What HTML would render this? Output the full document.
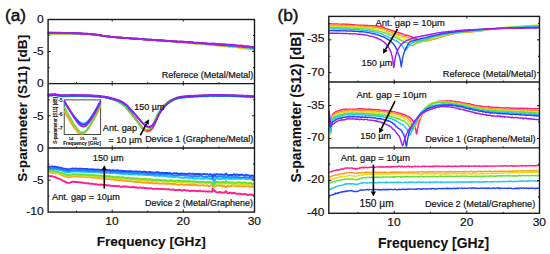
<!DOCTYPE html>
<html><head><meta charset="utf-8"><style>
html,body{margin:0;padding:0;background:#fff;width:550px;height:254px;overflow:hidden}
svg{display:block}
</style></head><body>
<svg width="550" height="254" viewBox="0 0 550 254">
<rect width="550" height="254" fill="#fff"/>
<defs><filter id="sb" x="-5%" y="-50%" width="110%" height="200%"><feGaussianBlur stdDeviation="0.35"/></filter><filter id="tb" x="-5%" y="-20%" width="110%" height="140%"><feGaussianBlur stdDeviation="0.2"/></filter></defs>
<path d="M48.6,34.0 L49.4,34.0 L50.1,34.0 L50.9,33.9 L51.6,33.9 L52.4,33.9 L53.1,33.9 L53.9,33.9 L54.6,33.9 L55.4,33.8 L56.1,33.9 L56.9,33.9 L57.6,33.9 L58.4,33.8 L59.1,33.8 L59.9,33.9 L60.6,33.8 L61.4,33.7 L62.1,33.7 L62.9,33.7 L63.6,33.7 L64.3,33.7 L65.1,33.7 L65.8,33.8 L66.6,33.8 L67.3,33.8 L68.1,33.7 L68.8,33.6 L69.6,33.8 L70.3,33.8 L71.1,33.7 L71.8,33.7 L72.6,33.7 L73.3,33.7 L74.1,33.8 L74.8,33.8 L75.6,33.8 L76.3,33.9 L77.1,33.9 L77.8,33.8 L78.6,33.9 L79.3,33.9 L80.1,33.9 L80.8,33.9 L81.6,34.0 L82.3,34.0 L83.1,34.0 L83.8,34.1 L84.6,34.0 L85.3,34.2 L86.1,34.3 L86.8,34.1 L87.6,34.1 L88.3,34.2 L89.1,34.2 L89.8,34.3 L90.6,34.3 L91.3,34.4 L92.1,34.5 L92.8,34.5 L93.6,34.5 L94.3,34.6 L95.1,34.7 L95.8,34.7 L96.6,34.7 L97.3,34.9 L98.1,35.1 L98.8,35.3 L99.6,35.2 L100.3,35.2 L101.1,35.5 L101.8,35.5 L102.6,35.6 L103.3,35.8 L104.1,36.0 L104.8,36.2 L105.6,36.2 L106.3,36.2 L107.1,36.3 L107.8,36.6 L108.6,36.6 L109.3,36.6 L110.1,36.7 L110.8,36.8 L111.6,36.8 L112.3,36.8 L113.1,36.9 L113.8,37.0 L114.6,37.2 L115.3,37.3 L116.1,37.3 L116.8,37.4 L117.6,37.4 L118.3,37.5 L119.1,37.6 L119.8,37.6 L120.6,37.5 L121.3,37.6 L122.1,37.6 L122.8,37.5 L123.6,37.6 L124.3,37.8 L125.1,37.9 L125.8,38.2 L126.6,38.2 L127.3,38.0 L128.1,38.1 L128.8,38.3 L129.6,38.3 L130.3,38.3 L131.1,38.4 L131.8,38.6 L132.6,38.4 L133.3,38.4 L134.1,38.6 L134.8,38.6 L135.6,38.6 L136.3,38.7 L137.1,38.8 L137.8,39.0 L138.6,39.0 L139.3,38.9 L140.1,39.0 L140.8,38.9 L141.6,38.8 L142.3,39.1 L143.1,39.1 L143.8,39.2 L144.6,39.3 L145.3,39.3 L146.1,39.5 L146.8,39.5 L147.6,39.7 L148.3,39.5 L149.1,39.7 L149.8,40.0 L150.6,40.0 L151.3,39.8 L152.1,39.9 L152.8,39.9 L153.6,40.1 L154.3,40.2 L155.1,40.1 L155.8,40.1 L156.6,40.1 L157.3,40.1 L158.1,40.4 L158.8,40.6 L159.6,40.6 L160.3,40.7 L161.1,40.6 L161.8,40.6 L162.6,40.7 L163.3,40.8 L164.1,40.8 L164.8,40.9 L165.6,40.8 L166.3,40.8 L167.1,41.2 L167.8,41.3 L168.6,41.0 L169.3,41.2 L170.1,41.6 L170.8,41.4 L171.6,41.3 L172.3,41.5 L173.1,41.3 L173.8,41.6 L174.6,41.8 L175.3,41.8 L176.1,41.8 L176.8,41.9 L177.6,42.0 L178.3,42.0 L179.1,42.0 L179.8,41.9 L180.6,42.3 L181.3,42.4 L182.1,42.4 L182.8,42.5 L183.6,42.5 L184.3,42.5 L185.1,42.7 L185.8,42.7 L186.6,42.7 L187.3,42.8 L188.1,43.1 L188.8,43.2 L189.6,43.2 L190.3,43.1 L191.1,42.9 L191.8,43.2 L192.6,43.6 L193.3,43.5 L194.1,43.5 L194.8,43.7 L195.6,43.8 L196.3,43.9 L197.1,43.8 L197.8,43.9 L198.6,43.9 L199.3,43.9 L200.1,44.2 L200.8,44.2 L201.6,44.5 L202.3,44.6 L203.1,44.3 L203.8,43.9 L204.6,44.3 L205.3,44.4 L206.1,44.4 L206.8,44.7 L207.6,44.6 L208.3,44.2 L209.1,44.6 L209.8,44.9 L210.6,44.9 L211.3,45.0 L212.1,45.0 L212.8,44.8 L213.6,45.0 L214.3,45.2 L215.1,45.0 L215.8,45.3 L216.6,45.6 L217.3,45.7 L218.1,45.6 L218.8,45.5 L219.6,45.6 L220.3,45.6 L221.1,45.9 L221.8,46.0 L222.6,46.1 L223.3,46.3 L224.1,46.7 L224.8,46.5 L225.6,46.4 L226.3,46.7 L227.1,46.6 L227.8,46.5 L228.6,46.5 L229.3,46.9 L230.1,47.0 L230.8,47.0 L231.6,47.0 L232.3,47.3 L233.1,47.4 L233.8,47.0 L234.6,46.9 L235.3,47.1 L236.1,46.7 L236.8,47.1 L237.6,47.9 L238.3,48.1 L239.1,47.7 L239.8,47.7 L240.6,48.1 L241.3,48.4 L242.1,48.3 L242.8,48.4 L243.6,48.5 L244.3,48.7 L245.1,48.9 L245.8,48.9 L246.6,48.7 L247.3,48.9 L248.1,49.0 L248.8,49.2 L249.6,49.2 L250.3,49.1 L251.1,49.4 L251.8,49.3 L252.6,49.7 L253.3,50.3 L254.1,50.0" fill="none" stroke="#e2e01a" stroke-width="1.7" stroke-linejoin="round" stroke-linecap="round" filter="url(#sb)"/>
<path d="M48.6,33.4 L49.4,33.4 L50.1,33.3 L50.9,33.3 L51.6,33.4 L52.4,33.4 L53.1,33.3 L53.9,33.3 L54.6,33.3 L55.4,33.4 L56.1,33.4 L56.9,33.4 L57.6,33.4 L58.4,33.4 L59.1,33.3 L59.9,33.3 L60.6,33.4 L61.4,33.5 L62.1,33.5 L62.9,33.5 L63.6,33.4 L64.3,33.4 L65.1,33.4 L65.8,33.4 L66.6,33.4 L67.3,33.5 L68.1,33.5 L68.8,33.5 L69.6,33.4 L70.3,33.4 L71.1,33.5 L71.8,33.6 L72.6,33.5 L73.3,33.5 L74.1,33.4 L74.8,33.5 L75.6,33.6 L76.3,33.6 L77.1,33.6 L77.8,33.6 L78.6,33.6 L79.3,33.6 L80.1,33.6 L80.8,33.7 L81.6,33.7 L82.3,33.8 L83.1,33.8 L83.8,34.0 L84.6,33.9 L85.3,33.8 L86.1,33.9 L86.8,34.0 L87.6,34.0 L88.3,34.0 L89.1,34.3 L89.8,34.3 L90.6,34.2 L91.3,34.2 L92.1,34.3 L92.8,34.3 L93.6,34.3 L94.3,34.6 L95.1,34.7 L95.8,34.7 L96.6,35.0 L97.3,35.1 L98.1,35.1 L98.8,35.3 L99.6,35.4 L100.3,35.3 L101.1,35.4 L101.8,35.5 L102.6,35.8 L103.3,36.0 L104.1,36.0 L104.8,35.9 L105.6,36.1 L106.3,36.3 L107.1,36.4 L107.8,36.5 L108.6,36.6 L109.3,36.6 L110.1,36.7 L110.8,36.8 L111.6,36.9 L112.3,37.0 L113.1,37.2 L113.8,37.3 L114.6,37.2 L115.3,37.1 L116.1,37.1 L116.8,37.2 L117.6,37.1 L118.3,37.4 L119.1,37.6 L119.8,37.6 L120.6,37.4 L121.3,37.5 L122.1,37.6 L122.8,37.8 L123.6,38.1 L124.3,38.1 L125.1,37.9 L125.8,37.8 L126.6,37.9 L127.3,38.1 L128.1,38.0 L128.8,38.1 L129.6,38.2 L130.3,38.3 L131.1,38.6 L131.8,38.6 L132.6,38.5 L133.3,38.6 L134.1,38.6 L134.8,38.6 L135.6,38.6 L136.3,38.6 L137.1,38.6 L137.8,38.8 L138.6,39.0 L139.3,39.0 L140.1,39.1 L140.8,39.0 L141.6,38.9 L142.3,39.1 L143.1,39.3 L143.8,39.3 L144.6,39.4 L145.3,39.5 L146.1,39.4 L146.8,39.3 L147.6,39.6 L148.3,39.8 L149.1,39.5 L149.8,39.7 L150.6,40.0 L151.3,40.1 L152.1,40.0 L152.8,39.9 L153.6,39.9 L154.3,40.2 L155.1,40.4 L155.8,40.3 L156.6,40.3 L157.3,40.2 L158.1,40.2 L158.8,40.2 L159.6,40.5 L160.3,40.5 L161.1,40.6 L161.8,40.8 L162.6,40.6 L163.3,40.6 L164.1,40.7 L164.8,40.8 L165.6,40.9 L166.3,40.8 L167.1,40.9 L167.8,40.9 L168.6,40.9 L169.3,41.0 L170.1,41.4 L170.8,41.2 L171.6,41.2 L172.3,41.4 L173.1,41.3 L173.8,41.5 L174.6,41.7 L175.3,41.8 L176.1,41.8 L176.8,41.7 L177.6,41.9 L178.3,41.8 L179.1,41.9 L179.8,42.1 L180.6,42.1 L181.3,42.2 L182.1,42.1 L182.8,42.1 L183.6,42.3 L184.3,42.5 L185.1,42.5 L185.8,42.4 L186.6,42.3 L187.3,42.5 L188.1,42.6 L188.8,42.4 L189.6,42.6 L190.3,43.0 L191.1,42.9 L191.8,42.7 L192.6,42.8 L193.3,42.9 L194.1,43.1 L194.8,43.2 L195.6,43.1 L196.3,43.3 L197.1,43.4 L197.8,43.4 L198.6,43.5 L199.3,43.3 L200.1,43.3 L200.8,43.7 L201.6,44.0 L202.3,43.9 L203.1,44.0 L203.8,44.0 L204.6,44.1 L205.3,44.4 L206.1,44.3 L206.8,43.9 L207.6,44.0 L208.3,44.1 L209.1,44.4 L209.8,44.7 L210.6,44.6 L211.3,44.3 L212.1,44.5 L212.8,44.9 L213.6,44.6 L214.3,44.6 L215.1,44.9 L215.8,45.0 L216.6,45.1 L217.3,45.0 L218.1,45.0 L218.8,45.0 L219.6,45.5 L220.3,45.8 L221.1,45.6 L221.8,45.4 L222.6,45.2 L223.3,45.4 L224.1,45.7 L224.8,45.9 L225.6,45.9 L226.3,45.8 L227.1,45.9 L227.8,46.1 L228.6,46.4 L229.3,46.8 L230.1,46.6 L230.8,46.3 L231.6,46.4 L232.3,46.5 L233.1,46.4 L233.8,46.6 L234.6,46.6 L235.3,46.8 L236.1,47.0 L236.8,47.1 L237.6,47.1 L238.3,47.1 L239.1,47.0 L239.8,47.2 L240.6,47.3 L241.3,47.5 L242.1,47.6 L242.8,47.5 L243.6,47.6 L244.3,47.7 L245.1,47.6 L245.8,47.9 L246.6,47.7 L247.3,47.9 L248.1,48.4 L248.8,48.4 L249.6,48.4 L250.3,48.5 L251.1,48.5 L251.8,48.6 L252.6,48.7 L253.3,48.9 L254.1,48.9" fill="none" stroke="#ff9a1a" stroke-width="1.7" stroke-linejoin="round" stroke-linecap="round" filter="url(#sb)"/>
<path d="M48.6,33.8 L49.4,33.8 L50.1,33.8 L50.9,33.7 L51.6,33.7 L52.4,33.7 L53.1,33.7 L53.9,33.7 L54.6,33.7 L55.4,33.7 L56.1,33.7 L56.9,33.6 L57.6,33.7 L58.4,33.7 L59.1,33.7 L59.9,33.6 L60.6,33.6 L61.4,33.7 L62.1,33.8 L62.9,33.7 L63.6,33.6 L64.3,33.6 L65.1,33.7 L65.8,33.5 L66.6,33.6 L67.3,33.6 L68.1,33.5 L68.8,33.6 L69.6,33.7 L70.3,33.7 L71.1,33.7 L71.8,33.8 L72.6,33.9 L73.3,33.8 L74.1,33.7 L74.8,33.7 L75.6,33.6 L76.3,33.7 L77.1,33.8 L77.8,33.8 L78.6,33.9 L79.3,33.8 L80.1,33.8 L80.8,33.9 L81.6,34.0 L82.3,34.0 L83.1,34.0 L83.8,34.0 L84.6,34.0 L85.3,34.0 L86.1,33.9 L86.8,34.0 L87.6,34.1 L88.3,34.2 L89.1,34.1 L89.8,34.1 L90.6,34.2 L91.3,34.2 L92.1,34.2 L92.8,34.3 L93.6,34.5 L94.3,34.7 L95.1,34.7 L95.8,34.7 L96.6,34.9 L97.3,34.8 L98.1,34.8 L98.8,35.2 L99.6,35.3 L100.3,35.5 L101.1,35.7 L101.8,35.7 L102.6,35.8 L103.3,35.9 L104.1,36.0 L104.8,36.0 L105.6,36.2 L106.3,36.5 L107.1,36.5 L107.8,36.5 L108.6,36.6 L109.3,36.8 L110.1,36.8 L110.8,36.9 L111.6,36.9 L112.3,36.8 L113.1,37.0 L113.8,37.1 L114.6,37.3 L115.3,37.1 L116.1,37.1 L116.8,37.3 L117.6,37.3 L118.3,37.2 L119.1,37.4 L119.8,37.7 L120.6,37.7 L121.3,37.7 L122.1,37.8 L122.8,37.8 L123.6,37.9 L124.3,37.9 L125.1,37.8 L125.8,37.9 L126.6,38.0 L127.3,38.1 L128.1,38.2 L128.8,38.2 L129.6,38.2 L130.3,38.3 L131.1,38.4 L131.8,38.5 L132.6,38.4 L133.3,38.6 L134.1,38.9 L134.8,39.1 L135.6,38.9 L136.3,38.8 L137.1,39.0 L137.8,39.0 L138.6,38.8 L139.3,38.9 L140.1,39.1 L140.8,39.0 L141.6,38.9 L142.3,38.9 L143.1,39.2 L143.8,39.3 L144.6,39.3 L145.3,39.4 L146.1,39.5 L146.8,39.5 L147.6,39.6 L148.3,39.6 L149.1,39.5 L149.8,39.6 L150.6,39.8 L151.3,40.0 L152.1,39.8 L152.8,39.8 L153.6,39.9 L154.3,40.1 L155.1,40.0 L155.8,39.9 L156.6,40.1 L157.3,40.5 L158.1,40.7 L158.8,40.5 L159.6,40.5 L160.3,40.8 L161.1,40.8 L161.8,40.5 L162.6,40.8 L163.3,40.9 L164.1,40.9 L164.8,40.8 L165.6,41.0 L166.3,41.4 L167.1,41.3 L167.8,41.2 L168.6,40.9 L169.3,41.0 L170.1,41.3 L170.8,41.3 L171.6,41.5 L172.3,41.4 L173.1,41.2 L173.8,41.3 L174.6,41.5 L175.3,41.5 L176.1,41.5 L176.8,41.6 L177.6,41.5 L178.3,41.7 L179.1,42.1 L179.8,42.1 L180.6,42.4 L181.3,42.3 L182.1,41.9 L182.8,41.8 L183.6,42.0 L184.3,42.1 L185.1,42.3 L185.8,42.2 L186.6,42.3 L187.3,42.4 L188.1,42.4 L188.8,42.7 L189.6,42.6 L190.3,42.7 L191.1,42.7 L191.8,42.7 L192.6,42.6 L193.3,42.8 L194.1,43.3 L194.8,43.6 L195.6,43.6 L196.3,43.5 L197.1,43.3 L197.8,43.5 L198.6,43.6 L199.3,43.5 L200.1,43.5 L200.8,43.6 L201.6,43.6 L202.3,43.6 L203.1,43.6 L203.8,43.6 L204.6,44.2 L205.3,44.3 L206.1,44.0 L206.8,44.1 L207.6,44.3 L208.3,44.1 L209.1,44.1 L209.8,44.4 L210.6,44.6 L211.3,44.5 L212.1,44.8 L212.8,44.7 L213.6,44.6 L214.3,44.7 L215.1,44.9 L215.8,44.8 L216.6,44.5 L217.3,44.8 L218.1,45.1 L218.8,45.3 L219.6,45.5 L220.3,45.2 L221.1,45.2 L221.8,45.4 L222.6,45.3 L223.3,45.5 L224.1,45.5 L224.8,45.2 L225.6,45.3 L226.3,45.5 L227.1,45.5 L227.8,45.8 L228.6,46.1 L229.3,46.3 L230.1,46.3 L230.8,45.9 L231.6,45.9 L232.3,46.0 L233.1,46.0 L233.8,46.3 L234.6,46.5 L235.3,46.2 L236.1,46.5 L236.8,46.8 L237.6,46.9 L238.3,47.0 L239.1,47.1 L239.8,47.1 L240.6,47.3 L241.3,47.5 L242.1,47.4 L242.8,47.5 L243.6,47.3 L244.3,47.3 L245.1,47.5 L245.8,47.7 L246.6,47.6 L247.3,47.9 L248.1,48.3 L248.8,47.9 L249.6,47.6 L250.3,47.9 L251.1,48.3 L251.8,48.3 L252.6,48.4 L253.3,48.5 L254.1,48.7" fill="none" stroke="#5fe03a" stroke-width="1.7" stroke-linejoin="round" stroke-linecap="round" filter="url(#sb)"/>
<path d="M48.6,33.1 L49.4,33.1 L50.1,33.1 L50.9,33.2 L51.6,33.1 L52.4,33.0 L53.1,33.0 L53.9,33.1 L54.6,33.1 L55.4,33.0 L56.1,33.1 L56.9,33.1 L57.6,33.0 L58.4,33.1 L59.1,33.0 L59.9,33.0 L60.6,33.1 L61.4,33.1 L62.1,33.2 L62.9,33.1 L63.6,33.1 L64.3,33.2 L65.1,33.3 L65.8,33.2 L66.6,33.2 L67.3,33.2 L68.1,33.3 L68.8,33.2 L69.6,33.2 L70.3,33.3 L71.1,33.4 L71.8,33.4 L72.6,33.4 L73.3,33.4 L74.1,33.4 L74.8,33.4 L75.6,33.5 L76.3,33.6 L77.1,33.5 L77.8,33.5 L78.6,33.5 L79.3,33.6 L80.1,33.6 L80.8,33.5 L81.6,33.5 L82.3,33.7 L83.1,33.7 L83.8,33.8 L84.6,33.9 L85.3,33.9 L86.1,33.8 L86.8,33.9 L87.6,34.1 L88.3,34.2 L89.1,34.1 L89.8,34.1 L90.6,34.3 L91.3,34.3 L92.1,34.2 L92.8,34.4 L93.6,34.5 L94.3,34.5 L95.1,34.6 L95.8,34.7 L96.6,34.8 L97.3,34.9 L98.1,34.9 L98.8,35.1 L99.6,35.3 L100.3,35.4 L101.1,35.4 L101.8,35.6 L102.6,35.7 L103.3,35.8 L104.1,35.9 L104.8,36.1 L105.6,36.4 L106.3,36.6 L107.1,36.5 L107.8,36.5 L108.6,36.6 L109.3,36.7 L110.1,36.8 L110.8,36.8 L111.6,36.8 L112.3,37.0 L113.1,37.1 L113.8,37.2 L114.6,37.1 L115.3,37.2 L116.1,37.3 L116.8,37.4 L117.6,37.4 L118.3,37.4 L119.1,37.3 L119.8,37.4 L120.6,37.7 L121.3,37.7 L122.1,37.7 L122.8,37.9 L123.6,37.9 L124.3,37.8 L125.1,37.9 L125.8,38.1 L126.6,38.0 L127.3,38.1 L128.1,38.2 L128.8,38.1 L129.6,38.3 L130.3,38.4 L131.1,38.3 L131.8,38.3 L132.6,38.5 L133.3,38.7 L134.1,38.7 L134.8,38.7 L135.6,38.8 L136.3,38.8 L137.1,38.8 L137.8,38.9 L138.6,38.9 L139.3,38.9 L140.1,39.0 L140.8,39.1 L141.6,39.1 L142.3,39.1 L143.1,39.3 L143.8,39.4 L144.6,39.5 L145.3,39.6 L146.1,39.6 L146.8,39.8 L147.6,39.7 L148.3,39.6 L149.1,39.7 L149.8,39.9 L150.6,40.1 L151.3,39.8 L152.1,39.6 L152.8,39.9 L153.6,40.1 L154.3,40.2 L155.1,40.2 L155.8,40.2 L156.6,40.3 L157.3,40.3 L158.1,40.4 L158.8,40.2 L159.6,40.2 L160.3,40.4 L161.1,40.5 L161.8,40.7 L162.6,40.5 L163.3,40.6 L164.1,40.7 L164.8,40.6 L165.6,40.6 L166.3,40.7 L167.1,41.0 L167.8,41.2 L168.6,41.2 L169.3,41.2 L170.1,41.3 L170.8,41.2 L171.6,41.3 L172.3,41.5 L173.1,41.5 L173.8,41.4 L174.6,41.4 L175.3,41.5 L176.1,41.5 L176.8,41.7 L177.6,41.8 L178.3,41.8 L179.1,41.8 L179.8,41.8 L180.6,42.0 L181.3,42.0 L182.1,42.2 L182.8,42.4 L183.6,42.4 L184.3,42.5 L185.1,42.3 L185.8,42.2 L186.6,42.4 L187.3,42.5 L188.1,42.5 L188.8,42.5 L189.6,42.3 L190.3,42.4 L191.1,42.4 L191.8,42.5 L192.6,42.8 L193.3,42.7 L194.1,42.8 L194.8,43.0 L195.6,42.9 L196.3,42.7 L197.1,42.8 L197.8,42.8 L198.6,42.9 L199.3,43.4 L200.1,43.5 L200.8,43.4 L201.6,43.4 L202.3,43.4 L203.1,43.6 L203.8,43.6 L204.6,43.8 L205.3,44.1 L206.1,44.1 L206.8,44.0 L207.6,43.8 L208.3,44.0 L209.1,44.1 L209.8,44.2 L210.6,44.3 L211.3,44.5 L212.1,44.3 L212.8,44.1 L213.6,44.5 L214.3,44.6 L215.1,44.4 L215.8,44.5 L216.6,44.4 L217.3,44.6 L218.1,45.2 L218.8,45.4 L219.6,44.9 L220.3,44.7 L221.1,44.9 L221.8,45.2 L222.6,45.2 L223.3,45.0 L224.1,45.3 L224.8,45.6 L225.6,45.5 L226.3,45.3 L227.1,45.1 L227.8,45.3 L228.6,45.2 L229.3,45.5 L230.1,45.8 L230.8,45.9 L231.6,46.3 L232.3,46.5 L233.1,46.1 L233.8,46.1 L234.6,46.5 L235.3,46.4 L236.1,46.1 L236.8,46.3 L237.6,46.2 L238.3,46.6 L239.1,46.5 L239.8,46.1 L240.6,46.6 L241.3,46.8 L242.1,46.9 L242.8,47.1 L243.6,47.1 L244.3,47.3 L245.1,47.1 L245.8,47.0 L246.6,47.3 L247.3,47.4 L248.1,47.7 L248.8,47.6 L249.6,47.5 L250.3,47.9 L251.1,48.1 L251.8,48.0 L252.6,48.3 L253.3,48.9 L254.1,48.4" fill="none" stroke="#22c4f4" stroke-width="1.7" stroke-linejoin="round" stroke-linecap="round" filter="url(#sb)"/>
<path d="M48.6,32.9 L49.4,33.0 L50.1,33.0 L50.9,32.9 L51.6,32.9 L52.4,32.9 L53.1,32.9 L53.9,32.9 L54.6,32.9 L55.4,32.9 L56.1,32.9 L56.9,32.9 L57.6,32.9 L58.4,32.9 L59.1,32.9 L59.9,33.0 L60.6,33.1 L61.4,33.0 L62.1,33.1 L62.9,33.0 L63.6,33.0 L64.3,33.0 L65.1,33.1 L65.8,33.1 L66.6,33.1 L67.3,33.2 L68.1,33.1 L68.8,33.1 L69.6,33.1 L70.3,33.2 L71.1,33.2 L71.8,33.2 L72.6,33.3 L73.3,33.1 L74.1,33.1 L74.8,33.2 L75.6,33.2 L76.3,33.4 L77.1,33.5 L77.8,33.4 L78.6,33.3 L79.3,33.5 L80.1,33.6 L80.8,33.6 L81.6,33.6 L82.3,33.8 L83.1,33.9 L83.8,33.8 L84.6,33.8 L85.3,33.8 L86.1,33.8 L86.8,33.7 L87.6,33.8 L88.3,33.9 L89.1,33.9 L89.8,34.0 L90.6,34.3 L91.3,34.3 L92.1,34.2 L92.8,34.3 L93.6,34.4 L94.3,34.6 L95.1,34.6 L95.8,34.6 L96.6,34.6 L97.3,34.7 L98.1,35.0 L98.8,35.2 L99.6,35.2 L100.3,35.3 L101.1,35.5 L101.8,35.7 L102.6,35.7 L103.3,35.8 L104.1,35.8 L104.8,35.9 L105.6,36.2 L106.3,36.2 L107.1,36.2 L107.8,36.5 L108.6,36.5 L109.3,36.5 L110.1,36.6 L110.8,36.8 L111.6,36.8 L112.3,36.8 L113.1,36.8 L113.8,37.0 L114.6,37.0 L115.3,37.2 L116.1,37.3 L116.8,37.4 L117.6,37.4 L118.3,37.5 L119.1,37.7 L119.8,37.7 L120.6,37.8 L121.3,37.8 L122.1,37.7 L122.8,37.8 L123.6,37.8 L124.3,37.8 L125.1,37.9 L125.8,37.9 L126.6,37.9 L127.3,37.9 L128.1,38.1 L128.8,38.3 L129.6,38.4 L130.3,38.4 L131.1,38.4 L131.8,38.3 L132.6,38.5 L133.3,38.6 L134.1,38.6 L134.8,38.9 L135.6,38.9 L136.3,38.6 L137.1,38.6 L137.8,38.6 L138.6,38.7 L139.3,39.0 L140.1,39.2 L140.8,39.0 L141.6,39.0 L142.3,39.4 L143.1,39.3 L143.8,39.2 L144.6,39.2 L145.3,39.4 L146.1,39.5 L146.8,39.7 L147.6,39.8 L148.3,39.9 L149.1,39.9 L149.8,39.9 L150.6,39.7 L151.3,39.6 L152.1,39.9 L152.8,39.9 L153.6,40.0 L154.3,40.1 L155.1,39.9 L155.8,40.2 L156.6,40.4 L157.3,40.3 L158.1,40.4 L158.8,40.5 L159.6,40.5 L160.3,40.2 L161.1,40.1 L161.8,40.4 L162.6,40.4 L163.3,40.5 L164.1,40.8 L164.8,40.8 L165.6,40.6 L166.3,40.9 L167.1,41.1 L167.8,40.7 L168.6,40.9 L169.3,41.1 L170.1,41.1 L170.8,41.2 L171.6,41.2 L172.3,41.1 L173.1,41.2 L173.8,41.5 L174.6,41.4 L175.3,41.4 L176.1,41.5 L176.8,41.9 L177.6,41.9 L178.3,41.7 L179.1,41.9 L179.8,41.7 L180.6,41.9 L181.3,42.1 L182.1,42.2 L182.8,42.2 L183.6,42.0 L184.3,41.9 L185.1,42.1 L185.8,42.3 L186.6,42.5 L187.3,42.5 L188.1,42.5 L188.8,42.7 L189.6,42.7 L190.3,42.3 L191.1,42.2 L191.8,42.3 L192.6,42.7 L193.3,42.8 L194.1,42.8 L194.8,43.1 L195.6,43.2 L196.3,43.3 L197.1,43.1 L197.8,43.0 L198.6,43.1 L199.3,43.2 L200.1,43.1 L200.8,43.2 L201.6,43.5 L202.3,43.3 L203.1,43.2 L203.8,43.4 L204.6,43.4 L205.3,43.7 L206.1,43.7 L206.8,43.8 L207.6,43.6 L208.3,43.7 L209.1,43.9 L209.8,43.9 L210.6,44.1 L211.3,43.7 L212.1,43.6 L212.8,44.1 L213.6,44.5 L214.3,44.5 L215.1,44.4 L215.8,44.2 L216.6,44.4 L217.3,45.0 L218.1,44.8 L218.8,44.6 L219.6,44.4 L220.3,44.6 L221.1,45.3 L221.8,45.3 L222.6,45.2 L223.3,45.2 L224.1,44.9 L224.8,45.1 L225.6,45.1 L226.3,44.9 L227.1,45.2 L227.8,45.5 L228.6,45.6 L229.3,45.5 L230.1,45.4 L230.8,45.2 L231.6,45.4 L232.3,45.6 L233.1,45.4 L233.8,45.4 L234.6,45.6 L235.3,45.5 L236.1,45.5 L236.8,45.6 L237.6,45.9 L238.3,46.3 L239.1,46.6 L239.8,46.4 L240.6,46.0 L241.3,46.5 L242.1,46.6 L242.8,46.5 L243.6,46.9 L244.3,47.0 L245.1,46.6 L245.8,46.5 L246.6,46.8 L247.3,47.2 L248.1,47.0 L248.8,46.8 L249.6,47.2 L250.3,47.6 L251.1,47.5 L251.8,47.5 L252.6,47.8 L253.3,47.5 L254.1,47.4" fill="none" stroke="#2444ff" stroke-width="1.7" stroke-linejoin="round" stroke-linecap="round" filter="url(#sb)"/>
<path d="M48.6,32.7 L49.4,32.7 L50.1,32.6 L50.9,32.6 L51.6,32.7 L52.4,32.8 L53.1,32.7 L53.9,32.8 L54.6,32.8 L55.4,32.7 L56.1,32.9 L56.9,32.9 L57.6,32.8 L58.4,32.8 L59.1,32.8 L59.9,32.8 L60.6,32.7 L61.4,32.9 L62.1,33.0 L62.9,33.0 L63.6,32.9 L64.3,32.9 L65.1,33.1 L65.8,33.1 L66.6,33.0 L67.3,32.9 L68.1,32.9 L68.8,32.9 L69.6,32.8 L70.3,33.0 L71.1,33.0 L71.8,33.0 L72.6,33.1 L73.3,33.3 L74.1,33.4 L74.8,33.3 L75.6,33.3 L76.3,33.3 L77.1,33.2 L77.8,33.4 L78.6,33.3 L79.3,33.3 L80.1,33.3 L80.8,33.4 L81.6,33.6 L82.3,33.6 L83.1,33.5 L83.8,33.6 L84.6,33.5 L85.3,33.6 L86.1,33.8 L86.8,34.0 L87.6,34.0 L88.3,33.9 L89.1,34.0 L89.8,34.0 L90.6,34.1 L91.3,34.2 L92.1,34.2 L92.8,34.3 L93.6,34.4 L94.3,34.4 L95.1,34.4 L95.8,34.5 L96.6,34.7 L97.3,34.8 L98.1,34.9 L98.8,35.1 L99.6,35.3 L100.3,35.3 L101.1,35.3 L101.8,35.5 L102.6,35.7 L103.3,36.0 L104.1,36.2 L104.8,36.1 L105.6,36.3 L106.3,36.3 L107.1,36.4 L107.8,36.5 L108.6,36.3 L109.3,36.6 L110.1,37.0 L110.8,36.8 L111.6,36.8 L112.3,36.9 L113.1,37.0 L113.8,36.9 L114.6,36.9 L115.3,37.2 L116.1,37.3 L116.8,37.4 L117.6,37.5 L118.3,37.6 L119.1,37.6 L119.8,37.5 L120.6,37.5 L121.3,37.4 L122.1,37.7 L122.8,37.8 L123.6,37.8 L124.3,37.9 L125.1,37.8 L125.8,37.9 L126.6,38.0 L127.3,38.0 L128.1,38.2 L128.8,38.3 L129.6,38.3 L130.3,38.2 L131.1,38.3 L131.8,38.5 L132.6,38.6 L133.3,38.9 L134.1,38.9 L134.8,38.7 L135.6,38.7 L136.3,38.7 L137.1,38.6 L137.8,38.7 L138.6,38.8 L139.3,38.9 L140.1,39.1 L140.8,39.1 L141.6,39.1 L142.3,39.0 L143.1,39.3 L143.8,39.5 L144.6,39.6 L145.3,39.7 L146.1,39.7 L146.8,39.6 L147.6,39.6 L148.3,39.9 L149.1,39.8 L149.8,39.7 L150.6,40.0 L151.3,40.0 L152.1,40.0 L152.8,40.1 L153.6,40.0 L154.3,40.0 L155.1,40.0 L155.8,39.9 L156.6,40.0 L157.3,40.1 L158.1,40.2 L158.8,40.4 L159.6,40.2 L160.3,40.5 L161.1,40.8 L161.8,40.7 L162.6,40.6 L163.3,40.5 L164.1,40.7 L164.8,40.8 L165.6,40.6 L166.3,40.7 L167.1,41.3 L167.8,41.0 L168.6,40.8 L169.3,41.1 L170.1,41.0 L170.8,41.2 L171.6,41.1 L172.3,41.0 L173.1,41.4 L173.8,41.4 L174.6,41.2 L175.3,41.3 L176.1,41.4 L176.8,41.6 L177.6,41.6 L178.3,41.5 L179.1,41.6 L179.8,41.6 L180.6,41.8 L181.3,41.4 L182.1,41.5 L182.8,41.7 L183.6,41.7 L184.3,42.1 L185.1,42.0 L185.8,41.8 L186.6,42.1 L187.3,42.3 L188.1,42.4 L188.8,42.5 L189.6,42.2 L190.3,42.2 L191.1,42.5 L191.8,42.7 L192.6,42.6 L193.3,42.5 L194.1,42.6 L194.8,42.5 L195.6,42.9 L196.3,43.0 L197.1,42.6 L197.8,42.6 L198.6,42.9 L199.3,43.1 L200.1,43.0 L200.8,42.9 L201.6,43.0 L202.3,42.9 L203.1,42.7 L203.8,43.1 L204.6,43.3 L205.3,43.3 L206.1,43.6 L206.8,43.7 L207.6,43.6 L208.3,43.8 L209.1,44.0 L209.8,43.7 L210.6,43.7 L211.3,43.9 L212.1,43.7 L212.8,43.7 L213.6,43.9 L214.3,43.6 L215.1,43.7 L215.8,44.0 L216.6,44.0 L217.3,43.8 L218.1,43.9 L218.8,44.2 L219.6,44.3 L220.3,44.2 L221.1,44.3 L221.8,44.4 L222.6,44.3 L223.3,44.7 L224.1,44.7 L224.8,44.5 L225.6,44.8 L226.3,44.9 L227.1,44.7 L227.8,44.9 L228.6,45.1 L229.3,44.8 L230.1,44.6 L230.8,44.8 L231.6,44.8 L232.3,44.9 L233.1,45.0 L233.8,45.3 L234.6,45.3 L235.3,45.3 L236.1,45.6 L236.8,45.5 L237.6,45.5 L238.3,46.0 L239.1,46.1 L239.8,45.8 L240.6,45.8 L241.3,45.8 L242.1,45.9 L242.8,46.3 L243.6,46.2 L244.3,46.1 L245.1,46.5 L245.8,46.5 L246.6,46.4 L247.3,46.4 L248.1,46.3 L248.8,46.4 L249.6,47.0 L250.3,47.1 L251.1,46.7 L251.8,46.8 L252.6,46.9 L253.3,47.2 L254.1,47.4" fill="none" stroke="#ff1a8c" stroke-width="1.7" stroke-linejoin="round" stroke-linecap="round" filter="url(#sb)"/>
<path d="M48.6,32.7 L49.4,32.7 L50.1,32.7 L50.9,32.7 L51.6,32.7 L52.4,32.6 L53.1,32.6 L53.9,32.6 L54.6,32.6 L55.4,32.6 L56.1,32.6 L56.9,32.7 L57.6,32.7 L58.4,32.7 L59.1,32.7 L59.9,32.8 L60.6,32.7 L61.4,32.7 L62.1,32.8 L62.9,32.8 L63.6,32.8 L64.3,32.8 L65.1,32.8 L65.8,32.8 L66.6,33.0 L67.3,32.9 L68.1,33.0 L68.8,33.1 L69.6,33.0 L70.3,33.0 L71.1,33.0 L71.8,32.9 L72.6,32.9 L73.3,33.0 L74.1,33.1 L74.8,33.1 L75.6,33.2 L76.3,33.1 L77.1,33.2 L77.8,33.2 L78.6,33.2 L79.3,33.3 L80.1,33.3 L80.8,33.3 L81.6,33.3 L82.3,33.4 L83.1,33.6 L83.8,33.7 L84.6,33.6 L85.3,33.6 L86.1,33.6 L86.8,33.8 L87.6,33.7 L88.3,33.8 L89.1,34.0 L89.8,33.9 L90.6,34.0 L91.3,34.2 L92.1,34.3 L92.8,34.4 L93.6,34.4 L94.3,34.6 L95.1,34.7 L95.8,34.7 L96.6,34.9 L97.3,35.0 L98.1,35.0 L98.8,35.1 L99.6,35.2 L100.3,35.4 L101.1,35.5 L101.8,35.6 L102.6,35.8 L103.3,35.9 L104.1,35.8 L104.8,35.9 L105.6,36.2 L106.3,36.3 L107.1,36.3 L107.8,36.3 L108.6,36.4 L109.3,36.6 L110.1,36.7 L110.8,36.7 L111.6,36.8 L112.3,37.0 L113.1,37.0 L113.8,37.0 L114.6,37.0 L115.3,37.3 L116.1,37.4 L116.8,37.2 L117.6,37.3 L118.3,37.3 L119.1,37.5 L119.8,37.8 L120.6,37.7 L121.3,37.5 L122.1,37.7 L122.8,38.0 L123.6,38.0 L124.3,38.1 L125.1,38.0 L125.8,37.9 L126.6,37.9 L127.3,37.9 L128.1,38.1 L128.8,38.2 L129.6,38.4 L130.3,38.5 L131.1,38.3 L131.8,38.5 L132.6,38.7 L133.3,38.8 L134.1,38.5 L134.8,38.6 L135.6,38.9 L136.3,38.8 L137.1,38.7 L137.8,38.9 L138.6,39.0 L139.3,38.9 L140.1,38.9 L140.8,39.0 L141.6,39.1 L142.3,39.2 L143.1,39.4 L143.8,39.5 L144.6,39.3 L145.3,39.3 L146.1,39.6 L146.8,39.6 L147.6,39.7 L148.3,39.6 L149.1,39.5 L149.8,39.7 L150.6,39.7 L151.3,39.5 L152.1,39.7 L152.8,39.9 L153.6,39.8 L154.3,39.8 L155.1,39.7 L155.8,39.8 L156.6,40.0 L157.3,40.2 L158.1,40.0 L158.8,40.1 L159.6,40.3 L160.3,40.1 L161.1,40.4 L161.8,40.5 L162.6,40.3 L163.3,40.6 L164.1,40.7 L164.8,40.6 L165.6,40.8 L166.3,40.9 L167.1,40.9 L167.8,40.9 L168.6,40.9 L169.3,41.0 L170.1,41.0 L170.8,40.9 L171.6,41.3 L172.3,41.4 L173.1,41.2 L173.8,41.5 L174.6,41.6 L175.3,41.3 L176.1,41.3 L176.8,41.3 L177.6,41.4 L178.3,41.8 L179.1,41.6 L179.8,41.4 L180.6,41.6 L181.3,41.7 L182.1,41.6 L182.8,41.7 L183.6,41.6 L184.3,41.6 L185.1,41.8 L185.8,41.9 L186.6,42.0 L187.3,41.9 L188.1,42.0 L188.8,42.2 L189.6,42.1 L190.3,42.0 L191.1,42.0 L191.8,42.2 L192.6,42.3 L193.3,42.3 L194.1,42.6 L194.8,42.8 L195.6,42.9 L196.3,42.8 L197.1,42.5 L197.8,42.7 L198.6,42.9 L199.3,43.0 L200.1,43.0 L200.8,43.1 L201.6,43.2 L202.3,43.2 L203.1,43.2 L203.8,43.2 L204.6,43.2 L205.3,43.3 L206.1,43.4 L206.8,43.4 L207.6,43.5 L208.3,43.6 L209.1,43.6 L209.8,43.6 L210.6,43.5 L211.3,43.8 L212.1,43.9 L212.8,43.5 L213.6,43.4 L214.3,43.6 L215.1,44.1 L215.8,44.2 L216.6,44.1 L217.3,44.0 L218.1,43.9 L218.8,44.2 L219.6,44.5 L220.3,44.3 L221.1,44.2 L221.8,44.4 L222.6,44.2 L223.3,44.2 L224.1,44.4 L224.8,44.1 L225.6,44.3 L226.3,44.8 L227.1,44.7 L227.8,44.4 L228.6,44.8 L229.3,45.1 L230.1,45.0 L230.8,45.3 L231.6,45.1 L232.3,45.1 L233.1,45.2 L233.8,45.1 L234.6,45.2 L235.3,45.2 L236.1,45.5 L236.8,45.5 L237.6,45.4 L238.3,45.4 L239.1,45.5 L239.8,45.5 L240.6,45.4 L241.3,45.6 L242.1,45.7 L242.8,45.7 L243.6,45.8 L244.3,46.2 L245.1,46.6 L245.8,46.4 L246.6,46.2 L247.3,46.6 L248.1,46.7 L248.8,46.4 L249.6,46.5 L250.3,46.6 L251.1,46.9 L251.8,46.9 L252.6,47.1 L253.3,47.0 L254.1,46.9" fill="none" stroke="#a21af0" stroke-width="1.7" stroke-linejoin="round" stroke-linecap="round" filter="url(#sb)"/>
<path d="M48.6,94.9 L49.4,94.9 L50.1,94.8 L50.9,94.7 L51.6,94.7 L52.4,94.8 L53.1,94.6 L53.9,94.5 L54.6,94.6 L55.4,94.7 L56.1,94.9 L56.9,95.1 L57.6,95.2 L58.4,95.4 L59.1,95.5 L59.9,95.6 L60.6,95.8 L61.4,95.6 L62.1,95.5 L62.9,95.6 L63.6,95.6 L64.3,95.6 L65.1,95.5 L65.8,95.5 L66.6,95.5 L67.3,95.6 L68.1,95.5 L68.8,95.5 L69.6,95.5 L70.3,95.4 L71.1,95.4 L71.8,95.5 L72.6,95.4 L73.3,95.5 L74.1,95.6 L74.8,95.4 L75.6,95.3 L76.3,95.5 L77.1,95.6 L77.8,95.5 L78.6,95.3 L79.3,95.4 L80.1,95.4 L80.8,95.4 L81.6,95.4 L82.3,95.5 L83.1,95.4 L83.8,95.6 L84.6,95.6 L85.3,95.6 L86.1,95.7 L86.8,95.8 L87.6,95.7 L88.3,95.7 L89.1,95.7 L89.8,95.8 L90.6,96.0 L91.3,95.8 L92.1,95.8 L92.8,96.0 L93.6,96.1 L94.3,96.2 L95.1,96.3 L95.8,96.2 L96.6,96.2 L97.3,96.2 L98.1,96.3 L98.8,96.4 L99.6,96.7 L100.3,96.8 L101.1,96.6 L101.8,96.7 L102.6,96.9 L103.3,97.0 L104.1,97.1 L104.8,97.3 L105.6,97.5 L106.3,97.7 L107.1,97.8 L107.8,98.1 L108.6,98.3 L109.3,98.4 L110.1,98.6 L110.8,98.8 L111.6,99.1 L112.3,99.3 L113.1,99.5 L113.8,99.9 L114.6,100.2 L115.3,100.4 L116.1,100.7 L116.8,101.0 L117.6,101.5 L118.3,101.8 L119.1,102.0 L119.8,102.3 L120.6,103.0 L121.3,103.6 L122.1,104.1 L122.8,104.7 L123.6,105.2 L124.3,105.8 L125.1,106.5 L125.8,107.3 L126.6,108.0 L127.3,108.9 L128.1,110.0 L128.8,110.8 L129.6,111.6 L130.3,112.6 L131.1,113.6 L131.8,114.4 L132.6,115.4 L133.3,116.6 L134.1,117.5 L134.8,118.6 L135.6,119.7 L136.3,120.5 L137.1,121.5 L137.8,122.5 L138.6,123.5 L139.3,124.6 L140.1,125.6 L140.8,126.5 L141.6,127.5 L142.3,128.4 L143.1,129.2 L143.8,129.8 L144.6,130.3 L145.3,130.9 L146.1,131.3 L146.8,131.6 L147.6,131.6 L148.3,131.4 L149.1,131.1 L149.8,130.8 L150.6,130.4 L151.3,129.8 L152.1,128.8 L152.8,127.6 L153.6,126.3 L154.3,124.8 L155.1,123.1 L155.8,121.3 L156.6,119.4 L157.3,117.7 L158.1,116.3 L158.8,114.8 L159.6,113.4 L160.3,112.1 L161.1,111.1 L161.8,110.0 L162.6,109.0 L163.3,108.1 L164.1,107.0 L164.8,106.0 L165.6,105.3 L166.3,104.7 L167.1,103.8 L167.8,103.1 L168.6,102.6 L169.3,102.1 L170.1,101.6 L170.8,101.0 L171.6,100.4 L172.3,100.0 L173.1,99.6 L173.8,99.3 L174.6,98.7 L175.3,98.5 L176.1,98.3 L176.8,98.2 L177.6,98.0 L178.3,97.7 L179.1,97.6 L179.8,97.6 L180.6,97.4 L181.3,97.2 L182.1,97.2 L182.8,97.0 L183.6,96.9 L184.3,96.8 L185.1,96.6 L185.8,96.6 L186.6,96.5 L187.3,96.5 L188.1,96.6 L188.8,96.4 L189.6,96.3 L190.3,96.2 L191.1,96.3 L191.8,96.3 L192.6,96.2 L193.3,96.2 L194.1,96.1 L194.8,96.0 L195.6,95.9 L196.3,95.9 L197.1,96.0 L197.8,95.9 L198.6,95.9 L199.3,96.0 L200.1,95.7 L200.8,95.6 L201.6,95.7 L202.3,95.7 L203.1,95.9 L203.8,95.8 L204.6,95.6 L205.3,95.6 L206.1,95.6 L206.8,95.6 L207.6,95.6 L208.3,95.5 L209.1,95.5 L209.8,95.4 L210.6,95.3 L211.3,95.4 L212.1,95.5 L212.8,95.3 L213.6,95.2 L214.3,95.2 L215.1,95.3 L215.8,95.4 L216.6,95.3 L217.3,95.3 L218.1,95.4 L218.8,95.4 L219.6,95.4 L220.3,95.5 L221.1,95.5 L221.8,95.5 L222.6,95.5 L223.3,95.6 L224.1,95.4 L224.8,95.4 L225.6,95.6 L226.3,95.5 L227.1,95.5 L227.8,95.4 L228.6,95.4 L229.3,95.5 L230.1,95.6 L230.8,95.6 L231.6,95.7 L232.3,95.8 L233.1,95.7 L233.8,95.7 L234.6,95.7 L235.3,95.7 L236.1,95.7 L236.8,95.8 L237.6,95.9 L238.3,95.8 L239.1,95.9 L239.8,95.9 L240.6,96.0 L241.3,96.2 L242.1,96.2 L242.8,96.1 L243.6,96.1 L244.3,96.0 L245.1,96.1 L245.8,96.2 L246.6,96.3 L247.3,96.3 L248.1,96.4 L248.8,96.4 L249.6,96.6 L250.3,96.6 L251.1,96.5 L251.8,96.6 L252.6,96.7 L253.3,96.7 L254.1,96.7" fill="none" stroke="#ff9a1a" stroke-width="1.7" stroke-linejoin="round" stroke-linecap="round" filter="url(#sb)"/>
<path d="M48.6,94.8 L49.4,94.6 L50.1,94.6 L50.9,94.8 L51.6,94.7 L52.4,94.6 L53.1,94.6 L53.9,94.5 L54.6,94.5 L55.4,94.6 L56.1,94.7 L56.9,95.0 L57.6,95.2 L58.4,95.2 L59.1,95.5 L59.9,95.5 L60.6,95.5 L61.4,95.6 L62.1,95.6 L62.9,95.6 L63.6,95.6 L64.3,95.4 L65.1,95.5 L65.8,95.7 L66.6,95.7 L67.3,95.6 L68.1,95.4 L68.8,95.3 L69.6,95.3 L70.3,95.3 L71.1,95.4 L71.8,95.4 L72.6,95.3 L73.3,95.2 L74.1,95.2 L74.8,95.3 L75.6,95.3 L76.3,95.3 L77.1,95.4 L77.8,95.4 L78.6,95.2 L79.3,95.3 L80.1,95.4 L80.8,95.6 L81.6,95.6 L82.3,95.4 L83.1,95.4 L83.8,95.5 L84.6,95.5 L85.3,95.6 L86.1,95.7 L86.8,95.7 L87.6,95.7 L88.3,95.7 L89.1,95.8 L89.8,95.7 L90.6,95.7 L91.3,95.8 L92.1,95.7 L92.8,95.8 L93.6,95.9 L94.3,95.9 L95.1,95.8 L95.8,95.9 L96.6,96.1 L97.3,96.4 L98.1,96.4 L98.8,96.4 L99.6,96.4 L100.3,96.4 L101.1,96.6 L101.8,96.6 L102.6,96.7 L103.3,96.9 L104.1,97.1 L104.8,97.1 L105.6,97.3 L106.3,97.5 L107.1,97.8 L107.8,97.9 L108.6,98.0 L109.3,98.2 L110.1,98.5 L110.8,98.6 L111.6,98.8 L112.3,99.2 L113.1,99.5 L113.8,99.8 L114.6,99.9 L115.3,100.1 L116.1,100.4 L116.8,100.7 L117.6,101.0 L118.3,101.3 L119.1,101.8 L119.8,102.2 L120.6,102.6 L121.3,103.1 L122.1,103.8 L122.8,104.2 L123.6,104.8 L124.3,105.4 L125.1,106.1 L125.8,106.8 L126.6,107.5 L127.3,108.3 L128.1,109.2 L128.8,110.1 L129.6,111.1 L130.3,112.0 L131.1,112.9 L131.8,113.6 L132.6,114.6 L133.3,115.7 L134.1,116.7 L134.8,117.9 L135.6,118.9 L136.3,119.8 L137.1,120.7 L137.8,121.7 L138.6,122.7 L139.3,123.7 L140.1,124.7 L140.8,125.7 L141.6,126.6 L142.3,127.4 L143.1,128.2 L143.8,128.9 L144.6,129.5 L145.3,129.9 L146.1,130.4 L146.8,130.8 L147.6,130.8 L148.3,130.7 L149.1,130.6 L149.8,130.3 L150.6,129.8 L151.3,129.3 L152.1,128.5 L152.8,127.4 L153.6,126.1 L154.3,124.8 L155.1,123.2 L155.8,121.4 L156.6,119.5 L157.3,117.7 L158.1,116.0 L158.8,114.7 L159.6,113.5 L160.3,112.2 L161.1,110.9 L161.8,109.8 L162.6,108.8 L163.3,107.8 L164.1,107.0 L164.8,106.2 L165.6,105.5 L166.3,104.7 L167.1,103.8 L167.8,103.0 L168.6,102.2 L169.3,101.7 L170.1,101.3 L170.8,100.9 L171.6,100.5 L172.3,100.0 L173.1,99.6 L173.8,99.2 L174.6,98.9 L175.3,98.6 L176.1,98.2 L176.8,97.9 L177.6,97.9 L178.3,97.8 L179.1,97.6 L179.8,97.3 L180.6,97.1 L181.3,97.1 L182.1,97.0 L182.8,96.9 L183.6,96.8 L184.3,96.7 L185.1,96.6 L185.8,96.6 L186.6,96.5 L187.3,96.4 L188.1,96.3 L188.8,96.3 L189.6,96.3 L190.3,96.2 L191.1,96.1 L191.8,96.0 L192.6,96.0 L193.3,96.0 L194.1,96.0 L194.8,96.0 L195.6,95.9 L196.3,95.7 L197.1,95.8 L197.8,95.8 L198.6,95.7 L199.3,95.7 L200.1,95.8 L200.8,95.7 L201.6,95.7 L202.3,95.6 L203.1,95.6 L203.8,95.5 L204.6,95.6 L205.3,95.5 L206.1,95.4 L206.8,95.3 L207.6,95.3 L208.3,95.4 L209.1,95.3 L209.8,95.3 L210.6,95.3 L211.3,95.5 L212.1,95.4 L212.8,95.2 L213.6,95.3 L214.3,95.1 L215.1,95.1 L215.8,95.2 L216.6,95.3 L217.3,95.3 L218.1,95.2 L218.8,95.2 L219.6,95.3 L220.3,95.2 L221.1,95.2 L221.8,95.2 L222.6,95.2 L223.3,95.4 L224.1,95.5 L224.8,95.5 L225.6,95.5 L226.3,95.5 L227.1,95.6 L227.8,95.6 L228.6,95.7 L229.3,95.6 L230.1,95.5 L230.8,95.6 L231.6,95.6 L232.3,95.6 L233.1,95.6 L233.8,95.5 L234.6,95.5 L235.3,95.5 L236.1,95.6 L236.8,95.8 L237.6,95.7 L238.3,95.8 L239.1,95.9 L239.8,95.9 L240.6,96.0 L241.3,96.2 L242.1,96.0 L242.8,96.0 L243.6,96.1 L244.3,96.1 L245.1,96.2 L245.8,96.2 L246.6,96.1 L247.3,96.2 L248.1,96.2 L248.8,96.3 L249.6,96.3 L250.3,96.3 L251.1,96.4 L251.8,96.5 L252.6,96.6 L253.3,96.5 L254.1,96.5" fill="none" stroke="#ff2050" stroke-width="1.7" stroke-linejoin="round" stroke-linecap="round" filter="url(#sb)"/>
<path d="M48.6,94.6 L49.4,94.6 L50.1,94.5 L50.9,94.5 L51.6,94.6 L52.4,94.5 L53.1,94.5 L53.9,94.6 L54.6,94.7 L55.4,94.9 L56.1,95.1 L56.9,95.2 L57.6,95.3 L58.4,95.5 L59.1,95.6 L59.9,95.6 L60.6,95.5 L61.4,95.5 L62.1,95.5 L62.9,95.5 L63.6,95.5 L64.3,95.3 L65.1,95.3 L65.8,95.5 L66.6,95.3 L67.3,95.2 L68.1,95.2 L68.8,95.4 L69.6,95.4 L70.3,95.2 L71.1,95.2 L71.8,95.3 L72.6,95.3 L73.3,95.3 L74.1,95.1 L74.8,95.1 L75.6,95.2 L76.3,95.2 L77.1,95.1 L77.8,95.2 L78.6,95.4 L79.3,95.3 L80.1,95.3 L80.8,95.4 L81.6,95.5 L82.3,95.6 L83.1,95.4 L83.8,95.5 L84.6,95.6 L85.3,95.5 L86.1,95.5 L86.8,95.5 L87.6,95.4 L88.3,95.6 L89.1,95.7 L89.8,95.6 L90.6,95.7 L91.3,95.7 L92.1,95.6 L92.8,95.7 L93.6,95.8 L94.3,95.9 L95.1,96.0 L95.8,96.1 L96.6,96.1 L97.3,96.2 L98.1,96.2 L98.8,96.3 L99.6,96.4 L100.3,96.5 L101.1,96.7 L101.8,96.8 L102.6,96.8 L103.3,97.0 L104.1,97.1 L104.8,97.3 L105.6,97.5 L106.3,97.6 L107.1,97.8 L107.8,98.1 L108.6,98.2 L109.3,98.5 L110.1,98.7 L110.8,98.8 L111.6,99.1 L112.3,99.3 L113.1,99.5 L113.8,99.8 L114.6,100.2 L115.3,100.6 L116.1,100.8 L116.8,101.1 L117.6,101.4 L118.3,101.8 L119.1,102.2 L119.8,102.7 L120.6,103.3 L121.3,103.8 L122.1,104.1 L122.8,104.8 L123.6,105.5 L124.3,106.0 L125.1,106.6 L125.8,107.5 L126.6,108.6 L127.3,109.4 L128.1,110.3 L128.8,111.3 L129.6,112.1 L130.3,113.0 L131.1,113.8 L131.8,114.7 L132.6,115.8 L133.3,116.8 L134.1,117.6 L134.8,118.6 L135.6,119.6 L136.3,120.5 L137.1,121.5 L137.8,122.5 L138.6,123.4 L139.3,124.3 L140.1,125.3 L140.8,126.1 L141.6,126.8 L142.3,127.7 L143.1,128.3 L143.8,128.7 L144.6,129.1 L145.3,129.5 L146.1,129.8 L146.8,129.8 L147.6,129.5 L148.3,129.3 L149.1,129.1 L149.8,128.6 L150.6,127.7 L151.3,126.8 L152.1,125.7 L152.8,124.4 L153.6,122.9 L154.3,121.2 L155.1,119.5 L155.8,117.7 L156.6,116.1 L157.3,114.7 L158.1,113.4 L158.8,112.1 L159.6,110.9 L160.3,109.8 L161.1,108.9 L161.8,107.9 L162.6,107.0 L163.3,106.1 L164.1,105.1 L164.8,104.4 L165.6,103.7 L166.3,103.2 L167.1,102.6 L167.8,101.9 L168.6,101.3 L169.3,100.8 L170.1,100.2 L170.8,100.0 L171.6,99.7 L172.3,99.2 L173.1,98.8 L173.8,98.6 L174.6,98.3 L175.3,98.1 L176.1,97.8 L176.8,97.4 L177.6,97.4 L178.3,97.4 L179.1,97.2 L179.8,97.0 L180.6,96.9 L181.3,96.8 L182.1,96.7 L182.8,96.7 L183.6,96.6 L184.3,96.5 L185.1,96.5 L185.8,96.4 L186.6,96.3 L187.3,96.2 L188.1,96.1 L188.8,96.3 L189.6,96.2 L190.3,96.0 L191.1,96.0 L191.8,96.1 L192.6,96.0 L193.3,95.8 L194.1,95.8 L194.8,95.8 L195.6,95.7 L196.3,95.7 L197.1,95.7 L197.8,95.7 L198.6,95.9 L199.3,95.9 L200.1,95.7 L200.8,95.6 L201.6,95.4 L202.3,95.4 L203.1,95.4 L203.8,95.3 L204.6,95.3 L205.3,95.3 L206.1,95.3 L206.8,95.2 L207.6,95.1 L208.3,95.2 L209.1,95.3 L209.8,95.3 L210.6,95.3 L211.3,95.2 L212.1,95.2 L212.8,95.1 L213.6,95.2 L214.3,95.4 L215.1,95.2 L215.8,95.1 L216.6,95.1 L217.3,95.1 L218.1,95.0 L218.8,95.2 L219.6,95.2 L220.3,95.2 L221.1,95.3 L221.8,95.2 L222.6,95.2 L223.3,95.3 L224.1,95.2 L224.8,95.3 L225.6,95.3 L226.3,95.4 L227.1,95.5 L227.8,95.5 L228.6,95.5 L229.3,95.4 L230.1,95.4 L230.8,95.4 L231.6,95.5 L232.3,95.6 L233.1,95.5 L233.8,95.6 L234.6,95.7 L235.3,95.6 L236.1,95.7 L236.8,95.8 L237.6,95.7 L238.3,95.8 L239.1,95.9 L239.8,95.8 L240.6,95.8 L241.3,95.7 L242.1,95.8 L242.8,95.9 L243.6,96.0 L244.3,96.0 L245.1,96.0 L245.8,96.2 L246.6,96.2 L247.3,96.2 L248.1,96.3 L248.8,96.4 L249.6,96.4 L250.3,96.4 L251.1,96.3 L251.8,96.3 L252.6,96.4 L253.3,96.5 L254.1,96.6" fill="none" stroke="#5fe03a" stroke-width="1.7" stroke-linejoin="round" stroke-linecap="round" filter="url(#sb)"/>
<path d="M48.6,95.9 L49.4,95.8 L50.1,95.7 L50.9,95.6 L51.6,95.4 L52.4,95.4 L53.1,95.4 L53.9,95.4 L54.6,95.4 L55.4,95.4 L56.1,95.4 L56.9,95.5 L57.6,95.7 L58.4,95.8 L59.1,96.0 L59.9,96.2 L60.6,96.2 L61.4,96.3 L62.1,96.4 L62.9,96.4 L63.6,96.3 L64.3,96.5 L65.1,96.5 L65.8,96.3 L66.6,96.3 L67.3,96.4 L68.1,96.2 L68.8,96.2 L69.6,96.2 L70.3,96.2 L71.1,96.2 L71.8,96.2 L72.6,96.2 L73.3,96.0 L74.1,96.1 L74.8,96.2 L75.6,96.2 L76.3,96.1 L77.1,96.1 L77.8,96.2 L78.6,96.3 L79.3,96.2 L80.1,96.1 L80.8,96.2 L81.6,96.1 L82.3,96.1 L83.1,96.2 L83.8,96.3 L84.6,96.2 L85.3,96.3 L86.1,96.4 L86.8,96.4 L87.6,96.3 L88.3,96.3 L89.1,96.4 L89.8,96.4 L90.6,96.3 L91.3,96.5 L92.1,96.6 L92.8,96.5 L93.6,96.3 L94.3,96.3 L95.1,96.5 L95.8,96.6 L96.6,96.7 L97.3,96.8 L98.1,96.8 L98.8,96.8 L99.6,96.9 L100.3,96.9 L101.1,97.0 L101.8,97.3 L102.6,97.4 L103.3,97.3 L104.1,97.3 L104.8,97.5 L105.6,97.6 L106.3,97.7 L107.1,97.8 L107.8,98.1 L108.6,98.2 L109.3,98.3 L110.1,98.4 L110.8,98.6 L111.6,98.8 L112.3,99.1 L113.1,99.3 L113.8,99.5 L114.6,99.7 L115.3,100.0 L116.1,100.2 L116.8,100.2 L117.6,100.4 L118.3,100.8 L119.1,101.3 L119.8,101.5 L120.6,101.8 L121.3,102.2 L122.1,102.5 L122.8,102.9 L123.6,103.4 L124.3,104.0 L125.1,104.4 L125.8,104.9 L126.6,105.5 L127.3,106.2 L128.1,106.8 L128.8,107.6 L129.6,108.5 L130.3,109.2 L131.1,110.0 L131.8,110.9 L132.6,111.6 L133.3,112.3 L134.1,113.1 L134.8,113.9 L135.6,114.7 L136.3,115.6 L137.1,116.5 L137.8,117.3 L138.6,118.2 L139.3,119.0 L140.1,119.9 L140.8,120.8 L141.6,121.7 L142.3,122.5 L143.1,123.2 L143.8,123.9 L144.6,124.5 L145.3,125.1 L146.1,125.5 L146.8,125.9 L147.6,126.2 L148.3,126.5 L149.1,126.5 L149.8,126.4 L150.6,126.2 L151.3,125.8 L152.1,125.5 L152.8,124.8 L153.6,123.9 L154.3,123.2 L155.1,121.9 L155.8,120.5 L156.6,119.3 L157.3,117.7 L158.1,116.3 L158.8,114.8 L159.6,113.4 L160.3,112.5 L161.1,111.3 L161.8,110.2 L162.6,109.2 L163.3,108.2 L164.1,107.4 L164.8,106.6 L165.6,105.7 L166.3,105.1 L167.1,104.3 L167.8,103.6 L168.6,103.1 L169.3,102.5 L170.1,102.1 L170.8,101.7 L171.6,101.1 L172.3,100.6 L173.1,100.3 L173.8,99.8 L174.6,99.6 L175.3,99.2 L176.1,99.0 L176.8,98.8 L177.6,98.6 L178.3,98.4 L179.1,98.3 L179.8,98.1 L180.6,97.9 L181.3,97.7 L182.1,97.7 L182.8,97.7 L183.6,97.7 L184.3,97.6 L185.1,97.4 L185.8,97.3 L186.6,97.2 L187.3,97.2 L188.1,97.2 L188.8,97.2 L189.6,97.0 L190.3,96.8 L191.1,96.9 L191.8,97.0 L192.6,96.8 L193.3,96.8 L194.1,96.8 L194.8,96.7 L195.6,96.6 L196.3,96.5 L197.1,96.6 L197.8,96.6 L198.6,96.5 L199.3,96.5 L200.1,96.5 L200.8,96.5 L201.6,96.5 L202.3,96.3 L203.1,96.3 L203.8,96.3 L204.6,96.3 L205.3,96.4 L206.1,96.3 L206.8,96.4 L207.6,96.4 L208.3,96.3 L209.1,96.2 L209.8,96.1 L210.6,96.2 L211.3,96.2 L212.1,96.1 L212.8,96.1 L213.6,96.2 L214.3,96.1 L215.1,96.1 L215.8,96.0 L216.6,95.9 L217.3,96.1 L218.1,96.2 L218.8,96.0 L219.6,96.0 L220.3,96.1 L221.1,95.9 L221.8,95.8 L222.6,95.9 L223.3,96.0 L224.1,96.1 L224.8,96.1 L225.6,96.2 L226.3,96.2 L227.1,96.1 L227.8,96.1 L228.6,96.2 L229.3,96.1 L230.1,96.2 L230.8,96.2 L231.6,96.3 L232.3,96.2 L233.1,96.2 L233.8,96.5 L234.6,96.5 L235.3,96.2 L236.1,96.3 L236.8,96.5 L237.6,96.5 L238.3,96.5 L239.1,96.5 L239.8,96.6 L240.6,96.5 L241.3,96.5 L242.1,96.6 L242.8,96.7 L243.6,96.8 L244.3,96.8 L245.1,96.8 L245.8,96.9 L246.6,96.9 L247.3,96.8 L248.1,96.7 L248.8,96.9 L249.6,96.9 L250.3,96.9 L251.1,97.0 L251.8,97.0 L252.6,97.1 L253.3,97.2 L254.1,97.1" fill="none" stroke="#22c4f4" stroke-width="1.7" stroke-linejoin="round" stroke-linecap="round" filter="url(#sb)"/>
<path d="M48.6,95.6 L49.4,95.6 L50.1,95.5 L50.9,95.3 L51.6,95.3 L52.4,95.3 L53.1,95.2 L53.9,95.1 L54.6,95.1 L55.4,95.2 L56.1,95.2 L56.9,95.3 L57.6,95.5 L58.4,95.6 L59.1,95.7 L59.9,95.8 L60.6,95.9 L61.4,96.0 L62.1,95.9 L62.9,96.0 L63.6,96.1 L64.3,95.9 L65.1,96.0 L65.8,96.0 L66.6,95.9 L67.3,96.0 L68.1,95.9 L68.8,95.9 L69.6,95.9 L70.3,95.8 L71.1,96.0 L71.8,95.8 L72.6,95.7 L73.3,95.9 L74.1,95.8 L74.8,95.7 L75.6,95.9 L76.3,95.9 L77.1,95.9 L77.8,96.0 L78.6,95.9 L79.3,95.9 L80.1,95.9 L80.8,96.0 L81.6,96.0 L82.3,95.9 L83.1,95.9 L83.8,96.0 L84.6,96.1 L85.3,96.0 L86.1,95.9 L86.8,96.0 L87.6,96.0 L88.3,96.0 L89.1,96.0 L89.8,96.0 L90.6,96.1 L91.3,96.2 L92.1,96.2 L92.8,96.3 L93.6,96.4 L94.3,96.5 L95.1,96.6 L95.8,96.5 L96.6,96.4 L97.3,96.3 L98.1,96.3 L98.8,96.6 L99.6,96.8 L100.3,96.7 L101.1,96.8 L101.8,97.0 L102.6,97.0 L103.3,97.0 L104.1,97.1 L104.8,97.3 L105.6,97.5 L106.3,97.6 L107.1,97.6 L107.8,97.8 L108.6,98.1 L109.3,98.2 L110.1,98.4 L110.8,98.6 L111.6,98.7 L112.3,98.8 L113.1,98.9 L113.8,99.3 L114.6,99.6 L115.3,99.8 L116.1,100.0 L116.8,100.2 L117.6,100.5 L118.3,100.7 L119.1,100.9 L119.8,101.4 L120.6,101.8 L121.3,102.0 L122.1,102.4 L122.8,102.8 L123.6,103.4 L124.3,104.0 L125.1,104.5 L125.8,105.0 L126.6,105.6 L127.3,106.2 L128.1,107.0 L128.8,107.8 L129.6,108.7 L130.3,109.4 L131.1,110.1 L131.8,111.0 L132.6,111.8 L133.3,112.5 L134.1,113.3 L134.8,114.2 L135.6,115.2 L136.3,116.0 L137.1,116.9 L137.8,117.9 L138.6,118.7 L139.3,119.5 L140.1,120.4 L140.8,121.3 L141.6,122.2 L142.3,122.9 L143.1,123.6 L143.8,124.3 L144.6,124.8 L145.3,125.3 L146.1,125.9 L146.8,126.4 L147.6,126.8 L148.3,126.9 L149.1,126.9 L149.8,126.8 L150.6,126.6 L151.3,126.1 L152.1,125.6 L152.8,124.9 L153.6,124.0 L154.3,123.0 L155.1,121.9 L155.8,120.6 L156.6,119.1 L157.3,117.6 L158.1,115.9 L158.8,114.4 L159.6,113.1 L160.3,112.0 L161.1,110.9 L161.8,109.9 L162.6,109.0 L163.3,108.0 L164.1,107.1 L164.8,106.2 L165.6,105.4 L166.3,104.7 L167.1,104.0 L167.8,103.4 L168.6,102.9 L169.3,102.4 L170.1,101.8 L170.8,101.3 L171.6,100.8 L172.3,100.4 L173.1,100.1 L173.8,99.6 L174.6,99.2 L175.3,99.1 L176.1,98.8 L176.8,98.4 L177.6,98.2 L178.3,97.9 L179.1,97.9 L179.8,97.8 L180.6,97.6 L181.3,97.6 L182.1,97.6 L182.8,97.4 L183.6,97.2 L184.3,97.2 L185.1,97.1 L185.8,97.0 L186.6,96.9 L187.3,96.9 L188.1,96.9 L188.8,96.8 L189.6,96.8 L190.3,96.8 L191.1,96.7 L191.8,96.6 L192.6,96.6 L193.3,96.6 L194.1,96.5 L194.8,96.4 L195.6,96.3 L196.3,96.3 L197.1,96.3 L197.8,96.3 L198.6,96.2 L199.3,96.1 L200.1,96.3 L200.8,96.2 L201.6,96.1 L202.3,96.1 L203.1,96.1 L203.8,95.9 L204.6,95.9 L205.3,95.9 L206.1,96.0 L206.8,96.1 L207.6,96.0 L208.3,95.8 L209.1,95.7 L209.8,95.7 L210.6,95.7 L211.3,95.7 L212.1,95.7 L212.8,95.8 L213.6,95.8 L214.3,95.8 L215.1,95.7 L215.8,95.6 L216.6,95.6 L217.3,95.8 L218.1,95.9 L218.8,95.8 L219.6,95.8 L220.3,95.8 L221.1,95.8 L221.8,95.9 L222.6,95.8 L223.3,95.8 L224.1,95.8 L224.8,95.7 L225.6,95.7 L226.3,95.8 L227.1,95.9 L227.8,95.9 L228.6,95.9 L229.3,96.0 L230.1,96.0 L230.8,95.9 L231.6,96.0 L232.3,96.2 L233.1,96.2 L233.8,96.0 L234.6,96.0 L235.3,96.1 L236.1,96.2 L236.8,96.3 L237.6,96.2 L238.3,96.2 L239.1,96.2 L239.8,96.3 L240.6,96.4 L241.3,96.4 L242.1,96.4 L242.8,96.3 L243.6,96.3 L244.3,96.3 L245.1,96.4 L245.8,96.5 L246.6,96.7 L247.3,96.7 L248.1,96.6 L248.8,96.6 L249.6,96.6 L250.3,96.8 L251.1,96.9 L251.8,96.8 L252.6,96.8 L253.3,96.7 L254.1,96.8" fill="none" stroke="#2444ff" stroke-width="1.7" stroke-linejoin="round" stroke-linecap="round" filter="url(#sb)"/>
<path d="M48.6,94.7 L49.4,94.6 L50.1,94.6 L50.9,94.4 L51.6,94.3 L52.4,94.4 L53.1,94.4 L53.9,94.2 L54.6,94.2 L55.4,94.2 L56.1,94.3 L56.9,94.5 L57.6,94.7 L58.4,94.8 L59.1,94.8 L59.9,95.1 L60.6,95.2 L61.4,95.2 L62.1,95.2 L62.9,95.2 L63.6,95.2 L64.3,95.1 L65.1,95.2 L65.8,95.2 L66.6,95.1 L67.3,95.2 L68.1,95.2 L68.8,95.1 L69.6,95.1 L70.3,95.0 L71.1,94.9 L71.8,94.9 L72.6,95.0 L73.3,95.0 L74.1,94.9 L74.8,95.0 L75.6,95.0 L76.3,94.9 L77.1,95.0 L77.8,95.1 L78.6,95.0 L79.3,95.1 L80.1,95.1 L80.8,95.0 L81.6,95.2 L82.3,95.1 L83.1,95.0 L83.8,95.2 L84.6,95.1 L85.3,95.1 L86.1,95.2 L86.8,95.4 L87.6,95.3 L88.3,95.2 L89.1,95.3 L89.8,95.3 L90.6,95.2 L91.3,95.3 L92.1,95.4 L92.8,95.4 L93.6,95.5 L94.3,95.6 L95.1,95.6 L95.8,95.6 L96.6,95.6 L97.3,95.6 L98.1,95.7 L98.8,95.8 L99.6,95.8 L100.3,95.9 L101.1,96.0 L101.8,96.3 L102.6,96.3 L103.3,96.3 L104.1,96.4 L104.8,96.6 L105.6,96.8 L106.3,96.8 L107.1,96.9 L107.8,97.1 L108.6,97.2 L109.3,97.4 L110.1,97.6 L110.8,97.7 L111.6,98.0 L112.3,98.2 L113.1,98.4 L113.8,98.6 L114.6,98.8 L115.3,99.0 L116.1,99.3 L116.8,99.5 L117.6,99.8 L118.3,100.1 L119.1,100.2 L119.8,100.5 L120.6,100.9 L121.3,101.4 L122.1,101.7 L122.8,102.1 L123.6,102.6 L124.3,103.3 L125.1,103.8 L125.8,104.3 L126.6,104.9 L127.3,105.5 L128.1,106.3 L128.8,107.2 L129.6,108.0 L130.3,108.8 L131.1,109.7 L131.8,110.4 L132.6,111.3 L133.3,112.1 L134.1,113.2 L134.8,114.0 L135.6,114.8 L136.3,115.7 L137.1,116.5 L137.8,117.5 L138.6,118.4 L139.3,119.2 L140.1,120.1 L140.8,121.1 L141.6,122.0 L142.3,122.7 L143.1,123.4 L143.8,124.3 L144.6,124.9 L145.3,125.4 L146.1,126.0 L146.8,126.5 L147.6,126.8 L148.3,126.8 L149.1,126.9 L149.8,127.0 L150.6,126.7 L151.3,126.1 L152.1,125.8 L152.8,125.2 L153.6,124.3 L154.3,123.3 L155.1,122.0 L155.8,120.6 L156.6,119.2 L157.3,117.7 L158.1,115.9 L158.8,114.2 L159.6,113.1 L160.3,111.9 L161.1,110.6 L161.8,109.5 L162.6,108.6 L163.3,107.6 L164.1,106.7 L164.8,105.8 L165.6,105.0 L166.3,104.3 L167.1,103.5 L167.8,102.8 L168.6,102.2 L169.3,101.8 L170.1,101.3 L170.8,100.7 L171.6,100.2 L172.3,99.8 L173.1,99.4 L173.8,99.0 L174.6,98.7 L175.3,98.5 L176.1,98.1 L176.8,97.7 L177.6,97.6 L178.3,97.4 L179.1,97.2 L179.8,96.9 L180.6,96.7 L181.3,96.7 L182.1,96.7 L182.8,96.6 L183.6,96.4 L184.3,96.3 L185.1,96.3 L185.8,96.2 L186.6,96.2 L187.3,96.0 L188.1,95.9 L188.8,95.8 L189.6,95.7 L190.3,95.7 L191.1,95.7 L191.8,95.8 L192.6,95.8 L193.3,95.8 L194.1,95.6 L194.8,95.6 L195.6,95.6 L196.3,95.6 L197.1,95.6 L197.8,95.5 L198.6,95.4 L199.3,95.4 L200.1,95.4 L200.8,95.4 L201.6,95.5 L202.3,95.4 L203.1,95.2 L203.8,95.1 L204.6,95.1 L205.3,95.2 L206.1,95.0 L206.8,95.0 L207.6,95.2 L208.3,95.1 L209.1,95.0 L209.8,94.9 L210.6,95.0 L211.3,94.9 L212.1,94.8 L212.8,95.0 L213.6,95.0 L214.3,94.9 L215.1,94.9 L215.8,94.8 L216.6,94.8 L217.3,94.9 L218.1,94.9 L218.8,94.9 L219.6,95.0 L220.3,95.1 L221.1,94.9 L221.8,94.8 L222.6,94.8 L223.3,94.9 L224.1,95.1 L224.8,95.1 L225.6,95.0 L226.3,94.9 L227.1,95.0 L227.8,95.1 L228.6,95.1 L229.3,95.1 L230.1,95.2 L230.8,95.2 L231.6,95.1 L232.3,95.0 L233.1,95.1 L233.8,95.3 L234.6,95.3 L235.3,95.3 L236.1,95.3 L236.8,95.3 L237.6,95.4 L238.3,95.4 L239.1,95.4 L239.8,95.4 L240.6,95.5 L241.3,95.5 L242.1,95.4 L242.8,95.5 L243.6,95.7 L244.3,95.7 L245.1,95.8 L245.8,95.8 L246.6,95.7 L247.3,95.7 L248.1,95.7 L248.8,95.9 L249.6,96.0 L250.3,96.0 L251.1,96.1 L251.8,96.0 L252.6,96.0 L253.3,96.1 L254.1,96.2" fill="none" stroke="#a21af0" stroke-width="1.7" stroke-linejoin="round" stroke-linecap="round" filter="url(#sb)"/>
<path d="M48.6,176.0 L49.4,176.1 L50.1,176.1 L50.9,176.1 L51.6,176.2 L52.4,176.3 L53.1,176.5 L53.9,176.6 L54.6,176.8 L55.4,177.4 L56.1,177.7 L56.9,177.8 L57.6,178.1 L58.4,178.5 L59.1,178.8 L59.9,179.1 L60.6,179.4 L61.4,179.7 L62.1,180.3 L62.9,180.6 L63.6,180.8 L64.3,181.2 L65.1,181.7 L65.8,182.2 L66.6,182.6 L67.3,182.9 L68.1,182.9 L68.8,182.9 L69.6,182.8 L70.3,182.6 L71.1,182.2 L71.8,181.9 L72.6,181.8 L73.3,181.8 L74.1,181.8 L74.8,181.9 L75.6,182.0 L76.3,182.0 L77.1,182.1 L77.8,182.2 L78.6,182.4 L79.3,182.3 L80.1,182.3 L80.8,182.4 L81.6,182.5 L82.3,182.8 L83.1,182.8 L83.8,182.9 L84.6,182.9 L85.3,183.2 L86.1,183.4 L86.8,183.4 L87.6,183.3 L88.3,183.2 L89.1,183.5 L89.8,183.7 L90.6,183.6 L91.3,183.8 L92.1,183.8 L92.8,183.9 L93.6,184.1 L94.3,184.1 L95.1,184.1 L95.8,184.2 L96.6,184.3 L97.3,184.4 L98.1,184.6 L98.8,184.7 L99.6,184.7 L100.3,184.8 L101.1,184.5 L101.8,184.6 L102.6,184.9 L103.3,184.9 L104.1,185.0 L104.8,184.9 L105.6,184.9 L106.3,185.2 L107.1,185.5 L107.8,185.4 L108.6,185.2 L109.3,185.5 L110.1,185.6 L110.8,185.7 L111.6,185.8 L112.3,185.6 L113.1,185.8 L113.8,186.1 L114.6,185.9 L115.3,186.0 L116.1,186.1 L116.8,186.2 L117.6,186.2 L118.3,186.0 L119.1,186.1 L119.8,186.4 L120.6,186.7 L121.3,186.8 L122.1,186.7 L122.8,186.6 L123.6,186.5 L124.3,186.5 L125.1,186.5 L125.8,186.6 L126.6,186.5 L127.3,186.6 L128.1,186.9 L128.8,187.2 L129.6,187.4 L130.3,187.1 L131.1,187.1 L131.8,187.1 L132.6,187.0 L133.3,186.9 L134.1,187.2 L134.8,187.6 L135.6,187.3 L136.3,187.3 L137.1,187.6 L137.8,187.7 L138.6,187.7 L139.3,187.6 L140.1,187.5 L140.8,187.6 L141.6,187.9 L142.3,187.8 L143.1,187.6 L143.8,187.9 L144.6,188.0 L145.3,188.0 L146.1,188.2 L146.8,188.2 L147.6,188.5 L148.3,188.5 L149.1,188.4 L149.8,188.3 L150.6,188.1 L151.3,188.4 L152.1,188.7 L152.8,188.9 L153.6,189.0 L154.3,188.9 L155.1,188.7 L155.8,188.8 L156.6,188.9 L157.3,188.8 L158.1,188.7 L158.8,188.9 L159.6,188.9 L160.3,188.9 L161.1,188.9 L161.8,189.0 L162.6,189.1 L163.3,189.1 L164.1,189.1 L164.8,189.0 L165.6,189.4 L166.3,189.4 L167.1,189.3 L167.8,189.4 L168.6,189.1 L169.3,189.3 L170.1,189.7 L170.8,189.6 L171.6,189.6 L172.3,189.7 L173.1,189.5 L173.8,189.7 L174.6,189.8 L175.3,190.2 L176.1,190.1 L176.8,189.9 L177.6,190.3 L178.3,190.0 L179.1,189.6 L179.8,190.0 L180.6,190.2 L181.3,190.3 L182.1,190.6 L182.8,190.5 L183.6,190.2 L184.3,189.8 L185.1,190.1 L185.8,190.4 L186.6,190.5 L187.3,190.7 L188.1,190.4 L188.8,190.7 L189.6,191.2 L190.3,191.0 L191.1,190.7 L191.8,190.6 L192.6,190.7 L193.3,190.7 L194.1,190.7 L194.8,190.8 L195.6,191.1 L196.3,191.1 L197.1,191.0 L197.8,191.2 L198.6,191.4 L199.3,190.7 L200.1,190.6 L200.8,191.1 L201.6,191.4 L202.3,191.4 L203.1,191.3 L203.8,191.2 L204.6,191.4 L205.3,191.5 L206.1,191.3 L206.8,191.3 L207.6,191.6 L208.3,191.6 L209.1,191.3 L209.8,191.5 L210.6,191.7 L211.3,191.7 L212.1,191.5 L212.8,188.5 L213.6,190.7 L214.3,190.3 L215.1,191.2 L215.8,191.8 L216.6,192.2 L217.3,192.5 L218.1,192.5 L218.8,192.4 L219.6,191.9 L220.3,192.2 L221.1,192.7 L221.8,192.5 L222.6,192.5 L223.3,192.7 L224.1,192.8 L224.8,192.4 L225.6,191.3 L226.3,191.4 L227.1,192.6 L227.8,193.1 L228.6,193.4 L229.3,193.1 L230.1,192.6 L230.8,192.8 L231.6,193.3 L232.3,193.3 L233.1,193.0 L233.8,192.9 L234.6,193.0 L235.3,193.2 L236.1,193.7 L236.8,193.9 L237.6,193.7 L238.3,193.6 L239.1,193.9 L239.8,193.8 L240.6,193.7 L241.3,194.3 L242.1,194.4 L242.8,194.2 L243.6,194.2 L244.3,194.1 L245.1,193.9 L245.8,193.9 L246.6,194.6 L247.3,195.0 L248.1,195.1 L248.8,194.9 L249.6,194.7 L250.3,194.5 L251.1,194.5 L251.8,194.8 L252.6,194.8 L253.3,194.9 L254.1,194.9" fill="none" stroke="#ff1a8c" stroke-width="1.9" stroke-linejoin="round" stroke-linecap="round" filter="url(#sb)"/>
<path d="M48.6,172.3 L49.4,172.4 L50.1,172.5 L50.9,172.6 L51.6,172.7 L52.4,172.8 L53.1,172.9 L53.9,173.0 L54.6,173.1 L55.4,173.2 L56.1,173.3 L56.9,173.3 L57.6,173.4 L58.4,173.6 L59.1,173.9 L59.9,174.1 L60.6,174.4 L61.4,174.8 L62.1,175.2 L62.9,175.5 L63.6,175.9 L64.3,176.1 L65.1,176.3 L65.8,176.6 L66.6,176.8 L67.3,177.0 L68.1,177.2 L68.8,177.2 L69.6,176.9 L70.3,176.8 L71.1,176.8 L71.8,176.6 L72.6,176.4 L73.3,176.4 L74.1,176.2 L74.8,176.2 L75.6,176.3 L76.3,176.5 L77.1,176.4 L77.8,176.4 L78.6,176.5 L79.3,176.4 L80.1,176.6 L80.8,176.7 L81.6,176.7 L82.3,176.5 L83.1,176.6 L83.8,176.7 L84.6,176.9 L85.3,177.0 L86.1,176.9 L86.8,176.9 L87.6,176.9 L88.3,177.0 L89.1,177.1 L89.8,177.3 L90.6,177.3 L91.3,177.3 L92.1,177.3 L92.8,177.5 L93.6,177.6 L94.3,177.4 L95.1,177.5 L95.8,177.7 L96.6,177.6 L97.3,177.9 L98.1,177.9 L98.8,178.0 L99.6,178.1 L100.3,178.2 L101.1,178.4 L101.8,178.3 L102.6,178.3 L103.3,178.3 L104.1,178.4 L104.8,178.7 L105.6,178.6 L106.3,178.7 L107.1,178.8 L107.8,178.7 L108.6,178.7 L109.3,179.1 L110.1,179.4 L110.8,179.3 L111.6,179.3 L112.3,179.4 L113.1,179.4 L113.8,179.4 L114.6,179.9 L115.3,179.9 L116.1,179.8 L116.8,180.0 L117.6,179.9 L118.3,180.0 L119.1,180.2 L119.8,180.3 L120.6,180.3 L121.3,180.3 L122.1,180.4 L122.8,180.5 L123.6,180.7 L124.3,180.9 L125.1,180.8 L125.8,180.5 L126.6,180.7 L127.3,181.1 L128.1,181.0 L128.8,180.8 L129.6,180.8 L130.3,181.2 L131.1,181.3 L131.8,181.2 L132.6,181.4 L133.3,181.7 L134.1,181.7 L134.8,181.7 L135.6,181.7 L136.3,181.9 L137.1,182.2 L137.8,182.1 L138.6,181.8 L139.3,181.8 L140.1,182.1 L140.8,182.2 L141.6,182.3 L142.3,182.5 L143.1,182.5 L143.8,182.6 L144.6,182.7 L145.3,182.5 L146.1,182.5 L146.8,182.9 L147.6,182.9 L148.3,182.6 L149.1,182.9 L149.8,183.0 L150.6,182.8 L151.3,182.7 L152.1,182.9 L152.8,183.3 L153.6,183.4 L154.3,183.3 L155.1,183.3 L155.8,183.2 L156.6,183.2 L157.3,183.3 L158.1,183.3 L158.8,183.5 L159.6,183.7 L160.3,183.5 L161.1,183.6 L161.8,183.7 L162.6,183.4 L163.3,183.5 L164.1,183.5 L164.8,183.5 L165.6,183.8 L166.3,183.8 L167.1,183.9 L167.8,183.9 L168.6,183.9 L169.3,183.8 L170.1,183.8 L170.8,183.9 L171.6,183.9 L172.3,184.0 L173.1,184.2 L173.8,184.0 L174.6,183.8 L175.3,184.0 L176.1,184.3 L176.8,184.5 L177.6,184.6 L178.3,184.7 L179.1,184.7 L179.8,184.5 L180.6,184.4 L181.3,184.2 L182.1,184.4 L182.8,184.6 L183.6,184.7 L184.3,184.7 L185.1,184.7 L185.8,184.8 L186.6,184.9 L187.3,184.9 L188.1,184.9 L188.8,184.8 L189.6,184.6 L190.3,184.8 L191.1,185.1 L191.8,185.0 L192.6,184.9 L193.3,185.3 L194.1,185.3 L194.8,184.9 L195.6,185.1 L196.3,185.0 L197.1,185.0 L197.8,185.5 L198.6,185.7 L199.3,185.5 L200.1,185.4 L200.8,185.4 L201.6,185.5 L202.3,185.4 L203.1,185.2 L203.8,185.3 L204.6,185.5 L205.3,185.6 L206.1,185.6 L206.8,185.2 L207.6,185.3 L208.3,186.1 L209.1,186.1 L209.8,185.7 L210.6,185.3 L211.3,185.4 L212.1,185.5 L212.8,186.4 L213.6,186.1 L214.3,186.8 L215.1,186.5 L215.8,185.5 L216.6,185.3 L217.3,185.6 L218.1,185.3 L218.8,185.3 L219.6,185.5 L220.3,185.8 L221.1,185.6 L221.8,185.6 L222.6,186.3 L223.3,186.2 L224.1,185.9 L224.8,185.9 L225.6,186.9 L226.3,187.2 L227.1,186.0 L227.8,186.0 L228.6,186.4 L229.3,186.4 L230.1,186.0 L230.8,186.1 L231.6,185.8 L232.3,185.3 L233.1,185.5 L233.8,185.6 L234.6,185.8 L235.3,185.9 L236.1,186.1 L236.8,186.5 L237.6,186.3 L238.3,185.9 L239.1,185.9 L239.8,186.2 L240.6,185.9 L241.3,185.8 L242.1,186.2 L242.8,186.2 L243.6,186.4 L244.3,186.6 L245.1,186.2 L245.8,186.0 L246.6,186.0 L247.3,186.2 L248.1,186.2 L248.8,186.3 L249.6,186.7 L250.3,186.7 L251.1,186.7 L251.8,186.2 L252.6,186.7 L253.3,187.0 L254.1,187.0" fill="none" stroke="#ff9a1a" stroke-width="1.9" stroke-linejoin="round" stroke-linecap="round" filter="url(#sb)"/>
<path d="M48.6,171.5 L49.4,171.6 L50.1,171.6 L50.9,171.6 L51.6,171.8 L52.4,171.8 L53.1,171.9 L53.9,172.1 L54.6,172.3 L55.4,172.2 L56.1,172.3 L56.9,172.5 L57.6,172.7 L58.4,172.8 L59.1,173.0 L59.9,173.2 L60.6,173.5 L61.4,173.9 L62.1,174.1 L62.9,174.4 L63.6,174.6 L64.3,175.0 L65.1,175.4 L65.8,175.6 L66.6,175.8 L67.3,175.8 L68.1,175.7 L68.8,175.8 L69.6,175.8 L70.3,175.7 L71.1,175.6 L71.8,175.4 L72.6,175.4 L73.3,175.3 L74.1,175.2 L74.8,175.1 L75.6,175.4 L76.3,175.3 L77.1,175.2 L77.8,175.5 L78.6,175.6 L79.3,175.4 L80.1,175.4 L80.8,175.6 L81.6,175.7 L82.3,175.6 L83.1,175.6 L83.8,175.8 L84.6,175.8 L85.3,176.0 L86.1,175.9 L86.8,175.7 L87.6,175.9 L88.3,176.2 L89.1,176.3 L89.8,176.2 L90.6,176.4 L91.3,176.3 L92.1,176.3 L92.8,176.3 L93.6,176.3 L94.3,176.4 L95.1,176.6 L95.8,176.6 L96.6,176.4 L97.3,176.4 L98.1,176.6 L98.8,176.7 L99.6,176.8 L100.3,176.8 L101.1,176.8 L101.8,177.0 L102.6,177.1 L103.3,177.1 L104.1,177.2 L104.8,177.2 L105.6,177.1 L106.3,177.2 L107.1,177.5 L107.8,177.5 L108.6,177.4 L109.3,177.2 L110.1,177.3 L110.8,177.4 L111.6,177.8 L112.3,178.0 L113.1,177.9 L113.8,178.0 L114.6,178.1 L115.3,178.1 L116.1,178.2 L116.8,178.3 L117.6,178.1 L118.3,178.1 L119.1,178.6 L119.8,178.6 L120.6,178.5 L121.3,178.6 L122.1,178.6 L122.8,178.9 L123.6,179.0 L124.3,178.8 L125.1,178.6 L125.8,178.7 L126.6,178.9 L127.3,178.8 L128.1,179.2 L128.8,179.5 L129.6,179.3 L130.3,179.4 L131.1,179.7 L131.8,179.6 L132.6,179.7 L133.3,179.7 L134.1,179.5 L134.8,179.6 L135.6,179.7 L136.3,180.0 L137.1,180.0 L137.8,179.9 L138.6,180.0 L139.3,180.2 L140.1,180.3 L140.8,180.5 L141.6,180.5 L142.3,180.3 L143.1,180.3 L143.8,180.6 L144.6,180.6 L145.3,180.6 L146.1,181.0 L146.8,181.0 L147.6,180.8 L148.3,181.1 L149.1,181.0 L149.8,180.8 L150.6,180.8 L151.3,181.0 L152.1,181.2 L152.8,181.2 L153.6,181.2 L154.3,181.4 L155.1,181.5 L155.8,181.2 L156.6,181.2 L157.3,181.4 L158.1,181.5 L158.8,181.5 L159.6,181.4 L160.3,181.4 L161.1,181.3 L161.8,181.3 L162.6,181.5 L163.3,181.6 L164.1,181.6 L164.8,181.5 L165.6,181.6 L166.3,181.5 L167.1,181.8 L167.8,181.9 L168.6,181.9 L169.3,181.8 L170.1,181.8 L170.8,181.8 L171.6,181.7 L172.3,181.9 L173.1,182.1 L173.8,182.2 L174.6,182.2 L175.3,182.3 L176.1,182.4 L176.8,182.4 L177.6,182.5 L178.3,182.4 L179.1,182.3 L179.8,182.4 L180.6,182.4 L181.3,182.4 L182.1,182.7 L182.8,182.8 L183.6,182.6 L184.3,182.3 L185.1,182.4 L185.8,182.6 L186.6,182.8 L187.3,182.8 L188.1,182.6 L188.8,182.8 L189.6,182.8 L190.3,182.7 L191.1,183.0 L191.8,183.3 L192.6,183.2 L193.3,183.0 L194.1,182.8 L194.8,182.8 L195.6,183.0 L196.3,183.0 L197.1,182.9 L197.8,182.9 L198.6,183.0 L199.3,183.1 L200.1,183.4 L200.8,183.4 L201.6,182.9 L202.3,182.7 L203.1,182.8 L203.8,182.8 L204.6,183.2 L205.3,183.4 L206.1,183.3 L206.8,183.3 L207.6,183.3 L208.3,183.0 L209.1,182.9 L209.8,183.0 L210.6,183.5 L211.3,183.5 L212.1,183.5 L212.8,184.5 L213.6,184.2 L214.3,185.4 L215.1,184.2 L215.8,183.5 L216.6,183.7 L217.3,183.8 L218.1,183.9 L218.8,184.1 L219.6,184.0 L220.3,183.9 L221.1,183.8 L221.8,183.8 L222.6,183.6 L223.3,183.7 L224.1,183.9 L224.8,183.7 L225.6,183.1 L226.3,183.0 L227.1,183.5 L227.8,183.8 L228.6,183.6 L229.3,183.4 L230.1,183.5 L230.8,183.5 L231.6,183.8 L232.3,184.1 L233.1,184.3 L233.8,184.4 L234.6,184.5 L235.3,184.5 L236.1,184.2 L236.8,184.3 L237.6,184.3 L238.3,184.0 L239.1,184.4 L239.8,184.7 L240.6,184.5 L241.3,184.5 L242.1,184.7 L242.8,184.3 L243.6,184.2 L244.3,184.2 L245.1,184.3 L245.8,184.5 L246.6,184.8 L247.3,185.1 L248.1,184.7 L248.8,184.6 L249.6,184.6 L250.3,184.7 L251.1,185.1 L251.8,185.2 L252.6,184.7 L253.3,184.7 L254.1,185.2" fill="none" stroke="#e2e01a" stroke-width="1.9" stroke-linejoin="round" stroke-linecap="round" filter="url(#sb)"/>
<path d="M48.6,170.7 L49.4,170.7 L50.1,170.7 L50.9,170.8 L51.6,170.9 L52.4,171.0 L53.1,171.0 L53.9,171.1 L54.6,171.1 L55.4,171.3 L56.1,171.5 L56.9,171.5 L57.6,171.6 L58.4,171.8 L59.1,172.1 L59.9,172.4 L60.6,172.6 L61.4,172.7 L62.1,172.9 L62.9,173.4 L63.6,173.7 L64.3,174.0 L65.1,174.2 L65.8,174.5 L66.6,174.8 L67.3,174.8 L68.1,174.7 L68.8,174.9 L69.6,174.8 L70.3,174.6 L71.1,174.6 L71.8,174.4 L72.6,174.2 L73.3,174.2 L74.1,174.2 L74.8,174.3 L75.6,174.4 L76.3,174.4 L77.1,174.3 L77.8,174.4 L78.6,174.4 L79.3,174.3 L80.1,174.5 L80.8,174.5 L81.6,174.4 L82.3,174.5 L83.1,174.5 L83.8,174.3 L84.6,174.5 L85.3,174.7 L86.1,174.6 L86.8,174.7 L87.6,174.7 L88.3,174.7 L89.1,174.9 L89.8,175.2 L90.6,175.3 L91.3,175.2 L92.1,175.1 L92.8,175.1 L93.6,175.2 L94.3,175.3 L95.1,175.4 L95.8,175.4 L96.6,175.4 L97.3,175.4 L98.1,175.4 L98.8,175.5 L99.6,175.6 L100.3,175.5 L101.1,175.6 L101.8,175.7 L102.6,175.8 L103.3,176.1 L104.1,176.1 L104.8,176.1 L105.6,176.1 L106.3,176.3 L107.1,176.1 L107.8,176.2 L108.6,176.3 L109.3,176.2 L110.1,176.4 L110.8,176.5 L111.6,176.6 L112.3,176.8 L113.1,176.6 L113.8,176.6 L114.6,177.1 L115.3,177.2 L116.1,177.2 L116.8,177.2 L117.6,177.0 L118.3,176.9 L119.1,177.2 L119.8,177.5 L120.6,177.4 L121.3,177.3 L122.1,177.4 L122.8,177.3 L123.6,177.3 L124.3,177.8 L125.1,178.1 L125.8,178.0 L126.6,178.0 L127.3,178.0 L128.1,177.8 L128.8,177.6 L129.6,177.9 L130.3,178.2 L131.1,178.4 L131.8,178.5 L132.6,178.3 L133.3,178.1 L134.1,178.4 L134.8,178.6 L135.6,178.4 L136.3,178.3 L137.1,178.5 L137.8,178.9 L138.6,178.8 L139.3,178.7 L140.1,178.9 L140.8,179.1 L141.6,179.1 L142.3,179.2 L143.1,179.2 L143.8,179.0 L144.6,179.0 L145.3,178.8 L146.1,178.8 L146.8,179.3 L147.6,179.5 L148.3,179.3 L149.1,179.4 L149.8,179.3 L150.6,179.2 L151.3,179.6 L152.1,179.8 L152.8,179.6 L153.6,179.7 L154.3,180.1 L155.1,180.0 L155.8,179.8 L156.6,179.7 L157.3,179.4 L158.1,179.7 L158.8,180.1 L159.6,180.0 L160.3,180.0 L161.1,180.0 L161.8,180.2 L162.6,180.5 L163.3,180.4 L164.1,180.0 L164.8,180.2 L165.6,180.6 L166.3,180.5 L167.1,180.5 L167.8,180.8 L168.6,180.8 L169.3,180.6 L170.1,180.3 L170.8,180.2 L171.6,180.4 L172.3,180.5 L173.1,180.7 L173.8,180.7 L174.6,180.9 L175.3,180.9 L176.1,180.6 L176.8,180.8 L177.6,180.7 L178.3,180.8 L179.1,181.1 L179.8,181.0 L180.6,181.3 L181.3,181.4 L182.1,181.1 L182.8,181.0 L183.6,180.7 L184.3,180.8 L185.1,181.1 L185.8,181.1 L186.6,181.3 L187.3,181.1 L188.1,180.8 L188.8,180.9 L189.6,181.3 L190.3,181.6 L191.1,181.3 L191.8,181.2 L192.6,181.5 L193.3,181.6 L194.1,181.5 L194.8,181.3 L195.6,181.5 L196.3,181.9 L197.1,181.8 L197.8,182.0 L198.6,181.9 L199.3,181.7 L200.1,181.9 L200.8,182.0 L201.6,181.9 L202.3,181.8 L203.1,181.8 L203.8,181.9 L204.6,182.2 L205.3,182.1 L206.1,182.3 L206.8,182.0 L207.6,181.7 L208.3,182.3 L209.1,182.3 L209.8,181.7 L210.6,182.0 L211.3,182.4 L212.1,182.3 L212.8,184.8 L213.6,183.5 L214.3,184.7 L215.1,183.1 L215.8,182.1 L216.6,181.9 L217.3,182.0 L218.1,182.0 L218.8,182.1 L219.6,182.3 L220.3,182.4 L221.1,182.3 L221.8,182.0 L222.6,181.8 L223.3,182.0 L224.1,182.6 L224.8,182.7 L225.6,181.2 L226.3,181.1 L227.1,182.3 L227.8,182.3 L228.6,182.5 L229.3,182.5 L230.1,182.7 L230.8,182.5 L231.6,182.4 L232.3,182.3 L233.1,182.2 L233.8,182.6 L234.6,183.5 L235.3,183.4 L236.1,182.6 L236.8,182.3 L237.6,182.5 L238.3,182.4 L239.1,182.1 L239.8,182.5 L240.6,182.4 L241.3,182.7 L242.1,183.2 L242.8,182.8 L243.6,182.5 L244.3,182.4 L245.1,182.3 L245.8,182.7 L246.6,183.1 L247.3,183.2 L248.1,183.1 L248.8,183.0 L249.6,183.1 L250.3,183.0 L251.1,182.9 L251.8,183.6 L252.6,184.0 L253.3,183.6 L254.1,183.3" fill="none" stroke="#5fe03a" stroke-width="1.9" stroke-linejoin="round" stroke-linecap="round" filter="url(#sb)"/>
<path d="M48.6,169.0 L49.4,169.0 L50.1,169.1 L50.9,169.1 L51.6,169.1 L52.4,169.2 L53.1,169.4 L53.9,169.5 L54.6,169.4 L55.4,169.5 L56.1,169.6 L56.9,169.8 L57.6,169.7 L58.4,169.8 L59.1,169.9 L59.9,170.0 L60.6,170.2 L61.4,170.4 L62.1,170.7 L62.9,170.9 L63.6,171.2 L64.3,171.6 L65.1,171.7 L65.8,171.8 L66.6,172.0 L67.3,172.0 L68.1,171.9 L68.8,172.1 L69.6,172.2 L70.3,172.1 L71.1,171.9 L71.8,171.6 L72.6,171.5 L73.3,171.6 L74.1,171.6 L74.8,171.5 L75.6,171.5 L76.3,171.4 L77.1,171.6 L77.8,171.7 L78.6,171.6 L79.3,171.5 L80.1,171.6 L80.8,171.7 L81.6,171.7 L82.3,171.7 L83.1,171.6 L83.8,171.6 L84.6,171.8 L85.3,172.0 L86.1,171.9 L86.8,171.8 L87.6,172.0 L88.3,172.0 L89.1,172.0 L89.8,172.1 L90.6,172.1 L91.3,172.2 L92.1,172.3 L92.8,172.2 L93.6,172.2 L94.3,172.2 L95.1,172.2 L95.8,172.1 L96.6,172.3 L97.3,172.3 L98.1,172.3 L98.8,172.5 L99.6,172.5 L100.3,172.5 L101.1,172.6 L101.8,172.7 L102.6,172.7 L103.3,172.6 L104.1,172.6 L104.8,172.8 L105.6,173.0 L106.3,172.8 L107.1,172.7 L107.8,172.7 L108.6,172.8 L109.3,172.9 L110.1,173.2 L110.8,173.0 L111.6,172.9 L112.3,173.2 L113.1,173.1 L113.8,173.0 L114.6,173.1 L115.3,173.2 L116.1,173.4 L116.8,173.2 L117.6,173.3 L118.3,173.5 L119.1,173.5 L119.8,173.7 L120.6,173.7 L121.3,173.7 L122.1,173.8 L122.8,173.8 L123.6,173.6 L124.3,173.7 L125.1,173.9 L125.8,174.1 L126.6,173.9 L127.3,173.6 L128.1,174.0 L128.8,174.0 L129.6,173.9 L130.3,174.3 L131.1,174.5 L131.8,174.2 L132.6,174.3 L133.3,174.5 L134.1,174.5 L134.8,174.5 L135.6,174.4 L136.3,174.3 L137.1,174.3 L137.8,174.5 L138.6,174.7 L139.3,174.8 L140.1,174.8 L140.8,174.3 L141.6,174.4 L142.3,174.8 L143.1,174.9 L143.8,174.9 L144.6,174.8 L145.3,175.0 L146.1,175.1 L146.8,175.0 L147.6,175.1 L148.3,174.9 L149.1,175.2 L149.8,175.0 L150.6,174.8 L151.3,175.2 L152.1,175.3 L152.8,175.4 L153.6,175.5 L154.3,175.4 L155.1,175.7 L155.8,175.8 L156.6,175.5 L157.3,175.5 L158.1,175.4 L158.8,175.7 L159.6,176.0 L160.3,175.9 L161.1,175.8 L161.8,175.9 L162.6,175.9 L163.3,175.8 L164.1,176.0 L164.8,176.0 L165.6,176.1 L166.3,176.2 L167.1,176.1 L167.8,176.5 L168.6,176.8 L169.3,176.8 L170.1,176.7 L170.8,176.7 L171.6,176.9 L172.3,177.0 L173.1,177.3 L173.8,177.1 L174.6,176.9 L175.3,177.0 L176.1,176.4 L176.8,176.3 L177.6,176.9 L178.3,177.2 L179.1,177.2 L179.8,177.3 L180.6,177.7 L181.3,177.5 L182.1,177.6 L182.8,178.0 L183.6,177.9 L184.3,177.5 L185.1,177.7 L185.8,177.9 L186.6,177.6 L187.3,177.7 L188.1,177.7 L188.8,177.9 L189.6,178.2 L190.3,178.3 L191.1,178.3 L191.8,178.0 L192.6,177.9 L193.3,178.2 L194.1,178.2 L194.8,178.6 L195.6,178.7 L196.3,178.2 L197.1,178.4 L197.8,178.7 L198.6,178.5 L199.3,178.4 L200.1,178.5 L200.8,178.7 L201.6,178.8 L202.3,178.6 L203.1,178.6 L203.8,178.8 L204.6,178.9 L205.3,178.3 L206.1,178.0 L206.8,178.4 L207.6,178.5 L208.3,178.7 L209.1,178.9 L209.8,179.0 L210.6,178.9 L211.3,178.8 L212.1,179.1 L212.8,178.8 L213.6,179.0 L214.3,182.2 L215.1,180.3 L215.8,178.5 L216.6,178.5 L217.3,178.8 L218.1,178.7 L218.8,179.0 L219.6,179.1 L220.3,178.8 L221.1,178.9 L221.8,179.0 L222.6,178.9 L223.3,178.9 L224.1,178.9 L224.8,178.8 L225.6,178.5 L226.3,178.5 L227.1,178.6 L227.8,178.4 L228.6,178.8 L229.3,179.0 L230.1,178.7 L230.8,178.8 L231.6,178.8 L232.3,178.8 L233.1,178.8 L233.8,178.7 L234.6,178.8 L235.3,178.8 L236.1,178.9 L236.8,178.6 L237.6,178.2 L238.3,178.8 L239.1,179.0 L239.8,178.6 L240.6,178.7 L241.3,178.7 L242.1,178.6 L242.8,178.4 L243.6,178.3 L244.3,178.7 L245.1,178.9 L245.8,179.2 L246.6,179.0 L247.3,179.2 L248.1,179.3 L248.8,178.6 L249.6,178.2 L250.3,179.0 L251.1,179.5 L251.8,179.1 L252.6,179.1 L253.3,179.0 L254.1,179.5" fill="none" stroke="#22c4f4" stroke-width="1.9" stroke-linejoin="round" stroke-linecap="round" filter="url(#sb)"/>
<path d="M48.6,168.1 L49.4,168.1 L50.1,168.3 L50.9,168.2 L51.6,168.4 L52.4,168.4 L53.1,168.4 L53.9,168.5 L54.6,168.5 L55.4,168.5 L56.1,168.6 L56.9,168.7 L57.6,168.9 L58.4,168.9 L59.1,169.0 L59.9,169.2 L60.6,169.3 L61.4,169.5 L62.1,169.7 L62.9,169.9 L63.6,170.1 L64.3,170.3 L65.1,170.6 L65.8,170.7 L66.6,170.8 L67.3,170.9 L68.1,171.0 L68.8,171.0 L69.6,170.9 L70.3,170.9 L71.1,170.8 L71.8,170.4 L72.6,170.3 L73.3,170.5 L74.1,170.5 L74.8,170.5 L75.6,170.5 L76.3,170.5 L77.1,170.4 L77.8,170.4 L78.6,170.4 L79.3,170.5 L80.1,170.5 L80.8,170.6 L81.6,170.5 L82.3,170.5 L83.1,170.6 L83.8,170.5 L84.6,170.4 L85.3,170.5 L86.1,170.6 L86.8,170.7 L87.6,170.7 L88.3,170.7 L89.1,170.8 L89.8,170.9 L90.6,170.7 L91.3,170.7 L92.1,170.8 L92.8,171.0 L93.6,171.0 L94.3,170.9 L95.1,171.0 L95.8,171.0 L96.6,171.0 L97.3,171.2 L98.1,171.2 L98.8,171.2 L99.6,171.3 L100.3,171.2 L101.1,171.3 L101.8,171.5 L102.6,171.4 L103.3,171.3 L104.1,171.3 L104.8,171.5 L105.6,171.4 L106.3,171.6 L107.1,171.7 L107.8,171.5 L108.6,171.5 L109.3,171.7 L110.1,171.8 L110.8,171.8 L111.6,171.9 L112.3,172.0 L113.1,171.8 L113.8,171.6 L114.6,171.7 L115.3,171.8 L116.1,172.1 L116.8,172.2 L117.6,172.0 L118.3,171.9 L119.1,172.2 L119.8,172.2 L120.6,172.1 L121.3,172.2 L122.1,172.1 L122.8,172.2 L123.6,172.5 L124.3,172.5 L125.1,172.4 L125.8,172.3 L126.6,172.4 L127.3,172.5 L128.1,172.6 L128.8,172.7 L129.6,172.9 L130.3,173.1 L131.1,172.9 L131.8,172.7 L132.6,173.0 L133.3,173.1 L134.1,173.1 L134.8,173.3 L135.6,173.2 L136.3,173.0 L137.1,173.1 L137.8,173.1 L138.6,173.0 L139.3,173.1 L140.1,173.3 L140.8,173.4 L141.6,173.3 L142.3,173.3 L143.1,173.2 L143.8,173.5 L144.6,173.4 L145.3,173.2 L146.1,173.6 L146.8,173.5 L147.6,173.6 L148.3,174.0 L149.1,173.8 L149.8,173.7 L150.6,173.7 L151.3,173.8 L152.1,174.0 L152.8,174.0 L153.6,174.2 L154.3,174.3 L155.1,174.3 L155.8,174.4 L156.6,174.1 L157.3,174.0 L158.1,174.3 L158.8,174.1 L159.6,174.3 L160.3,174.5 L161.1,174.4 L161.8,174.3 L162.6,174.3 L163.3,174.5 L164.1,174.5 L164.8,174.5 L165.6,174.3 L166.3,174.5 L167.1,174.7 L167.8,174.2 L168.6,174.3 L169.3,174.5 L170.1,174.8 L170.8,174.8 L171.6,174.8 L172.3,174.8 L173.1,175.2 L173.8,175.4 L174.6,175.4 L175.3,175.2 L176.1,175.1 L176.8,175.1 L177.6,175.2 L178.3,175.4 L179.1,175.2 L179.8,174.9 L180.6,175.0 L181.3,175.0 L182.1,175.1 L182.8,175.2 L183.6,175.1 L184.3,175.3 L185.1,175.7 L185.8,175.5 L186.6,175.4 L187.3,175.6 L188.1,175.7 L188.8,175.6 L189.6,175.8 L190.3,176.1 L191.1,176.1 L191.8,176.0 L192.6,176.2 L193.3,176.6 L194.1,176.2 L194.8,176.0 L195.6,176.2 L196.3,176.2 L197.1,176.1 L197.8,176.2 L198.6,176.1 L199.3,176.1 L200.1,175.9 L200.8,175.9 L201.6,175.9 L202.3,176.4 L203.1,177.0 L203.8,176.9 L204.6,176.7 L205.3,176.7 L206.1,176.9 L206.8,176.9 L207.6,176.8 L208.3,176.5 L209.1,176.5 L209.8,176.6 L210.6,176.3 L211.3,176.2 L212.1,176.8 L212.8,179.7 L213.6,177.4 L214.3,173.9 L215.1,176.1 L215.8,176.9 L216.6,176.6 L217.3,176.7 L218.1,176.9 L218.8,176.9 L219.6,176.5 L220.3,176.7 L221.1,176.5 L221.8,176.5 L222.6,177.1 L223.3,177.1 L224.1,177.0 L224.8,177.1 L225.6,177.2 L226.3,177.2 L227.1,176.8 L227.8,176.7 L228.6,176.8 L229.3,177.1 L230.1,177.5 L230.8,177.3 L231.6,176.9 L232.3,176.7 L233.1,176.8 L233.8,177.2 L234.6,177.3 L235.3,177.0 L236.1,176.8 L236.8,177.0 L237.6,177.3 L238.3,177.1 L239.1,177.1 L239.8,177.5 L240.6,177.4 L241.3,177.5 L242.1,177.8 L242.8,177.5 L243.6,177.5 L244.3,177.5 L245.1,177.2 L245.8,177.2 L246.6,177.2 L247.3,177.5 L248.1,177.7 L248.8,177.8 L249.6,178.0 L250.3,177.3 L251.1,177.3 L251.8,177.7 L252.6,177.7 L253.3,178.0 L254.1,178.0" fill="none" stroke="#1e8cff" stroke-width="1.9" stroke-linejoin="round" stroke-linecap="round" filter="url(#sb)"/>
<path d="M48.6,166.9 L49.4,166.6 L50.1,166.6 L50.9,166.6 L51.6,166.5 L52.4,166.4 L53.1,166.7 L53.9,166.8 L54.6,166.6 L55.4,166.7 L56.1,166.9 L56.9,167.1 L57.6,167.2 L58.4,167.3 L59.1,167.5 L59.9,167.7 L60.6,167.7 L61.4,167.8 L62.1,168.1 L62.9,168.3 L63.6,168.5 L64.3,168.6 L65.1,168.7 L65.8,168.9 L66.6,169.2 L67.3,169.2 L68.1,169.2 L68.8,169.3 L69.6,169.1 L70.3,168.9 L71.1,168.8 L71.8,168.6 L72.6,168.5 L73.3,168.6 L74.1,168.7 L74.8,168.6 L75.6,168.5 L76.3,168.7 L77.1,168.7 L77.8,168.6 L78.6,168.7 L79.3,168.8 L80.1,168.8 L80.8,168.8 L81.6,168.8 L82.3,168.9 L83.1,168.9 L83.8,168.9 L84.6,168.9 L85.3,168.9 L86.1,168.9 L86.8,168.9 L87.6,169.0 L88.3,169.3 L89.1,169.4 L89.8,169.4 L90.6,169.3 L91.3,169.3 L92.1,169.4 L92.8,169.3 L93.6,169.5 L94.3,169.5 L95.1,169.5 L95.8,169.6 L96.6,169.6 L97.3,169.5 L98.1,169.6 L98.8,169.7 L99.6,169.8 L100.3,170.0 L101.1,169.8 L101.8,169.7 L102.6,169.8 L103.3,169.8 L104.1,169.7 L104.8,169.9 L105.6,170.0 L106.3,169.9 L107.1,169.9 L107.8,170.2 L108.6,170.1 L109.3,170.0 L110.1,170.3 L110.8,170.6 L111.6,170.3 L112.3,170.1 L113.1,170.3 L113.8,170.4 L114.6,170.4 L115.3,170.5 L116.1,170.6 L116.8,170.4 L117.6,170.2 L118.3,170.4 L119.1,170.7 L119.8,170.9 L120.6,170.6 L121.3,170.7 L122.1,171.0 L122.8,171.0 L123.6,170.9 L124.3,171.0 L125.1,171.2 L125.8,171.2 L126.6,171.2 L127.3,171.2 L128.1,171.1 L128.8,171.1 L129.6,171.2 L130.3,171.3 L131.1,171.3 L131.8,171.4 L132.6,171.6 L133.3,171.6 L134.1,171.4 L134.8,171.4 L135.6,171.5 L136.3,171.4 L137.1,171.4 L137.8,171.7 L138.6,171.9 L139.3,171.7 L140.1,171.5 L140.8,171.6 L141.6,171.8 L142.3,172.0 L143.1,171.9 L143.8,171.5 L144.6,171.7 L145.3,172.0 L146.1,172.0 L146.8,172.2 L147.6,172.4 L148.3,172.3 L149.1,172.0 L149.8,171.9 L150.6,172.0 L151.3,172.4 L152.1,172.4 L152.8,172.5 L153.6,172.5 L154.3,172.6 L155.1,172.7 L155.8,172.4 L156.6,172.3 L157.3,172.3 L158.1,172.2 L158.8,172.4 L159.6,172.8 L160.3,173.1 L161.1,173.0 L161.8,172.7 L162.6,172.6 L163.3,172.8 L164.1,173.1 L164.8,172.9 L165.6,173.0 L166.3,173.2 L167.1,172.9 L167.8,172.9 L168.6,173.2 L169.3,173.1 L170.1,173.1 L170.8,173.4 L171.6,173.7 L172.3,173.8 L173.1,173.4 L173.8,173.1 L174.6,173.4 L175.3,173.4 L176.1,173.2 L176.8,173.1 L177.6,173.5 L178.3,174.0 L179.1,173.8 L179.8,173.7 L180.6,173.6 L181.3,173.5 L182.1,173.7 L182.8,173.7 L183.6,173.8 L184.3,173.9 L185.1,173.6 L185.8,173.9 L186.6,174.0 L187.3,173.9 L188.1,173.9 L188.8,173.5 L189.6,173.7 L190.3,173.8 L191.1,173.9 L191.8,173.9 L192.6,173.5 L193.3,173.8 L194.1,174.2 L194.8,174.2 L195.6,173.9 L196.3,174.1 L197.1,174.1 L197.8,173.9 L198.6,174.0 L199.3,174.0 L200.1,174.3 L200.8,174.3 L201.6,174.3 L202.3,174.5 L203.1,174.2 L203.8,173.9 L204.6,174.1 L205.3,174.2 L206.1,174.4 L206.8,174.2 L207.6,174.2 L208.3,174.7 L209.1,174.6 L209.8,174.2 L210.6,174.3 L211.3,174.4 L212.1,174.7 L212.8,176.2 L213.6,175.4 L214.3,175.1 L215.1,174.9 L215.8,174.5 L216.6,174.0 L217.3,174.5 L218.1,174.5 L218.8,174.5 L219.6,174.6 L220.3,174.5 L221.1,174.5 L221.8,174.4 L222.6,174.6 L223.3,174.7 L224.1,174.6 L224.8,175.0 L225.6,174.2 L226.3,173.5 L227.1,174.7 L227.8,175.1 L228.6,175.1 L229.3,175.3 L230.1,174.9 L230.8,174.8 L231.6,175.2 L232.3,175.0 L233.1,174.8 L233.8,174.3 L234.6,174.1 L235.3,175.1 L236.1,174.8 L236.8,174.4 L237.6,174.8 L238.3,175.0 L239.1,175.3 L239.8,174.9 L240.6,174.6 L241.3,175.1 L242.1,174.9 L242.8,174.7 L243.6,175.4 L244.3,175.7 L245.1,175.5 L245.8,174.8 L246.6,174.7 L247.3,175.4 L248.1,175.4 L248.8,175.3 L249.6,176.1 L250.3,176.1 L251.1,175.4 L251.8,175.5 L252.6,175.8 L253.3,175.7 L254.1,175.8" fill="none" stroke="#2444ff" stroke-width="1.9" stroke-linejoin="round" stroke-linecap="round" filter="url(#sb)"/>
<rect x="48.1" y="19.5" width="206.4" height="192.6" fill="none" stroke="#1a1a1a" stroke-width="1.4"/>
<line x1="48.1" y1="83.6" x2="254.5" y2="83.6" stroke="#1a1a1a" stroke-width="1.4"/>
<line x1="48.1" y1="148.0" x2="254.5" y2="148.0" stroke="#1a1a1a" stroke-width="1.4"/>
<line x1="76.6" y1="83.6" x2="76.6" y2="82.1" stroke="#1a1a1a" stroke-width="1"/>
<line x1="112.2" y1="83.6" x2="112.2" y2="81.1" stroke="#1a1a1a" stroke-width="1"/>
<line x1="112.2" y1="19.5" x2="112.2" y2="21.5" stroke="#1a1a1a" stroke-width="1"/>
<line x1="147.7" y1="83.6" x2="147.7" y2="82.1" stroke="#1a1a1a" stroke-width="1"/>
<line x1="183.3" y1="83.6" x2="183.3" y2="81.1" stroke="#1a1a1a" stroke-width="1"/>
<line x1="183.3" y1="19.5" x2="183.3" y2="21.5" stroke="#1a1a1a" stroke-width="1"/>
<line x1="218.9" y1="83.6" x2="218.9" y2="82.1" stroke="#1a1a1a" stroke-width="1"/>
<line x1="76.6" y1="148.0" x2="76.6" y2="146.5" stroke="#1a1a1a" stroke-width="1"/>
<line x1="112.2" y1="148.0" x2="112.2" y2="145.5" stroke="#1a1a1a" stroke-width="1"/>
<line x1="112.2" y1="83.6" x2="112.2" y2="85.6" stroke="#1a1a1a" stroke-width="1"/>
<line x1="147.7" y1="148.0" x2="147.7" y2="146.5" stroke="#1a1a1a" stroke-width="1"/>
<line x1="183.3" y1="148.0" x2="183.3" y2="145.5" stroke="#1a1a1a" stroke-width="1"/>
<line x1="183.3" y1="83.6" x2="183.3" y2="85.6" stroke="#1a1a1a" stroke-width="1"/>
<line x1="218.9" y1="148.0" x2="218.9" y2="146.5" stroke="#1a1a1a" stroke-width="1"/>
<line x1="76.6" y1="212.1" x2="76.6" y2="210.6" stroke="#1a1a1a" stroke-width="1"/>
<line x1="112.2" y1="212.1" x2="112.2" y2="209.6" stroke="#1a1a1a" stroke-width="1"/>
<line x1="112.2" y1="148.0" x2="112.2" y2="150.0" stroke="#1a1a1a" stroke-width="1"/>
<line x1="147.7" y1="212.1" x2="147.7" y2="210.6" stroke="#1a1a1a" stroke-width="1"/>
<line x1="183.3" y1="212.1" x2="183.3" y2="209.6" stroke="#1a1a1a" stroke-width="1"/>
<line x1="183.3" y1="148.0" x2="183.3" y2="150.0" stroke="#1a1a1a" stroke-width="1"/>
<line x1="218.9" y1="212.1" x2="218.9" y2="210.6" stroke="#1a1a1a" stroke-width="1"/>
<line x1="48.1" y1="51.5" x2="50.6" y2="51.5" stroke="#1a1a1a" stroke-width="1"/>
<line x1="254.5" y1="51.5" x2="252.0" y2="51.5" stroke="#1a1a1a" stroke-width="1"/>
<line x1="48.1" y1="35.5" x2="49.6" y2="35.5" stroke="#1a1a1a" stroke-width="1"/>
<line x1="254.5" y1="35.5" x2="253.0" y2="35.5" stroke="#1a1a1a" stroke-width="1"/>
<line x1="48.1" y1="67.6" x2="49.6" y2="67.6" stroke="#1a1a1a" stroke-width="1"/>
<line x1="254.5" y1="67.6" x2="253.0" y2="67.6" stroke="#1a1a1a" stroke-width="1"/>
<line x1="48.1" y1="115.8" x2="50.6" y2="115.8" stroke="#1a1a1a" stroke-width="1"/>
<line x1="254.5" y1="115.8" x2="252.0" y2="115.8" stroke="#1a1a1a" stroke-width="1"/>
<line x1="48.1" y1="99.7" x2="49.6" y2="99.7" stroke="#1a1a1a" stroke-width="1"/>
<line x1="254.5" y1="99.7" x2="253.0" y2="99.7" stroke="#1a1a1a" stroke-width="1"/>
<line x1="48.1" y1="131.9" x2="49.6" y2="131.9" stroke="#1a1a1a" stroke-width="1"/>
<line x1="254.5" y1="131.9" x2="253.0" y2="131.9" stroke="#1a1a1a" stroke-width="1"/>
<line x1="48.1" y1="180.1" x2="50.6" y2="180.1" stroke="#1a1a1a" stroke-width="1"/>
<line x1="254.5" y1="180.1" x2="252.0" y2="180.1" stroke="#1a1a1a" stroke-width="1"/>
<line x1="48.1" y1="164.0" x2="49.6" y2="164.0" stroke="#1a1a1a" stroke-width="1"/>
<line x1="254.5" y1="164.0" x2="253.0" y2="164.0" stroke="#1a1a1a" stroke-width="1"/>
<line x1="48.1" y1="196.1" x2="49.6" y2="196.1" stroke="#1a1a1a" stroke-width="1"/>
<line x1="254.5" y1="196.1" x2="253.0" y2="196.1" stroke="#1a1a1a" stroke-width="1"/>
<path d="M329.3,23.9 L329.9,23.9 L330.5,23.9 L331.1,23.9 L331.7,24.0 L332.3,23.9 L332.9,23.9 L333.5,24.1 L334.1,24.2 L334.7,24.0 L335.3,24.0 L335.9,24.0 L336.5,23.9 L337.1,23.9 L337.7,24.1 L338.3,24.1 L338.9,24.1 L339.5,24.1 L340.1,24.1 L340.7,24.1 L341.3,24.2 L341.9,24.2 L342.5,24.2 L343.1,24.1 L343.7,24.0 L344.3,24.2 L344.9,24.4 L345.5,24.3 L346.1,24.2 L346.7,24.2 L347.3,24.2 L347.9,24.4 L348.5,24.3 L349.1,24.4 L349.7,24.5 L350.3,24.5 L350.9,24.5 L351.5,24.5 L352.1,24.6 L352.7,24.7 L353.3,24.8 L353.9,24.7 L354.5,24.8 L355.1,25.0 L355.7,25.0 L356.3,25.1 L356.9,25.1 L357.5,25.0 L358.1,25.2 L358.7,25.1 L359.3,25.1 L359.9,25.3 L360.5,25.2 L361.1,25.2 L361.7,25.2 L362.3,25.3 L362.9,25.2 L363.5,25.3 L364.1,25.3 L364.7,25.4 L365.3,25.4 L365.9,25.3 L366.5,25.4 L367.1,25.4 L367.7,25.5 L368.3,25.6 L368.9,25.6 L369.5,25.5 L370.1,25.6 L370.7,25.7 L371.3,25.8 L371.9,25.7 L372.5,25.6 L373.1,25.8 L373.7,26.0 L374.3,26.0 L374.9,26.0 L375.5,26.0 L376.1,25.9 L376.7,26.0 L377.3,26.1 L377.9,26.2 L378.5,26.2 L379.1,26.3 L379.7,26.5 L380.3,26.6 L380.9,26.6 L381.5,26.7 L382.1,26.9 L382.7,27.2 L383.3,27.3 L383.9,27.5 L384.5,27.8 L385.1,28.1 L385.7,28.3 L386.3,28.6 L386.9,28.8 L387.5,29.0 L388.1,29.1 L388.7,29.3 L389.3,29.6 L389.9,29.8 L390.5,30.0 L391.1,30.2 L391.7,30.4 L392.3,30.7 L392.9,30.9 L393.5,31.1 L394.1,31.3 L394.7,31.4 L395.3,31.6 L395.9,31.8 L396.5,32.0 L397.1,32.1 L397.7,32.5 L398.3,32.7 L398.9,32.7 L399.5,32.9 L400.1,33.1 L400.7,33.4 L401.3,33.5 L401.9,33.6 L402.5,33.9 L403.1,34.1 L403.7,34.3 L404.3,34.6 L404.9,34.8 L405.5,35.1 L406.1,35.2 L406.7,35.3 L407.3,35.4 L407.9,35.5 L408.5,35.8 L409.1,35.9 L409.7,36.1 L410.3,36.4 L410.9,36.6 L411.5,36.8 L412.1,36.9 L412.7,37.1 L413.3,37.3 L413.9,37.5 L414.5,37.7 L415.1,38.2 L415.7,38.5 L416.3,38.7 L416.9,38.9 L417.5,39.3 L418.1,39.6 L418.7,39.9 L419.3,40.2 L419.9,40.3 L420.5,40.6 L421.1,40.9 L421.7,41.0 L422.3,41.2 L422.9,41.2 L423.0,41.2 L423.5,41.2 L424.1,41.2 L424.7,41.2 L425.3,41.1 L425.9,40.9 L426.5,40.8 L427.1,40.7 L427.7,40.6 L428.3,40.6 L428.9,40.3 L429.5,40.1 L430.1,39.9 L430.7,39.7 L431.3,39.6 L431.9,39.4 L432.5,39.1 L433.1,39.1 L433.7,39.1 L434.3,38.9 L434.9,38.7 L435.5,38.7 L436.1,38.6 L436.7,38.2 L437.3,38.1 L437.9,38.0 L438.5,37.7 L439.1,37.6 L439.7,37.4 L440.3,37.2 L440.9,37.0 L441.5,36.7 L442.1,36.5 L442.7,36.4 L443.3,36.1 L443.9,35.8 L444.5,35.8 L445.1,35.6 L445.7,35.4 L446.3,35.3 L446.9,35.1 L447.5,34.8 L448.1,34.7 L448.7,34.7 L449.3,34.6 L449.9,34.5 L450.5,34.3 L451.1,34.2 L451.7,34.1 L452.3,33.9 L452.9,33.8 L453.5,33.8 L454.1,33.6 L454.7,33.5 L455.3,33.3 L455.9,33.1 L456.5,33.0 L457.1,33.0 L457.7,32.8 L458.3,32.7 L458.9,32.7 L459.5,32.7 L460.1,32.5 L460.7,32.4 L461.3,32.4 L461.9,32.3 L462.5,32.2 L463.1,32.1 L463.7,32.1 L464.3,32.1 L464.9,32.1 L465.5,32.2 L466.1,32.2 L466.7,32.1 L467.3,32.0 L467.9,32.0 L468.5,31.9 L469.1,31.8 L469.7,31.8 L470.3,31.7 L470.9,31.6 L471.5,31.5 L472.1,31.5 L472.7,31.4 L473.3,31.4 L473.9,31.4 L474.5,31.4 L475.1,31.3 L475.7,31.3 L476.3,31.2 L476.9,31.1 L477.5,30.9 L478.1,30.7 L478.7,30.6 L479.3,30.8 L479.9,30.7 L480.5,30.5 L481.1,30.7 L481.7,30.5 L482.3,30.4 L482.9,30.5 L483.5,30.4 L484.1,30.3 L484.7,30.2 L485.3,29.9 L485.9,29.8 L486.5,29.7 L487.1,29.5 L487.7,29.4 L488.3,29.5 L488.9,29.5 L489.5,29.3 L490.1,29.2 L490.7,29.1 L491.3,29.1 L491.9,29.0 L492.5,28.9 L493.1,28.7 L493.7,28.7 L494.3,28.7 L494.9,28.9 L495.5,28.9 L496.1,28.8 L496.7,28.7 L497.3,28.5 L497.9,28.4 L498.5,28.3 L499.1,28.2 L499.7,28.2 L500.3,28.3 L500.9,28.3 L501.5,28.3 L502.1,28.2 L502.7,28.0 L503.3,27.9 L503.9,27.9 L504.5,28.0 L505.1,28.1 L505.7,27.9 L506.3,27.8 L506.9,27.7 L507.5,27.7 L508.1,27.6 L508.7,27.6 L509.3,27.6 L509.9,27.6 L510.5,27.5 L511.1,27.4 L511.7,27.4 L512.3,27.4 L512.9,27.4 L513.5,27.3 L514.1,27.3 L514.7,27.2 L515.3,27.2 L515.9,27.1 L516.5,27.2 L517.1,27.3 L517.7,27.2 L518.3,27.2 L518.9,27.2 L519.5,27.1 L520.1,27.0 L520.7,27.0 L521.3,27.0 L521.9,27.0 L522.5,26.9 L523.1,26.8 L523.7,26.9 L524.3,26.7 L524.9,26.6 L525.5,26.7 L526.1,26.7 L526.7,26.5 L527.3,26.6 L527.9,26.6 L528.5,26.5 L529.1,26.5 L529.7,26.4 L530.3,26.4 L530.9,26.4 L531.5,26.3 L532.1,26.4 L532.7,26.4 L533.3,26.4 L533.9,26.4 L534.5,26.5 L535.1,26.5 L535.7,26.3 L536.3,26.2 L536.9,26.2 L537.5,26.2 L538.1,26.2 L538.7,26.1" fill="none" stroke="#ff2050" stroke-width="1.4" stroke-linejoin="round" stroke-linecap="round" filter="url(#sb)"/>
<path d="M329.3,25.2 L329.9,25.2 L330.5,25.1 L331.1,25.1 L331.7,25.1 L332.3,25.2 L332.9,25.3 L333.5,25.2 L334.1,25.0 L334.7,25.0 L335.3,25.3 L335.9,25.4 L336.5,25.3 L337.1,25.1 L337.7,25.2 L338.3,25.2 L338.9,25.1 L339.5,25.1 L340.1,25.3 L340.7,25.4 L341.3,25.4 L341.9,25.3 L342.5,25.4 L343.1,25.4 L343.7,25.3 L344.3,25.3 L344.9,25.4 L345.5,25.5 L346.1,25.5 L346.7,25.5 L347.3,25.5 L347.9,25.5 L348.5,25.4 L349.1,25.5 L349.7,25.7 L350.3,25.6 L350.9,25.6 L351.5,25.7 L352.1,25.8 L352.7,25.8 L353.3,25.8 L353.9,25.7 L354.5,25.7 L355.1,25.7 L355.7,25.8 L356.3,25.9 L356.9,25.9 L357.5,26.0 L358.1,26.1 L358.7,26.1 L359.3,26.1 L359.9,26.2 L360.5,26.1 L361.1,26.2 L361.7,26.1 L362.3,26.2 L362.9,26.3 L363.5,26.3 L364.1,26.4 L364.7,26.5 L365.3,26.5 L365.9,26.4 L366.5,26.5 L367.1,26.6 L367.7,26.6 L368.3,26.7 L368.9,26.8 L369.5,26.9 L370.1,26.9 L370.7,26.8 L371.3,26.8 L371.9,27.0 L372.5,27.1 L373.1,27.2 L373.7,27.2 L374.3,27.3 L374.9,27.3 L375.5,27.3 L376.1,27.4 L376.7,27.4 L377.3,27.5 L377.9,27.7 L378.5,27.8 L379.1,27.8 L379.7,27.9 L380.3,28.2 L380.9,28.2 L381.5,28.3 L382.1,28.5 L382.7,28.7 L383.3,28.7 L383.9,29.0 L384.5,29.3 L385.1,29.6 L385.7,29.8 L386.3,30.1 L386.9,30.4 L387.5,30.6 L388.1,30.8 L388.7,31.1 L389.3,31.4 L389.9,31.7 L390.5,31.9 L391.1,32.0 L391.7,32.1 L392.3,32.6 L392.9,32.9 L393.5,33.1 L394.1,33.4 L394.7,33.7 L395.3,33.8 L395.9,34.0 L396.5,34.2 L397.1,34.3 L397.7,34.6 L398.3,34.8 L398.9,34.8 L399.5,35.0 L400.1,35.3 L400.7,35.4 L401.3,35.7 L401.9,35.8 L402.5,36.0 L403.1,36.3 L403.7,36.3 L404.3,36.4 L404.9,36.7 L405.5,36.9 L406.1,36.9 L406.7,37.1 L407.3,37.4 L407.9,37.5 L408.5,37.6 L409.1,37.9 L409.7,38.0 L410.3,38.2 L410.9,38.4 L411.5,38.7 L412.1,38.9 L412.7,39.0 L413.3,39.3 L413.9,39.5 L414.5,39.7 L415.1,40.1 L415.7,40.3 L416.3,40.6 L416.9,40.8 L417.5,41.0 L418.1,41.2 L418.7,41.4 L419.3,41.6 L419.9,41.7 L420.5,41.6 L420.5,41.7 L421.1,41.6 L421.7,41.6 L422.3,41.5 L422.9,41.4 L423.5,41.2 L424.1,41.2 L424.7,41.1 L425.3,41.0 L425.9,40.9 L426.5,40.7 L427.1,40.6 L427.7,40.4 L428.3,40.2 L428.9,40.0 L429.5,39.9 L430.1,39.8 L430.7,39.7 L431.3,39.6 L431.9,39.4 L432.5,39.2 L433.1,38.9 L433.7,38.8 L434.3,38.8 L434.9,38.6 L435.5,38.5 L436.1,38.4 L436.7,38.2 L437.3,38.1 L437.9,37.9 L438.5,37.6 L439.1,37.3 L439.7,37.2 L440.3,37.1 L440.9,36.9 L441.5,36.7 L442.1,36.5 L442.7,36.3 L443.3,36.2 L443.9,36.1 L444.5,35.9 L445.1,35.7 L445.7,35.5 L446.3,35.3 L446.9,35.2 L447.5,35.1 L448.1,34.8 L448.7,34.6 L449.3,34.6 L449.9,34.6 L450.5,34.3 L451.1,34.1 L451.7,34.1 L452.3,33.9 L452.9,33.6 L453.5,33.5 L454.1,33.4 L454.7,33.4 L455.3,33.3 L455.9,33.2 L456.5,33.2 L457.1,32.9 L457.7,32.8 L458.3,32.7 L458.9,32.7 L459.5,32.8 L460.1,32.7 L460.7,32.6 L461.3,32.5 L461.9,32.4 L462.5,32.6 L463.1,32.4 L463.7,32.3 L464.3,32.4 L464.9,32.2 L465.5,32.0 L466.1,32.0 L466.7,32.1 L467.3,32.1 L467.9,32.0 L468.5,32.1 L469.1,32.1 L469.7,32.0 L470.3,31.9 L470.9,32.0 L471.5,31.9 L472.1,31.9 L472.7,31.9 L473.3,31.7 L473.9,31.7 L474.5,31.7 L475.1,31.5 L475.7,31.4 L476.3,31.4 L476.9,31.3 L477.5,31.3 L478.1,31.3 L478.7,31.1 L479.3,31.1 L479.9,31.1 L480.5,31.0 L481.1,30.7 L481.7,30.6 L482.3,30.5 L482.9,30.5 L483.5,30.4 L484.1,30.4 L484.7,30.3 L485.3,30.1 L485.9,30.0 L486.5,29.9 L487.1,29.8 L487.7,29.8 L488.3,29.7 L488.9,29.5 L489.5,29.3 L490.1,29.2 L490.7,29.2 L491.3,29.0 L491.9,28.9 L492.5,29.0 L493.1,28.9 L493.7,28.7 L494.3,28.8 L494.9,28.9 L495.5,28.7 L496.1,28.7 L496.7,28.7 L497.3,28.5 L497.9,28.5 L498.5,28.5 L499.1,28.2 L499.7,28.2 L500.3,28.1 L500.9,28.1 L501.5,28.0 L502.1,28.1 L502.7,28.1 L503.3,27.9 L503.9,28.0 L504.5,27.9 L505.1,27.8 L505.7,27.8 L506.3,27.7 L506.9,27.7 L507.5,27.6 L508.1,27.5 L508.7,27.4 L509.3,27.4 L509.9,27.4 L510.5,27.4 L511.1,27.2 L511.7,27.2 L512.3,27.2 L512.9,27.1 L513.5,27.2 L514.1,27.1 L514.7,27.0 L515.3,27.0 L515.9,26.9 L516.5,26.7 L517.1,26.7 L517.7,26.8 L518.3,26.7 L518.9,26.6 L519.5,26.7 L520.1,26.7 L520.7,26.6 L521.3,26.6 L521.9,26.5 L522.5,26.4 L523.1,26.4 L523.7,26.5 L524.3,26.5 L524.9,26.5 L525.5,26.5 L526.1,26.3 L526.7,26.3 L527.3,26.2 L527.9,26.2 L528.5,26.1 L529.1,26.2 L529.7,26.1 L530.3,26.0 L530.9,26.1 L531.5,26.0 L532.1,25.9 L532.7,25.9 L533.3,25.9 L533.9,25.8 L534.5,25.8 L535.1,25.8 L535.7,25.7 L536.3,25.7 L536.9,25.7 L537.5,25.6 L538.1,25.6 L538.7,25.6" fill="none" stroke="#ff9a1a" stroke-width="1.4" stroke-linejoin="round" stroke-linecap="round" filter="url(#sb)"/>
<path d="M329.3,26.2 L329.9,26.2 L330.5,26.2 L331.1,26.1 L331.7,26.1 L332.3,26.2 L332.9,26.3 L333.5,26.3 L334.1,26.3 L334.7,26.2 L335.3,26.2 L335.9,26.0 L336.5,26.1 L337.1,26.2 L337.7,26.2 L338.3,26.1 L338.9,26.3 L339.5,26.3 L340.1,26.2 L340.7,26.4 L341.3,26.5 L341.9,26.4 L342.5,26.5 L343.1,26.4 L343.7,26.5 L344.3,26.5 L344.9,26.3 L345.5,26.4 L346.1,26.5 L346.7,26.6 L347.3,26.6 L347.9,26.5 L348.5,26.6 L349.1,26.7 L349.7,26.8 L350.3,26.8 L350.9,26.9 L351.5,26.9 L352.1,26.8 L352.7,26.9 L353.3,26.9 L353.9,26.9 L354.5,26.9 L355.1,26.9 L355.7,26.9 L356.3,27.0 L356.9,27.0 L357.5,27.1 L358.1,27.1 L358.7,27.2 L359.3,27.5 L359.9,27.5 L360.5,27.4 L361.1,27.3 L361.7,27.4 L362.3,27.5 L362.9,27.5 L363.5,27.5 L364.1,27.6 L364.7,27.6 L365.3,27.6 L365.9,27.6 L366.5,27.6 L367.1,27.8 L367.7,27.9 L368.3,27.9 L368.9,28.0 L369.5,28.1 L370.1,28.2 L370.7,28.1 L371.3,28.1 L371.9,28.4 L372.5,28.3 L373.1,28.3 L373.7,28.5 L374.3,28.6 L374.9,28.5 L375.5,28.7 L376.1,28.8 L376.7,28.9 L377.3,29.0 L377.9,29.1 L378.5,29.3 L379.1,29.4 L379.7,29.3 L380.3,29.5 L380.9,29.8 L381.5,29.8 L382.1,30.1 L382.7,30.3 L383.3,30.5 L383.9,30.8 L384.5,31.1 L385.1,31.4 L385.7,31.4 L386.3,31.7 L386.9,32.1 L387.5,32.3 L388.1,32.6 L388.7,32.8 L389.3,33.0 L389.9,33.4 L390.5,33.6 L391.1,33.8 L391.7,34.0 L392.3,34.4 L392.9,34.7 L393.5,34.9 L394.1,35.0 L394.7,35.4 L395.3,35.6 L395.9,35.7 L396.5,36.0 L397.1,36.1 L397.7,36.4 L398.3,36.6 L398.9,36.9 L399.5,37.3 L400.1,37.4 L400.7,37.5 L401.3,37.8 L401.9,37.9 L402.5,37.9 L403.1,38.3 L403.7,38.5 L404.3,38.6 L404.9,38.8 L405.5,39.0 L406.1,39.1 L406.7,39.4 L407.3,39.7 L407.9,39.9 L408.5,40.0 L409.1,40.2 L409.7,40.4 L410.3,40.6 L410.9,41.1 L411.5,41.5 L412.1,41.7 L412.7,41.8 L413.3,42.1 L413.9,42.3 L414.5,42.4 L415.1,42.9 L415.7,43.2 L416.3,43.2 L416.9,43.2 L417.5,43.3 L417.5,43.4 L418.1,43.3 L418.7,43.2 L419.3,43.1 L419.9,42.8 L420.5,42.6 L421.1,42.4 L421.7,42.1 L422.3,41.8 L422.9,41.6 L423.5,41.4 L424.1,41.2 L424.7,41.0 L425.3,40.9 L425.9,40.7 L426.5,40.4 L427.1,40.1 L427.7,39.9 L428.3,39.9 L428.9,39.9 L429.5,39.6 L430.1,39.2 L430.7,39.1 L431.3,39.0 L431.9,38.8 L432.5,38.6 L433.1,38.3 L433.7,38.2 L434.3,38.2 L434.9,38.1 L435.5,37.9 L436.1,37.6 L436.7,37.5 L437.3,37.4 L437.9,37.3 L438.5,37.0 L439.1,36.8 L439.7,36.7 L440.3,36.5 L440.9,36.2 L441.5,36.1 L442.1,36.1 L442.7,35.9 L443.3,35.8 L443.9,35.5 L444.5,35.3 L445.1,35.2 L445.7,35.0 L446.3,34.9 L446.9,34.8 L447.5,34.7 L448.1,34.6 L448.7,34.4 L449.3,34.3 L449.9,34.3 L450.5,34.2 L451.1,33.9 L451.7,33.9 L452.3,33.8 L452.9,33.6 L453.5,33.5 L454.1,33.5 L454.7,33.4 L455.3,33.3 L455.9,33.2 L456.5,33.0 L457.1,32.8 L457.7,32.7 L458.3,32.7 L458.9,32.7 L459.5,32.6 L460.1,32.4 L460.7,32.3 L461.3,32.3 L461.9,32.4 L462.5,32.3 L463.1,32.2 L463.7,32.2 L464.3,32.1 L464.9,32.0 L465.5,31.9 L466.1,31.9 L466.7,32.0 L467.3,31.8 L467.9,31.7 L468.5,31.6 L469.1,31.8 L469.7,31.7 L470.3,31.6 L470.9,31.6 L471.5,31.5 L472.1,31.4 L472.7,31.5 L473.3,31.4 L473.9,31.2 L474.5,31.2 L475.1,31.2 L475.7,31.1 L476.3,31.0 L476.9,31.0 L477.5,30.9 L478.1,30.7 L478.7,30.7 L479.3,30.8 L479.9,30.7 L480.5,30.5 L481.1,30.4 L481.7,30.4 L482.3,30.3 L482.9,30.2 L483.5,30.1 L484.1,30.1 L484.7,29.9 L485.3,29.8 L485.9,29.7 L486.5,29.6 L487.1,29.6 L487.7,29.5 L488.3,29.3 L488.9,29.2 L489.5,29.2 L490.1,29.0 L490.7,29.0 L491.3,29.0 L491.9,28.9 L492.5,28.8 L493.1,28.8 L493.7,28.7 L494.3,28.5 L494.9,28.6 L495.5,28.5 L496.1,28.3 L496.7,28.2 L497.3,28.2 L497.9,28.3 L498.5,28.2 L499.1,28.1 L499.7,28.0 L500.3,27.9 L500.9,27.8 L501.5,27.8 L502.1,27.8 L502.7,27.8 L503.3,27.7 L503.9,27.5 L504.5,27.4 L505.1,27.5 L505.7,27.4 L506.3,27.3 L506.9,27.4 L507.5,27.3 L508.1,27.2 L508.7,27.0 L509.3,26.9 L509.9,26.9 L510.5,26.9 L511.1,26.9 L511.7,26.8 L512.3,26.8 L512.9,26.8 L513.5,26.7 L514.1,26.6 L514.7,26.5 L515.3,26.5 L515.9,26.6 L516.5,26.5 L517.1,26.4 L517.7,26.4 L518.3,26.3 L518.9,26.4 L519.5,26.2 L520.1,26.1 L520.7,26.0 L521.3,26.1 L521.9,26.1 L522.5,26.0 L523.1,26.0 L523.7,25.8 L524.3,25.8 L524.9,25.9 L525.5,25.8 L526.1,25.7 L526.7,25.7 L527.3,25.7 L527.9,25.6 L528.5,25.6 L529.1,25.4 L529.7,25.4 L530.3,25.4 L530.9,25.4 L531.5,25.4 L532.1,25.4 L532.7,25.3 L533.3,25.4 L533.9,25.3 L534.5,25.2 L535.1,25.1 L535.7,25.2 L536.3,25.2 L536.9,25.0 L537.5,25.0 L538.1,25.1 L538.7,25.1" fill="none" stroke="#e2e01a" stroke-width="1.4" stroke-linejoin="round" stroke-linecap="round" filter="url(#sb)"/>
<path d="M329.3,27.5 L329.9,27.5 L330.5,27.4 L331.1,27.5 L331.7,27.5 L332.3,27.4 L332.9,27.4 L333.5,27.4 L334.1,27.5 L334.7,27.7 L335.3,27.8 L335.9,27.7 L336.5,27.6 L337.1,27.6 L337.7,27.7 L338.3,27.6 L338.9,27.6 L339.5,27.6 L340.1,27.7 L340.7,27.8 L341.3,27.8 L341.9,27.8 L342.5,28.0 L343.1,27.8 L343.7,27.7 L344.3,27.7 L344.9,27.7 L345.5,27.8 L346.1,27.8 L346.7,27.9 L347.3,28.0 L347.9,28.0 L348.5,27.9 L349.1,28.0 L349.7,28.0 L350.3,28.0 L350.9,28.1 L351.5,28.1 L352.1,28.0 L352.7,28.1 L353.3,28.3 L353.9,28.3 L354.5,28.2 L355.1,28.3 L355.7,28.4 L356.3,28.1 L356.9,28.2 L357.5,28.4 L358.1,28.5 L358.7,28.6 L359.3,28.7 L359.9,28.6 L360.5,28.5 L361.1,28.5 L361.7,28.7 L362.3,28.8 L362.9,28.8 L363.5,28.8 L364.1,28.9 L364.7,28.9 L365.3,28.8 L365.9,29.0 L366.5,29.2 L367.1,29.2 L367.7,29.1 L368.3,29.3 L368.9,29.4 L369.5,29.5 L370.1,29.6 L370.7,29.7 L371.3,29.8 L371.9,29.9 L372.5,30.0 L373.1,30.2 L373.7,30.3 L374.3,30.4 L374.9,30.4 L375.5,30.5 L376.1,30.7 L376.7,30.7 L377.3,30.8 L377.9,31.0 L378.5,31.1 L379.1,31.3 L379.7,31.5 L380.3,31.6 L380.9,31.7 L381.5,31.8 L382.1,32.0 L382.7,32.4 L383.3,32.6 L383.9,32.8 L384.5,32.9 L385.1,33.0 L385.7,33.3 L386.3,33.5 L386.9,33.6 L387.5,34.0 L388.1,34.2 L388.7,34.5 L389.3,34.7 L389.9,34.9 L390.5,35.2 L391.1,35.4 L391.7,35.7 L392.3,35.9 L392.9,36.3 L393.5,36.5 L394.1,36.8 L394.7,37.2 L395.3,37.4 L395.9,37.6 L396.5,38.0 L397.1,38.2 L397.7,38.7 L398.3,38.9 L398.9,39.0 L399.5,39.3 L400.1,39.7 L400.7,40.0 L401.3,40.5 L401.9,40.8 L402.5,40.9 L403.1,41.2 L403.7,41.3 L404.3,41.5 L404.9,41.9 L405.5,42.2 L406.1,42.4 L406.7,42.7 L407.3,43.0 L407.9,43.3 L408.5,43.8 L409.1,44.3 L409.7,44.6 L410.3,45.0 L410.9,45.3 L411.5,45.5 L412.0,45.6 L412.1,45.6 L412.7,45.5 L413.3,45.2 L413.9,44.8 L414.5,44.5 L415.1,44.1 L415.7,43.6 L416.3,43.3 L416.9,42.8 L417.5,42.6 L418.1,42.2 L418.7,41.9 L419.3,41.6 L419.9,41.4 L420.5,41.4 L421.1,41.1 L421.7,40.8 L422.3,40.8 L422.9,40.7 L423.5,40.5 L424.1,40.2 L424.7,40.2 L425.3,40.2 L425.9,39.9 L426.5,39.8 L427.1,39.6 L427.7,39.4 L428.3,39.3 L428.9,39.1 L429.5,38.8 L430.1,38.5 L430.7,38.2 L431.3,37.9 L431.9,37.7 L432.5,37.5 L433.1,37.2 L433.7,36.9 L434.3,36.8 L434.9,36.7 L435.5,36.5 L436.1,36.4 L436.7,36.3 L437.3,36.1 L437.9,36.0 L438.5,35.9 L439.1,35.6 L439.7,35.5 L440.3,35.5 L440.9,35.2 L441.5,35.1 L442.1,35.2 L442.7,35.1 L443.3,34.8 L443.9,34.6 L444.5,34.7 L445.1,34.5 L445.7,34.3 L446.3,34.3 L446.9,34.3 L447.5,34.2 L448.1,34.0 L448.7,33.9 L449.3,33.7 L449.9,33.7 L450.5,33.7 L451.1,33.4 L451.7,33.3 L452.3,33.4 L452.9,33.2 L453.5,33.1 L454.1,33.1 L454.7,32.9 L455.3,32.8 L455.9,32.7 L456.5,32.7 L457.1,32.5 L457.7,32.5 L458.3,32.4 L458.9,32.3 L459.5,32.3 L460.1,32.2 L460.7,32.2 L461.3,32.3 L461.9,32.3 L462.5,32.0 L463.1,31.9 L463.7,32.0 L464.3,31.8 L464.9,31.7 L465.5,31.7 L466.1,31.7 L466.7,31.7 L467.3,31.5 L467.9,31.4 L468.5,31.4 L469.1,31.4 L469.7,31.5 L470.3,31.3 L470.9,31.1 L471.5,31.1 L472.1,31.0 L472.7,31.0 L473.3,31.0 L473.9,30.9 L474.5,30.7 L475.1,30.8 L475.7,30.8 L476.3,30.7 L476.9,30.6 L477.5,30.5 L478.1,30.5 L478.7,30.4 L479.3,30.2 L479.9,30.2 L480.5,30.2 L481.1,30.1 L481.7,30.0 L482.3,30.1 L482.9,29.9 L483.5,29.8 L484.1,29.8 L484.7,29.7 L485.3,29.7 L485.9,29.5 L486.5,29.3 L487.1,29.4 L487.7,29.4 L488.3,29.3 L488.9,29.3 L489.5,29.3 L490.1,29.1 L490.7,29.0 L491.3,29.0 L491.9,28.9 L492.5,29.0 L493.1,28.8 L493.7,28.7 L494.3,28.7 L494.9,28.6 L495.5,28.5 L496.1,28.4 L496.7,28.3 L497.3,28.4 L497.9,28.4 L498.5,28.3 L499.1,28.1 L499.7,28.2 L500.3,28.3 L500.9,28.2 L501.5,28.0 L502.1,27.9 L502.7,27.9 L503.3,27.8 L503.9,27.9 L504.5,27.9 L505.1,27.8 L505.7,27.7 L506.3,27.5 L506.9,27.5 L507.5,27.5 L508.1,27.5 L508.7,27.4 L509.3,27.4 L509.9,27.4 L510.5,27.4 L511.1,27.4 L511.7,27.2 L512.3,27.1 L512.9,27.2 L513.5,27.2 L514.1,27.0 L514.7,27.0 L515.3,27.0 L515.9,27.0 L516.5,26.9 L517.1,26.8 L517.7,26.9 L518.3,26.9 L518.9,26.9 L519.5,26.8 L520.1,26.7 L520.7,26.6 L521.3,26.7 L521.9,26.6 L522.5,26.5 L523.1,26.4 L523.7,26.4 L524.3,26.4 L524.9,26.3 L525.5,26.4 L526.1,26.4 L526.7,26.3 L527.3,26.3 L527.9,26.2 L528.5,26.3 L529.1,26.3 L529.7,26.2 L530.3,26.1 L530.9,26.0 L531.5,26.1 L532.1,26.0 L532.7,26.0 L533.3,26.0 L533.9,26.1 L534.5,26.1 L535.1,25.9 L535.7,25.9 L536.3,26.0 L536.9,26.1 L537.5,26.0 L538.1,25.9 L538.7,25.8" fill="none" stroke="#5fe03a" stroke-width="1.4" stroke-linejoin="round" stroke-linecap="round" filter="url(#sb)"/>
<path d="M329.3,28.9 L329.9,28.9 L330.5,28.9 L331.1,28.9 L331.7,28.8 L332.3,28.9 L332.9,29.0 L333.5,28.8 L334.1,28.8 L334.7,29.0 L335.3,29.0 L335.9,28.9 L336.5,28.9 L337.1,29.0 L337.7,29.0 L338.3,28.9 L338.9,28.9 L339.5,29.2 L340.1,29.2 L340.7,29.0 L341.3,29.0 L341.9,29.2 L342.5,29.2 L343.1,29.2 L343.7,29.0 L344.3,29.1 L344.9,29.2 L345.5,29.3 L346.1,29.3 L346.7,29.2 L347.3,29.1 L347.9,29.2 L348.5,29.4 L349.1,29.4 L349.7,29.4 L350.3,29.3 L350.9,29.4 L351.5,29.6 L352.1,29.7 L352.7,29.7 L353.3,29.6 L353.9,29.6 L354.5,29.5 L355.1,29.6 L355.7,29.6 L356.3,29.7 L356.9,29.7 L357.5,29.8 L358.1,29.8 L358.7,29.9 L359.3,30.0 L359.9,30.0 L360.5,30.1 L361.1,30.2 L361.7,30.2 L362.3,30.2 L362.9,30.3 L363.5,30.4 L364.1,30.4 L364.7,30.5 L365.3,30.7 L365.9,30.8 L366.5,30.7 L367.1,30.6 L367.7,30.7 L368.3,30.9 L368.9,31.1 L369.5,31.2 L370.1,31.2 L370.7,31.4 L371.3,31.5 L371.9,31.5 L372.5,31.8 L373.1,31.7 L373.7,31.8 L374.3,32.0 L374.9,32.1 L375.5,32.1 L376.1,32.2 L376.7,32.5 L377.3,32.7 L377.9,32.9 L378.5,33.0 L379.1,33.2 L379.7,33.4 L380.3,33.5 L380.9,33.6 L381.5,33.9 L382.1,34.3 L382.7,34.4 L383.3,34.6 L383.9,35.0 L384.5,35.4 L385.1,35.6 L385.7,35.8 L386.3,36.2 L386.9,36.4 L387.5,36.7 L388.1,36.8 L388.7,37.0 L389.3,37.5 L389.9,37.6 L390.5,37.9 L391.1,38.4 L391.7,38.8 L392.3,39.1 L392.9,39.3 L393.5,39.5 L394.1,39.8 L394.7,40.1 L395.3,40.5 L395.9,40.7 L396.5,41.0 L397.1,41.5 L397.7,41.8 L398.3,42.3 L398.9,42.9 L399.5,43.1 L400.1,43.5 L400.7,44.1 L401.3,44.7 L401.9,45.5 L402.5,46.4 L403.1,47.2 L403.7,48.1 L404.3,49.1 L404.9,49.8 L405.5,50.0 L405.5,50.0 L406.1,49.8 L406.7,49.1 L407.3,48.3 L407.9,47.2 L408.5,46.3 L409.1,45.5 L409.7,44.8 L410.3,44.3 L410.9,43.7 L411.5,43.3 L412.1,42.9 L412.7,42.5 L413.3,42.3 L413.9,42.0 L414.5,41.7 L415.1,41.5 L415.7,41.4 L416.3,41.3 L416.9,41.2 L417.5,41.0 L418.1,40.9 L418.7,40.9 L419.3,40.6 L419.9,40.5 L420.5,40.4 L421.1,40.0 L421.7,39.9 L422.3,39.9 L422.9,39.8 L423.5,39.6 L424.1,39.4 L424.7,39.3 L425.3,39.1 L425.9,39.0 L426.5,38.8 L427.1,38.5 L427.7,38.3 L428.3,38.2 L428.9,38.0 L429.5,37.7 L430.1,37.4 L430.7,37.2 L431.3,37.2 L431.9,36.8 L432.5,36.6 L433.1,36.6 L433.7,36.4 L434.3,36.3 L434.9,36.2 L435.5,35.9 L436.1,35.7 L436.7,35.7 L437.3,35.6 L437.9,35.5 L438.5,35.2 L439.1,35.0 L439.7,35.0 L440.3,35.0 L440.9,34.9 L441.5,34.7 L442.1,34.5 L442.7,34.3 L443.3,34.3 L443.9,34.2 L444.5,34.1 L445.1,34.1 L445.7,34.0 L446.3,33.7 L446.9,33.5 L447.5,33.6 L448.1,33.4 L448.7,33.3 L449.3,33.3 L449.9,33.2 L450.5,33.2 L451.1,33.1 L451.7,32.9 L452.3,32.8 L452.9,32.8 L453.5,32.7 L454.1,32.6 L454.7,32.6 L455.3,32.4 L455.9,32.3 L456.5,32.4 L457.1,32.3 L457.7,32.2 L458.3,32.1 L458.9,32.1 L459.5,32.0 L460.1,31.8 L460.7,31.8 L461.3,31.7 L461.9,31.6 L462.5,31.5 L463.1,31.5 L463.7,31.4 L464.3,31.4 L464.9,31.3 L465.5,31.3 L466.1,31.4 L466.7,31.3 L467.3,31.2 L467.9,31.0 L468.5,31.0 L469.1,30.9 L469.7,30.8 L470.3,30.8 L470.9,30.7 L471.5,30.7 L472.1,30.7 L472.7,30.7 L473.3,30.7 L473.9,30.5 L474.5,30.4 L475.1,30.4 L475.7,30.3 L476.3,30.2 L476.9,30.1 L477.5,30.2 L478.1,30.1 L478.7,30.0 L479.3,29.9 L479.9,29.8 L480.5,29.9 L481.1,29.8 L481.7,29.6 L482.3,29.6 L482.9,29.5 L483.5,29.4 L484.1,29.5 L484.7,29.5 L485.3,29.3 L485.9,29.2 L486.5,29.1 L487.1,29.1 L487.7,29.1 L488.3,29.1 L488.9,29.1 L489.5,29.0 L490.1,28.8 L490.7,28.8 L491.3,28.7 L491.9,28.6 L492.5,28.7 L493.1,28.6 L493.7,28.5 L494.3,28.5 L494.9,28.5 L495.5,28.3 L496.1,28.4 L496.7,28.4 L497.3,28.3 L497.9,28.3 L498.5,28.4 L499.1,28.2 L499.7,28.2 L500.3,28.1 L500.9,28.1 L501.5,28.1 L502.1,28.2 L502.7,28.1 L503.3,28.1 L503.9,28.0 L504.5,28.0 L505.1,28.0 L505.7,27.9 L506.3,27.9 L506.9,27.8 L507.5,27.8 L508.1,27.8 L508.7,27.7 L509.3,27.8 L509.9,27.8 L510.5,27.7 L511.1,27.6 L511.7,27.6 L512.3,27.5 L512.9,27.4 L513.5,27.5 L514.1,27.6 L514.7,27.4 L515.3,27.4 L515.9,27.5 L516.5,27.5 L517.1,27.4 L517.7,27.4 L518.3,27.3 L518.9,27.3 L519.5,27.4 L520.1,27.3 L520.7,27.2 L521.3,27.3 L521.9,27.3 L522.5,27.2 L523.1,27.1 L523.7,27.1 L524.3,27.1 L524.9,27.1 L525.5,27.1 L526.1,27.0 L526.7,27.0 L527.3,27.0 L527.9,27.0 L528.5,27.0 L529.1,27.0 L529.7,26.9 L530.3,26.7 L530.9,26.8 L531.5,27.0 L532.1,26.9 L532.7,26.7 L533.3,26.8 L533.9,26.9 L534.5,26.9 L535.1,26.9 L535.7,26.8 L536.3,26.8 L536.9,26.8 L537.5,26.7 L538.1,26.8 L538.7,26.8" fill="none" stroke="#22c4f4" stroke-width="1.4" stroke-linejoin="round" stroke-linecap="round" filter="url(#sb)"/>
<path d="M329.3,30.7 L329.9,30.6 L330.5,30.6 L331.1,30.6 L331.7,30.6 L332.3,30.5 L332.9,30.4 L333.5,30.6 L334.1,30.7 L334.7,30.6 L335.3,30.6 L335.9,30.7 L336.5,30.8 L337.1,30.7 L337.7,30.7 L338.3,30.8 L338.9,30.8 L339.5,30.8 L340.1,30.7 L340.7,30.7 L341.3,30.9 L341.9,30.9 L342.5,30.8 L343.1,30.8 L343.7,30.9 L344.3,30.9 L344.9,30.8 L345.5,30.8 L346.1,30.9 L346.7,31.0 L347.3,31.0 L347.9,31.1 L348.5,31.1 L349.1,31.0 L349.7,31.0 L350.3,31.0 L350.9,31.0 L351.5,31.0 L352.1,30.9 L352.7,31.1 L353.3,31.3 L353.9,31.3 L354.5,31.3 L355.1,31.3 L355.7,31.4 L356.3,31.4 L356.9,31.4 L357.5,31.4 L358.1,31.5 L358.7,31.5 L359.3,31.7 L359.9,31.7 L360.5,31.7 L361.1,31.8 L361.7,31.8 L362.3,31.8 L362.9,31.9 L363.5,31.9 L364.1,31.9 L364.7,32.1 L365.3,32.1 L365.9,32.1 L366.5,32.4 L367.1,32.5 L367.7,32.5 L368.3,32.6 L368.9,32.7 L369.5,32.9 L370.1,33.0 L370.7,33.1 L371.3,33.3 L371.9,33.5 L372.5,33.4 L373.1,33.5 L373.7,33.8 L374.3,34.0 L374.9,34.0 L375.5,34.2 L376.1,34.5 L376.7,34.6 L377.3,34.7 L377.9,34.9 L378.5,35.2 L379.1,35.5 L379.7,35.6 L380.3,35.7 L380.9,36.0 L381.5,36.2 L382.1,36.5 L382.7,36.7 L383.3,36.9 L383.9,37.2 L384.5,37.5 L385.1,37.8 L385.7,38.1 L386.3,38.4 L386.9,38.8 L387.5,39.2 L388.1,39.5 L388.7,39.8 L389.3,40.2 L389.9,40.8 L390.5,41.3 L391.1,41.7 L391.7,42.3 L392.3,42.8 L392.9,43.3 L393.5,44.0 L394.1,44.9 L394.7,45.6 L395.3,46.5 L395.9,47.6 L396.5,48.9 L397.1,50.3 L397.7,51.8 L398.3,53.5 L398.9,55.0 L399.5,56.7 L400.1,59.1 L400.7,63.0 L401.3,66.8 L401.3,66.9 L401.9,62.7 L402.5,58.6 L403.1,56.1 L403.7,54.0 L404.3,52.1 L404.9,50.5 L405.5,49.1 L406.1,47.8 L406.7,46.6 L407.3,45.5 L407.9,44.5 L408.5,43.7 L409.1,42.9 L409.7,42.1 L410.3,41.7 L410.9,41.4 L411.5,41.2 L412.1,41.0 L412.7,40.9 L413.3,40.6 L413.9,40.4 L414.5,40.4 L415.1,40.2 L415.7,40.0 L416.3,39.9 L416.9,39.7 L417.5,39.5 L418.1,39.3 L418.7,39.1 L419.3,39.0 L419.9,38.9 L420.5,38.7 L421.1,38.6 L421.7,38.5 L422.3,38.2 L422.9,38.1 L423.5,38.0 L424.1,37.9 L424.7,37.8 L425.3,37.6 L425.9,37.5 L426.5,37.4 L427.1,37.2 L427.7,37.2 L428.3,37.0 L428.9,36.8 L429.5,36.6 L430.1,36.4 L430.7,36.2 L431.3,36.1 L431.9,36.0 L432.5,35.8 L433.1,35.6 L433.7,35.6 L434.3,35.5 L434.9,35.2 L435.5,35.0 L436.1,35.0 L436.7,34.9 L437.3,34.7 L437.9,34.6 L438.5,34.4 L439.1,34.3 L439.7,34.2 L440.3,34.1 L440.9,33.9 L441.5,33.9 L442.1,33.7 L442.7,33.5 L443.3,33.6 L443.9,33.4 L444.5,33.3 L445.1,33.3 L445.7,33.1 L446.3,33.0 L446.9,33.0 L447.5,32.9 L448.1,32.7 L448.7,32.7 L449.3,32.7 L449.9,32.5 L450.5,32.4 L451.1,32.2 L451.7,32.1 L452.3,32.2 L452.9,32.1 L453.5,32.0 L454.1,32.0 L454.7,31.9 L455.3,31.7 L455.9,31.6 L456.5,31.7 L457.1,31.5 L457.7,31.3 L458.3,31.4 L458.9,31.3 L459.5,31.4 L460.1,31.4 L460.7,31.2 L461.3,31.1 L461.9,31.0 L462.5,31.0 L463.1,30.9 L463.7,30.9 L464.3,30.8 L464.9,30.8 L465.5,30.8 L466.1,30.8 L466.7,30.7 L467.3,30.5 L467.9,30.5 L468.5,30.6 L469.1,30.5 L469.7,30.4 L470.3,30.4 L470.9,30.3 L471.5,30.3 L472.1,30.2 L472.7,30.1 L473.3,30.1 L473.9,30.0 L474.5,30.0 L475.1,30.0 L475.7,29.9 L476.3,29.9 L476.9,29.9 L477.5,29.8 L478.1,29.8 L478.7,29.7 L479.3,29.6 L479.9,29.5 L480.5,29.4 L481.1,29.4 L481.7,29.5 L482.3,29.6 L482.9,29.3 L483.5,29.3 L484.1,29.3 L484.7,29.2 L485.3,29.2 L485.9,29.2 L486.5,29.1 L487.1,29.0 L487.7,29.0 L488.3,28.9 L488.9,28.8 L489.5,28.9 L490.1,28.8 L490.7,28.7 L491.3,28.7 L491.9,28.8 L492.5,28.7 L493.1,28.6 L493.7,28.6 L494.3,28.6 L494.9,28.6 L495.5,28.6 L496.1,28.5 L496.7,28.4 L497.3,28.4 L497.9,28.4 L498.5,28.5 L499.1,28.6 L499.7,28.3 L500.3,28.3 L500.9,28.3 L501.5,28.3 L502.1,28.4 L502.7,28.3 L503.3,28.2 L503.9,28.3 L504.5,28.2 L505.1,28.2 L505.7,28.2 L506.3,28.2 L506.9,28.1 L507.5,28.1 L508.1,28.1 L508.7,28.1 L509.3,28.1 L509.9,28.0 L510.5,27.9 L511.1,28.0 L511.7,28.0 L512.3,28.0 L512.9,28.0 L513.5,28.0 L514.1,27.9 L514.7,27.9 L515.3,27.9 L515.9,27.8 L516.5,27.9 L517.1,27.9 L517.7,27.9 L518.3,28.0 L518.9,27.9 L519.5,27.8 L520.1,27.7 L520.7,27.8 L521.3,27.9 L521.9,27.9 L522.5,27.7 L523.1,27.7 L523.7,27.7 L524.3,27.7 L524.9,27.6 L525.5,27.5 L526.1,27.5 L526.7,27.7 L527.3,27.7 L527.9,27.5 L528.5,27.5 L529.1,27.5 L529.7,27.6 L530.3,27.7 L530.9,27.5 L531.5,27.5 L532.1,27.5 L532.7,27.5 L533.3,27.5 L533.9,27.4 L534.5,27.5 L535.1,27.4 L535.7,27.5 L536.3,27.5 L536.9,27.4 L537.5,27.3 L538.1,27.4 L538.7,27.6" fill="none" stroke="#2444ff" stroke-width="1.4" stroke-linejoin="round" stroke-linecap="round" filter="url(#sb)"/>
<path d="M329.3,33.1 L329.9,33.2 L330.5,33.3 L331.1,33.2 L331.7,33.2 L332.3,33.2 L332.9,33.3 L333.5,33.3 L334.1,33.2 L334.7,33.3 L335.3,33.4 L335.9,33.3 L336.5,33.2 L337.1,33.2 L337.7,33.3 L338.3,33.4 L338.9,33.4 L339.5,33.3 L340.1,33.3 L340.7,33.4 L341.3,33.4 L341.9,33.5 L342.5,33.5 L343.1,33.4 L343.7,33.5 L344.3,33.4 L344.9,33.5 L345.5,33.6 L346.1,33.5 L346.7,33.5 L347.3,33.6 L347.9,33.6 L348.5,33.6 L349.1,33.8 L349.7,33.7 L350.3,33.8 L350.9,33.9 L351.5,33.9 L352.1,33.8 L352.7,33.9 L353.3,34.0 L353.9,33.9 L354.5,33.8 L355.1,33.9 L355.7,33.9 L356.3,33.9 L356.9,34.0 L357.5,34.2 L358.1,34.2 L358.7,34.3 L359.3,34.3 L359.9,34.3 L360.5,34.4 L361.1,34.4 L361.7,34.4 L362.3,34.6 L362.9,34.7 L363.5,34.8 L364.1,34.9 L364.7,34.9 L365.3,35.0 L365.9,35.0 L366.5,35.2 L367.1,35.4 L367.7,35.6 L368.3,35.7 L368.9,35.9 L369.5,36.1 L370.1,36.1 L370.7,36.2 L371.3,36.2 L371.9,36.4 L372.5,36.6 L373.1,36.7 L373.7,36.9 L374.3,37.1 L374.9,37.3 L375.5,37.6 L376.1,37.7 L376.7,38.0 L377.3,38.2 L377.9,38.5 L378.5,38.9 L379.1,39.1 L379.7,39.3 L380.3,39.6 L380.9,39.9 L381.5,40.3 L382.1,40.8 L382.7,41.1 L383.3,41.5 L383.9,42.0 L384.5,42.7 L385.1,43.1 L385.7,43.6 L386.3,44.2 L386.9,45.0 L387.5,45.9 L388.1,46.8 L388.7,47.7 L389.3,48.6 L389.9,49.7 L390.5,51.1 L391.1,52.6 L391.7,54.6 L392.3,57.3 L392.9,60.8 L393.5,65.9 L393.8,67.5 L394.1,66.1 L394.7,61.0 L395.3,57.3 L395.9,54.9 L396.5,52.9 L397.1,51.3 L397.7,49.9 L398.3,48.8 L398.9,47.8 L399.5,46.9 L400.1,46.0 L400.7,45.2 L401.3,44.5 L401.9,43.9 L402.5,43.4 L403.1,42.9 L403.7,42.3 L404.3,42.0 L404.9,41.7 L405.5,41.3 L406.1,40.8 L406.7,40.6 L407.3,40.4 L407.9,40.0 L408.5,39.8 L409.1,39.6 L409.7,39.4 L410.3,39.1 L410.9,38.9 L411.5,38.7 L412.1,38.4 L412.7,38.2 L413.3,38.1 L413.9,37.8 L414.5,37.7 L415.1,37.5 L415.7,37.2 L416.3,37.0 L416.9,37.0 L417.5,36.9 L418.1,36.7 L418.7,36.6 L419.3,36.5 L419.9,36.4 L420.5,36.5 L421.1,36.3 L421.7,35.9 L422.3,35.8 L422.9,35.8 L423.5,35.7 L424.1,35.7 L424.7,35.5 L425.3,35.4 L425.9,35.3 L426.5,35.3 L427.1,35.0 L427.7,35.0 L428.3,35.0 L428.9,34.8 L429.5,34.7 L430.1,34.5 L430.7,34.3 L431.3,34.3 L431.9,34.2 L432.5,34.0 L433.1,33.8 L433.7,33.6 L434.3,33.6 L434.9,33.5 L435.5,33.3 L436.1,33.1 L436.7,33.0 L437.3,32.9 L437.9,32.9 L438.5,32.9 L439.1,32.7 L439.7,32.6 L440.3,32.7 L440.9,32.7 L441.5,32.4 L442.1,32.2 L442.7,32.2 L443.3,32.0 L443.9,32.0 L444.5,32.2 L445.1,32.2 L445.7,32.0 L446.3,31.8 L446.9,31.7 L447.5,31.7 L448.1,31.6 L448.7,31.3 L449.3,31.5 L449.9,31.5 L450.5,31.4 L451.1,31.4 L451.7,31.3 L452.3,31.2 L452.9,31.1 L453.5,31.1 L454.1,31.1 L454.7,30.9 L455.3,30.8 L455.9,30.8 L456.5,30.6 L457.1,30.6 L457.7,30.7 L458.3,30.7 L458.9,30.5 L459.5,30.4 L460.1,30.5 L460.7,30.4 L461.3,30.2 L461.9,30.2 L462.5,30.4 L463.1,30.3 L463.7,30.1 L464.3,29.9 L464.9,30.0 L465.5,30.1 L466.1,30.1 L466.7,30.0 L467.3,29.9 L467.9,29.9 L468.5,29.8 L469.1,29.7 L469.7,29.7 L470.3,29.7 L470.9,29.7 L471.5,29.8 L472.1,29.6 L472.7,29.7 L473.3,29.6 L473.9,29.5 L474.5,29.6 L475.1,29.6 L475.7,29.4 L476.3,29.4 L476.9,29.5 L477.5,29.5 L478.1,29.3 L478.7,29.1 L479.3,29.2 L479.9,29.2 L480.5,29.3 L481.1,29.2 L481.7,29.2 L482.3,29.3 L482.9,29.1 L483.5,28.9 L484.1,29.0 L484.7,29.0 L485.3,29.1 L485.9,29.0 L486.5,29.0 L487.1,28.9 L487.7,28.6 L488.3,28.7 L488.9,28.9 L489.5,28.8 L490.1,28.7 L490.7,28.8 L491.3,28.9 L491.9,28.9 L492.5,28.7 L493.1,28.6 L493.7,28.8 L494.3,28.8 L494.9,28.7 L495.5,28.8 L496.1,28.8 L496.7,28.6 L497.3,28.6 L497.9,28.7 L498.5,28.7 L499.1,28.7 L499.7,28.6 L500.3,28.5 L500.9,28.5 L501.5,28.5 L502.1,28.5 L502.7,28.5 L503.3,28.5 L503.9,28.4 L504.5,28.4 L505.1,28.4 L505.7,28.5 L506.3,28.4 L506.9,28.4 L507.5,28.3 L508.1,28.3 L508.7,28.4 L509.3,28.3 L509.9,28.3 L510.5,28.4 L511.1,28.4 L511.7,28.3 L512.3,28.4 L512.9,28.5 L513.5,28.5 L514.1,28.4 L514.7,28.3 L515.3,28.3 L515.9,28.4 L516.5,28.4 L517.1,28.4 L517.7,28.3 L518.3,28.2 L518.9,28.3 L519.5,28.4 L520.1,28.2 L520.7,28.2 L521.3,28.2 L521.9,28.2 L522.5,28.2 L523.1,28.2 L523.7,28.3 L524.3,28.2 L524.9,28.1 L525.5,28.1 L526.1,28.1 L526.7,28.0 L527.3,28.0 L527.9,28.0 L528.5,28.0 L529.1,28.2 L529.7,28.1 L530.3,28.0 L530.9,28.1 L531.5,28.0 L532.1,27.9 L532.7,27.9 L533.3,28.0 L533.9,28.0 L534.5,27.9 L535.1,28.0 L535.7,28.0 L536.3,27.9 L536.9,28.0 L537.5,27.9 L538.1,27.9 L538.7,27.9" fill="none" stroke="#a21af0" stroke-width="1.4" stroke-linejoin="round" stroke-linecap="round" filter="url(#sb)"/>
<path d="M329.3,115.7 L329.9,121.7 L330.5,124.9 L331.1,124.0 L331.7,119.2 L332.3,115.2 L332.9,114.0 L333.5,113.1 L334.1,113.0 L334.7,112.8 L335.3,112.1 L335.9,111.5 L336.5,111.6 L337.1,111.1 L337.7,111.4 L338.3,110.8 L338.9,110.6 L339.5,110.3 L340.1,110.3 L340.7,110.0 L341.3,109.8 L341.9,109.8 L342.5,109.5 L343.1,109.8 L343.7,109.3 L344.3,109.4 L344.9,109.3 L345.5,109.1 L346.1,109.7 L346.7,109.0 L347.3,109.7 L347.9,109.1 L348.5,109.4 L349.1,109.9 L349.7,109.0 L350.3,109.1 L350.9,109.6 L351.5,109.4 L352.1,109.2 L352.7,109.3 L353.3,109.1 L353.9,109.2 L354.5,109.5 L355.1,109.0 L355.7,109.1 L356.3,109.3 L356.9,109.4 L357.5,108.8 L358.1,109.0 L358.7,108.8 L359.3,108.8 L359.9,108.8 L360.5,108.8 L361.1,108.6 L361.7,108.6 L362.3,108.8 L362.9,109.0 L363.5,109.3 L364.1,108.9 L364.7,109.0 L365.3,109.2 L365.9,109.3 L366.5,109.1 L367.1,109.2 L367.7,109.6 L368.3,109.2 L368.9,109.2 L369.5,109.0 L370.1,109.4 L370.7,109.3 L371.3,109.8 L371.9,109.4 L372.5,109.6 L373.1,109.7 L373.7,109.9 L374.3,109.3 L374.9,109.9 L375.5,109.7 L376.1,109.7 L376.7,109.7 L377.3,109.8 L377.9,109.8 L378.5,109.5 L379.1,110.1 L379.7,110.1 L380.3,109.9 L380.9,110.2 L381.5,110.7 L382.1,110.4 L382.7,110.3 L383.3,110.7 L383.9,110.3 L384.5,110.5 L385.1,110.5 L385.7,110.6 L386.3,110.9 L386.9,110.9 L387.5,110.8 L388.1,111.0 L388.7,111.1 L389.3,111.1 L389.9,111.2 L390.5,111.2 L391.1,111.3 L391.7,111.5 L392.3,111.4 L392.9,111.8 L393.5,111.8 L394.1,111.7 L394.7,111.9 L395.3,112.0 L395.9,112.2 L396.5,112.4 L397.1,112.4 L397.7,112.4 L398.3,113.0 L398.9,113.1 L399.5,113.1 L400.1,113.4 L400.7,113.5 L401.3,113.5 L401.9,113.8 L402.5,114.5 L403.1,114.3 L403.7,114.5 L404.3,114.5 L404.9,114.9 L405.5,115.5 L406.1,115.4 L406.7,115.8 L407.3,116.1 L407.9,116.4 L408.5,116.9 L409.1,117.0 L409.7,117.5 L410.3,117.7 L410.9,118.8 L411.5,119.0 L412.1,119.6 L412.7,120.8 L413.3,121.5 L413.9,122.9 L414.5,124.4 L415.1,126.8 L415.7,129.7 L416.3,133.4 L416.6,134.0 L416.9,133.0 L417.5,129.4 L418.1,126.2 L418.7,123.6 L419.3,121.7 L419.9,119.6 L420.5,117.7 L421.1,115.9 L421.7,114.9 L422.3,113.4 L422.9,112.5 L423.5,111.5 L424.1,110.4 L424.7,109.5 L425.3,108.8 L425.9,108.6 L426.5,107.5 L427.1,106.9 L427.7,106.5 L428.3,105.9 L428.9,105.5 L429.5,104.6 L430.1,104.2 L430.7,104.7 L431.3,103.8 L431.9,103.5 L432.5,103.4 L433.1,103.3 L433.7,102.7 L434.3,102.8 L434.9,102.6 L435.5,102.5 L436.1,102.3 L436.7,102.0 L437.3,101.8 L437.9,101.3 L438.5,101.9 L439.1,101.3 L439.7,101.4 L440.3,101.6 L440.9,101.1 L441.5,101.2 L442.1,101.0 L442.7,101.1 L443.3,100.9 L443.9,100.8 L444.5,101.1 L445.1,100.8 L445.7,100.6 L446.3,100.8 L446.9,101.0 L447.5,100.7 L448.1,101.1 L448.7,101.1 L449.3,101.4 L449.9,100.9 L450.5,101.2 L451.1,100.7 L451.7,101.0 L452.3,101.2 L452.9,101.3 L453.5,101.2 L454.1,101.3 L454.7,101.3 L455.3,101.4 L455.9,101.6 L456.5,101.7 L457.1,101.8 L457.7,102.0 L458.3,102.1 L458.9,101.6 L459.5,101.9 L460.1,102.1 L460.7,102.1 L461.3,102.6 L461.9,102.6 L462.5,102.6 L463.1,102.8 L463.7,103.1 L464.3,102.9 L464.9,103.1 L465.5,103.4 L466.1,103.5 L466.7,103.8 L467.3,103.7 L467.9,103.9 L468.5,103.8 L469.1,103.8 L469.7,104.1 L470.3,103.8 L470.9,104.5 L471.5,104.7 L472.1,104.6 L472.7,104.7 L473.3,105.1 L473.9,105.0 L474.5,105.3 L475.1,105.7 L475.7,105.5 L476.3,105.7 L476.9,105.7 L477.5,105.8 L478.1,105.9 L478.7,105.9 L479.3,106.2 L479.9,105.8 L480.5,106.2 L481.1,106.4 L481.7,106.2 L482.3,106.4 L482.9,106.4 L483.5,106.6 L484.1,106.8 L484.7,107.0 L485.3,106.8 L485.9,106.6 L486.5,106.9 L487.1,107.0 L487.7,107.2 L488.3,106.6 L488.9,107.1 L489.5,106.7 L490.1,107.2 L490.7,107.2 L491.3,107.3 L491.9,107.4 L492.5,107.3 L493.1,107.2 L493.7,107.4 L494.3,107.6 L494.9,107.4 L495.5,107.4 L496.1,107.2 L496.7,107.7 L497.3,107.4 L497.9,107.4 L498.5,107.5 L499.1,107.5 L499.7,107.6 L500.3,107.9 L500.9,107.9 L501.5,108.0 L502.1,108.0 L502.7,107.6 L503.3,107.9 L503.9,108.1 L504.5,108.3 L505.1,107.6 L505.7,107.6 L506.3,108.0 L506.9,107.9 L507.5,107.8 L508.1,108.1 L508.7,107.9 L509.3,107.6 L509.9,108.1 L510.5,108.1 L511.1,108.2 L511.7,108.3 L512.3,108.2 L512.9,108.1 L513.5,108.1 L514.1,107.9 L514.7,108.2 L515.3,108.5 L515.9,108.4 L516.5,108.7 L517.1,108.3 L517.7,108.0 L518.3,108.5 L518.9,108.6 L519.5,108.2 L520.1,108.1 L520.7,108.5 L521.3,108.6 L521.9,108.2 L522.5,108.4 L523.1,108.3 L523.7,108.3 L524.3,108.3 L524.9,108.6 L525.5,108.5 L526.1,108.4 L526.7,108.1 L527.3,108.9 L527.9,108.4 L528.5,108.6 L529.1,108.4 L529.7,108.7 L530.3,108.4 L530.9,108.7 L531.5,108.6 L532.1,108.9 L532.7,108.5 L533.3,108.6 L533.9,108.7 L534.5,109.1 L535.1,108.5 L535.7,108.8 L536.3,108.6 L536.9,108.8 L537.5,108.9 L538.1,108.8 L538.7,108.8" fill="none" stroke="#ff1a8c" stroke-width="1.4" stroke-linejoin="round" stroke-linecap="round" filter="url(#sb)"/>
<path d="M329.3,116.2 L329.9,123.8 L330.5,127.7 L331.1,126.2 L331.7,121.1 L332.3,116.2 L332.9,115.1 L333.5,114.7 L334.1,114.3 L334.7,114.0 L335.3,113.7 L335.9,112.7 L336.5,112.9 L337.1,112.5 L337.7,112.3 L338.3,111.9 L338.9,112.0 L339.5,112.0 L340.1,111.8 L340.7,111.5 L341.3,111.5 L341.9,111.4 L342.5,111.5 L343.1,111.2 L343.7,110.9 L344.3,110.8 L344.9,110.7 L345.5,110.7 L346.1,110.4 L346.7,110.6 L347.3,110.2 L347.9,110.1 L348.5,110.3 L349.1,110.0 L349.7,110.1 L350.3,109.7 L350.9,110.3 L351.5,110.1 L352.1,110.1 L352.7,110.2 L353.3,110.1 L353.9,110.0 L354.5,110.5 L355.1,110.0 L355.7,110.3 L356.3,110.5 L356.9,110.0 L357.5,110.2 L358.1,110.0 L358.7,110.4 L359.3,110.1 L359.9,110.0 L360.5,110.5 L361.1,110.4 L361.7,110.1 L362.3,110.5 L362.9,110.3 L363.5,110.9 L364.1,110.7 L364.7,110.3 L365.3,110.4 L365.9,110.3 L366.5,110.5 L367.1,110.5 L367.7,110.7 L368.3,110.6 L368.9,110.4 L369.5,110.5 L370.1,111.0 L370.7,111.0 L371.3,110.7 L371.9,110.8 L372.5,110.8 L373.1,110.9 L373.7,110.6 L374.3,111.1 L374.9,110.8 L375.5,111.0 L376.1,110.5 L376.7,111.1 L377.3,111.4 L377.9,110.7 L378.5,111.5 L379.1,111.3 L379.7,111.1 L380.3,111.0 L380.9,111.6 L381.5,111.5 L382.1,111.6 L382.7,111.5 L383.3,111.5 L383.9,111.8 L384.5,111.6 L385.1,112.0 L385.7,111.6 L386.3,111.8 L386.9,111.8 L387.5,112.4 L388.1,111.9 L388.7,112.1 L389.3,112.6 L389.9,112.6 L390.5,113.0 L391.1,113.1 L391.7,112.9 L392.3,113.0 L392.9,112.7 L393.5,113.0 L394.1,113.2 L394.7,113.3 L395.3,113.2 L395.9,113.5 L396.5,113.6 L397.1,114.1 L397.7,114.2 L398.3,114.2 L398.9,114.4 L399.5,114.7 L400.1,114.7 L400.7,115.0 L401.3,114.9 L401.9,115.5 L402.5,115.8 L403.1,115.8 L403.7,116.1 L404.3,116.3 L404.9,116.8 L405.5,116.7 L406.1,116.8 L406.7,117.2 L407.3,118.0 L407.9,118.5 L408.5,119.1 L409.1,119.8 L409.7,120.5 L410.3,121.0 L410.9,122.2 L411.5,123.3 L412.1,124.9 L412.7,126.3 L413.3,127.9 L413.9,128.6 L414.0,128.3 L414.5,128.4 L415.1,127.2 L415.7,125.3 L416.3,124.2 L416.9,123.1 L417.5,121.8 L418.1,121.1 L418.7,120.1 L419.3,119.5 L419.9,118.7 L420.5,117.7 L421.1,116.7 L421.7,115.4 L422.3,113.9 L422.9,112.4 L423.5,111.1 L424.1,110.3 L424.7,109.5 L425.3,108.9 L425.9,108.1 L426.5,107.4 L427.1,106.8 L427.7,106.2 L428.3,106.0 L428.9,105.4 L429.5,104.6 L430.1,104.4 L430.7,104.0 L431.3,103.8 L431.9,103.5 L432.5,103.3 L433.1,102.9 L433.7,102.5 L434.3,102.9 L434.9,102.9 L435.5,102.4 L436.1,102.5 L436.7,102.2 L437.3,102.2 L437.9,101.9 L438.5,101.9 L439.1,101.8 L439.7,101.3 L440.3,101.7 L440.9,101.6 L441.5,101.0 L442.1,101.6 L442.7,101.4 L443.3,101.4 L443.9,101.5 L444.5,101.4 L445.1,101.3 L445.7,101.4 L446.3,101.5 L446.9,102.1 L447.5,102.1 L448.1,101.7 L448.7,101.8 L449.3,102.0 L449.9,102.1 L450.5,101.9 L451.1,101.9 L451.7,102.5 L452.3,102.4 L452.9,102.0 L453.5,102.0 L454.1,102.2 L454.7,102.5 L455.3,102.6 L455.9,102.5 L456.5,102.4 L457.1,102.8 L457.7,103.0 L458.3,102.9 L458.9,102.9 L459.5,103.3 L460.1,103.2 L460.7,103.2 L461.3,103.5 L461.9,103.4 L462.5,103.9 L463.1,104.0 L463.7,103.8 L464.3,104.2 L464.9,104.5 L465.5,104.0 L466.1,104.5 L466.7,105.0 L467.3,104.5 L467.9,104.9 L468.5,104.8 L469.1,105.2 L469.7,104.9 L470.3,105.1 L470.9,105.5 L471.5,105.7 L472.1,105.9 L472.7,106.0 L473.3,106.3 L473.9,106.4 L474.5,106.5 L475.1,106.3 L475.7,106.6 L476.3,107.4 L476.9,107.3 L477.5,107.1 L478.1,107.2 L478.7,107.4 L479.3,107.2 L479.9,107.8 L480.5,107.4 L481.1,107.6 L481.7,108.1 L482.3,107.3 L482.9,107.9 L483.5,107.5 L484.1,107.8 L484.7,108.0 L485.3,108.0 L485.9,108.1 L486.5,108.0 L487.1,108.2 L487.7,108.0 L488.3,108.2 L488.9,108.1 L489.5,108.5 L490.1,108.2 L490.7,108.6 L491.3,108.5 L491.9,108.5 L492.5,108.9 L493.1,108.7 L493.7,108.3 L494.3,108.8 L494.9,108.2 L495.5,108.9 L496.1,108.8 L496.7,108.6 L497.3,109.0 L497.9,108.9 L498.5,109.4 L499.1,109.0 L499.7,109.5 L500.3,109.4 L500.9,109.0 L501.5,109.0 L502.1,109.5 L502.7,109.2 L503.3,109.3 L503.9,109.2 L504.5,109.1 L505.1,109.3 L505.7,109.2 L506.3,109.1 L506.9,109.4 L507.5,109.8 L508.1,109.8 L508.7,109.5 L509.3,109.6 L509.9,109.7 L510.5,109.9 L511.1,109.7 L511.7,109.6 L512.3,109.6 L512.9,109.9 L513.5,110.3 L514.1,109.6 L514.7,109.4 L515.3,110.0 L515.9,109.8 L516.5,109.9 L517.1,110.1 L517.7,109.9 L518.3,109.7 L518.9,109.6 L519.5,110.0 L520.1,109.8 L520.7,110.1 L521.3,109.8 L521.9,110.0 L522.5,109.8 L523.1,110.0 L523.7,110.0 L524.3,110.3 L524.9,110.4 L525.5,110.2 L526.1,110.0 L526.7,110.6 L527.3,110.3 L527.9,110.4 L528.5,110.4 L529.1,110.6 L529.7,110.5 L530.3,110.5 L530.9,110.5 L531.5,110.2 L532.1,110.3 L532.7,110.4 L533.3,110.5 L533.9,110.5 L534.5,110.5 L535.1,110.5 L535.7,110.4 L536.3,110.2 L536.9,110.7 L537.5,110.7 L538.1,110.4 L538.7,110.7" fill="none" stroke="#ff9a1a" stroke-width="1.4" stroke-linejoin="round" stroke-linecap="round" filter="url(#sb)"/>
<path d="M329.3,117.9 L329.9,129.1 L330.5,134.2 L331.1,132.6 L331.7,124.9 L332.3,118.5 L332.9,116.6 L333.5,116.1 L334.1,115.6 L334.7,115.4 L335.3,115.2 L335.9,114.3 L336.5,113.9 L337.1,114.3 L337.7,113.9 L338.3,113.6 L338.9,113.7 L339.5,113.6 L340.1,112.8 L340.7,113.0 L341.3,113.2 L341.9,112.7 L342.5,112.6 L343.1,112.8 L343.7,112.4 L344.3,112.2 L344.9,112.2 L345.5,112.0 L346.1,112.2 L346.7,111.7 L347.3,112.1 L347.9,111.5 L348.5,111.8 L349.1,111.4 L349.7,111.6 L350.3,111.9 L350.9,111.9 L351.5,112.0 L352.1,111.7 L352.7,111.8 L353.3,111.8 L353.9,111.9 L354.5,111.7 L355.1,112.0 L355.7,111.9 L356.3,112.0 L356.9,111.9 L357.5,112.0 L358.1,111.7 L358.7,111.8 L359.3,111.6 L359.9,111.8 L360.5,111.9 L361.1,112.1 L361.7,111.7 L362.3,112.6 L362.9,112.0 L363.5,112.3 L364.1,112.2 L364.7,111.5 L365.3,112.0 L365.9,112.4 L366.5,111.6 L367.1,112.3 L367.7,112.0 L368.3,112.1 L368.9,112.3 L369.5,111.9 L370.1,112.3 L370.7,112.2 L371.3,112.2 L371.9,112.5 L372.5,113.1 L373.1,112.5 L373.7,112.6 L374.3,112.5 L374.9,112.4 L375.5,112.7 L376.1,113.0 L376.7,112.7 L377.3,112.9 L377.9,112.7 L378.5,113.3 L379.1,112.6 L379.7,113.1 L380.3,113.1 L380.9,113.1 L381.5,112.9 L382.1,112.9 L382.7,113.2 L383.3,113.3 L383.9,113.2 L384.5,113.3 L385.1,113.7 L385.7,113.9 L386.3,113.7 L386.9,113.7 L387.5,113.8 L388.1,114.6 L388.7,114.3 L389.3,114.3 L389.9,114.6 L390.5,115.0 L391.1,114.9 L391.7,114.4 L392.3,114.8 L392.9,114.9 L393.5,115.0 L394.1,115.0 L394.7,115.3 L395.3,115.3 L395.9,115.7 L396.5,115.8 L397.1,115.7 L397.7,115.8 L398.3,116.3 L398.9,116.7 L399.5,116.9 L400.1,117.0 L400.7,116.6 L401.3,117.4 L401.9,117.5 L402.5,117.7 L403.1,117.7 L403.7,118.1 L404.3,118.3 L404.9,119.2 L405.5,119.1 L406.1,119.3 L406.7,119.7 L407.3,120.2 L407.9,120.9 L408.5,121.5 L409.1,122.5 L409.7,123.6 L410.3,124.7 L410.9,126.0 L411.5,127.6 L412.1,128.8 L412.7,129.3 L412.8,129.1 L413.3,128.9 L413.9,127.8 L414.5,126.3 L415.1,124.9 L415.7,123.2 L416.3,122.0 L416.9,121.3 L417.5,120.4 L418.1,119.3 L418.7,118.5 L419.3,117.8 L419.9,116.5 L420.5,115.4 L421.1,114.0 L421.7,113.7 L422.3,112.6 L422.9,111.6 L423.5,110.8 L424.1,109.9 L424.7,109.3 L425.3,108.6 L425.9,108.1 L426.5,107.0 L427.1,106.8 L427.7,105.9 L428.3,105.6 L428.9,104.6 L429.5,104.4 L430.1,104.2 L430.7,103.7 L431.3,103.2 L431.9,103.3 L432.5,103.3 L433.1,102.8 L433.7,102.7 L434.3,102.9 L434.9,102.5 L435.5,102.7 L436.1,102.3 L436.7,102.0 L437.3,102.2 L437.9,102.5 L438.5,102.0 L439.1,102.1 L439.7,102.1 L440.3,101.7 L440.9,102.1 L441.5,101.8 L442.1,101.8 L442.7,101.4 L443.3,101.4 L443.9,101.2 L444.5,101.8 L445.1,101.9 L445.7,102.2 L446.3,102.4 L446.9,102.2 L447.5,102.3 L448.1,102.6 L448.7,102.9 L449.3,102.5 L449.9,102.9 L450.5,102.8 L451.1,102.9 L451.7,103.2 L452.3,102.9 L452.9,102.9 L453.5,103.3 L454.1,103.3 L454.7,103.3 L455.3,103.4 L455.9,103.6 L456.5,103.5 L457.1,103.8 L457.7,103.8 L458.3,104.1 L458.9,104.2 L459.5,104.2 L460.1,104.1 L460.7,104.3 L461.3,104.3 L461.9,105.1 L462.5,104.6 L463.1,104.9 L463.7,105.2 L464.3,104.8 L464.9,105.1 L465.5,105.3 L466.1,105.3 L466.7,105.4 L467.3,105.7 L467.9,106.2 L468.5,106.2 L469.1,106.2 L469.7,106.3 L470.3,106.1 L470.9,106.7 L471.5,106.8 L472.1,106.6 L472.7,107.0 L473.3,107.1 L473.9,107.1 L474.5,107.2 L475.1,107.4 L475.7,107.5 L476.3,107.9 L476.9,108.0 L477.5,108.1 L478.1,108.1 L478.7,108.2 L479.3,108.8 L479.9,108.1 L480.5,108.8 L481.1,108.7 L481.7,108.8 L482.3,108.7 L482.9,108.9 L483.5,108.7 L484.1,108.8 L484.7,109.1 L485.3,108.8 L485.9,109.4 L486.5,109.5 L487.1,108.7 L487.7,109.1 L488.3,109.5 L488.9,109.6 L489.5,109.6 L490.1,109.7 L490.7,109.8 L491.3,109.9 L491.9,110.1 L492.5,109.8 L493.1,110.0 L493.7,109.6 L494.3,109.9 L494.9,109.7 L495.5,110.3 L496.1,110.5 L496.7,110.2 L497.3,109.9 L497.9,110.2 L498.5,110.2 L499.1,110.3 L499.7,110.5 L500.3,110.5 L500.9,109.8 L501.5,110.6 L502.1,110.3 L502.7,110.3 L503.3,110.7 L503.9,110.4 L504.5,110.2 L505.1,110.3 L505.7,110.6 L506.3,110.8 L506.9,110.9 L507.5,110.6 L508.1,110.6 L508.7,111.1 L509.3,110.7 L509.9,111.1 L510.5,110.9 L511.1,110.9 L511.7,110.8 L512.3,111.0 L512.9,110.9 L513.5,110.8 L514.1,111.0 L514.7,110.9 L515.3,111.1 L515.9,111.1 L516.5,111.1 L517.1,111.1 L517.7,111.1 L518.3,111.6 L518.9,111.2 L519.5,111.2 L520.1,111.2 L520.7,111.5 L521.3,111.3 L521.9,111.4 L522.5,111.4 L523.1,111.5 L523.7,111.5 L524.3,111.6 L524.9,111.2 L525.5,111.3 L526.1,111.0 L526.7,111.8 L527.3,111.8 L527.9,111.9 L528.5,111.7 L529.1,111.9 L529.7,111.7 L530.3,111.7 L530.9,111.5 L531.5,111.6 L532.1,111.7 L532.7,112.0 L533.3,112.2 L533.9,111.8 L534.5,112.0 L535.1,112.0 L535.7,111.8 L536.3,111.6 L536.9,111.9 L537.5,111.8 L538.1,112.0 L538.7,112.1" fill="none" stroke="#e2e01a" stroke-width="1.4" stroke-linejoin="round" stroke-linecap="round" filter="url(#sb)"/>
<path d="M329.3,116.1 L329.9,125.7 L330.5,130.7 L331.1,129.4 L331.7,124.4 L332.3,119.1 L332.9,118.3 L333.5,117.8 L334.1,117.1 L334.7,116.7 L335.3,116.7 L335.9,116.1 L336.5,116.1 L337.1,115.8 L337.7,115.4 L338.3,115.2 L338.9,115.2 L339.5,114.9 L340.1,114.5 L340.7,114.6 L341.3,114.6 L341.9,114.4 L342.5,114.2 L343.1,114.1 L343.7,114.0 L344.3,113.7 L344.9,113.5 L345.5,113.9 L346.1,113.5 L346.7,113.6 L347.3,113.1 L347.9,113.4 L348.5,113.1 L349.1,113.8 L349.7,113.0 L350.3,113.0 L350.9,113.4 L351.5,113.4 L352.1,112.8 L352.7,113.3 L353.3,113.4 L353.9,113.0 L354.5,113.4 L355.1,113.2 L355.7,113.1 L356.3,113.2 L356.9,113.2 L357.5,113.1 L358.1,113.8 L358.7,113.3 L359.3,113.2 L359.9,113.6 L360.5,113.4 L361.1,113.7 L361.7,113.4 L362.3,113.6 L362.9,113.5 L363.5,113.6 L364.1,113.5 L364.7,113.6 L365.3,114.0 L365.9,113.6 L366.5,113.6 L367.1,113.7 L367.7,113.9 L368.3,114.0 L368.9,114.1 L369.5,113.7 L370.1,114.1 L370.7,114.0 L371.3,114.0 L371.9,114.2 L372.5,113.8 L373.1,114.3 L373.7,114.3 L374.3,114.0 L374.9,114.3 L375.5,114.7 L376.1,114.3 L376.7,114.6 L377.3,114.5 L377.9,114.4 L378.5,114.4 L379.1,114.6 L379.7,115.0 L380.3,114.9 L380.9,114.7 L381.5,115.1 L382.1,114.9 L382.7,114.9 L383.3,115.2 L383.9,115.0 L384.5,115.0 L385.1,115.7 L385.7,115.2 L386.3,115.8 L386.9,115.5 L387.5,115.9 L388.1,116.0 L388.7,116.0 L389.3,115.8 L389.9,116.4 L390.5,116.5 L391.1,116.5 L391.7,116.8 L392.3,117.1 L392.9,116.9 L393.5,117.3 L394.1,117.2 L394.7,117.7 L395.3,117.9 L395.9,118.4 L396.5,118.3 L397.1,118.4 L397.7,118.8 L398.3,118.6 L398.9,119.2 L399.5,119.2 L400.1,119.4 L400.7,120.0 L401.3,120.1 L401.9,120.5 L402.5,120.3 L403.1,120.9 L403.7,121.0 L404.3,121.3 L404.9,121.4 L405.5,122.3 L406.1,122.7 L406.7,123.0 L407.3,123.6 L407.9,124.4 L408.5,125.7 L409.1,126.3 L409.7,127.3 L410.3,128.7 L410.9,129.8 L411.5,130.7 L412.0,130.9 L412.1,130.8 L412.7,130.1 L413.3,128.2 L413.9,126.9 L414.5,125.2 L415.1,123.9 L415.7,122.5 L416.3,121.2 L416.9,120.1 L417.5,119.3 L418.1,117.9 L418.7,116.7 L419.3,116.1 L419.9,115.2 L420.5,114.0 L421.1,113.2 L421.7,112.2 L422.3,111.6 L422.9,111.2 L423.5,110.4 L424.1,109.6 L424.7,108.9 L425.3,108.0 L425.9,107.8 L426.5,107.2 L427.1,106.8 L427.7,106.5 L428.3,105.7 L428.9,105.4 L429.5,104.6 L430.1,104.7 L430.7,104.4 L431.3,104.3 L431.9,104.0 L432.5,103.8 L433.1,103.8 L433.7,103.2 L434.3,103.4 L434.9,103.3 L435.5,102.8 L436.1,102.7 L436.7,102.9 L437.3,102.7 L437.9,102.7 L438.5,102.6 L439.1,102.3 L439.7,102.4 L440.3,102.5 L440.9,102.2 L441.5,102.2 L442.1,102.0 L442.7,102.3 L443.3,102.6 L443.9,102.0 L444.5,102.5 L445.1,102.6 L445.7,102.4 L446.3,102.6 L446.9,102.5 L447.5,102.7 L448.1,103.0 L448.7,103.2 L449.3,103.2 L449.9,103.5 L450.5,103.4 L451.1,103.2 L451.7,103.8 L452.3,103.8 L452.9,103.5 L453.5,104.1 L454.1,103.9 L454.7,103.9 L455.3,104.4 L455.9,103.6 L456.5,103.9 L457.1,104.4 L457.7,104.3 L458.3,104.3 L458.9,104.9 L459.5,104.8 L460.1,104.5 L460.7,104.8 L461.3,105.2 L461.9,105.5 L462.5,104.9 L463.1,105.5 L463.7,105.5 L464.3,105.4 L464.9,105.8 L465.5,105.7 L466.1,106.0 L466.7,106.6 L467.3,106.5 L467.9,106.7 L468.5,106.8 L469.1,106.9 L469.7,107.1 L470.3,106.8 L470.9,107.1 L471.5,107.5 L472.1,107.3 L472.7,107.5 L473.3,108.0 L473.9,108.2 L474.5,107.9 L475.1,108.0 L475.7,108.4 L476.3,108.5 L476.9,108.4 L477.5,108.8 L478.1,108.9 L478.7,109.0 L479.3,109.6 L479.9,109.4 L480.5,109.4 L481.1,109.6 L481.7,110.0 L482.3,109.8 L482.9,109.5 L483.5,109.8 L484.1,109.8 L484.7,109.7 L485.3,110.0 L485.9,110.0 L486.5,110.0 L487.1,110.0 L487.7,110.3 L488.3,109.9 L488.9,110.5 L489.5,110.4 L490.1,110.5 L490.7,110.0 L491.3,110.9 L491.9,110.2 L492.5,110.5 L493.1,110.8 L493.7,110.6 L494.3,110.7 L494.9,110.4 L495.5,110.8 L496.1,110.9 L496.7,111.1 L497.3,110.9 L497.9,111.0 L498.5,111.1 L499.1,110.9 L499.7,110.9 L500.3,111.5 L500.9,111.0 L501.5,111.4 L502.1,111.2 L502.7,111.5 L503.3,111.2 L503.9,111.4 L504.5,111.4 L505.1,111.3 L505.7,111.5 L506.3,111.3 L506.9,111.4 L507.5,111.4 L508.1,111.7 L508.7,111.5 L509.3,111.3 L509.9,111.5 L510.5,111.6 L511.1,111.5 L511.7,112.0 L512.3,111.8 L512.9,111.9 L513.5,111.6 L514.1,111.7 L514.7,112.0 L515.3,111.6 L515.9,112.0 L516.5,112.0 L517.1,111.9 L517.7,112.0 L518.3,111.8 L518.9,112.1 L519.5,111.8 L520.1,111.9 L520.7,112.4 L521.3,112.0 L521.9,111.8 L522.5,112.4 L523.1,112.1 L523.7,111.6 L524.3,112.3 L524.9,112.5 L525.5,112.5 L526.1,112.8 L526.7,112.4 L527.3,112.6 L527.9,112.3 L528.5,112.6 L529.1,112.9 L529.7,112.7 L530.3,112.7 L530.9,112.3 L531.5,112.6 L532.1,112.5 L532.7,112.9 L533.3,112.7 L533.9,112.9 L534.5,112.7 L535.1,113.3 L535.7,112.7 L536.3,113.0 L536.9,113.5 L537.5,113.1 L538.1,112.9 L538.7,113.2" fill="none" stroke="#5fe03a" stroke-width="1.4" stroke-linejoin="round" stroke-linecap="round" filter="url(#sb)"/>
<path d="M329.3,116.5 L329.9,127.2 L330.5,132.2 L331.1,131.5 L331.7,125.5 L332.3,121.3 L332.9,119.7 L333.5,119.0 L334.1,118.8 L334.7,118.5 L335.3,117.8 L335.9,118.0 L336.5,117.3 L337.1,116.7 L337.7,117.1 L338.3,116.9 L338.9,116.7 L339.5,116.4 L340.1,115.9 L340.7,116.2 L341.3,116.2 L341.9,115.9 L342.5,115.9 L343.1,115.4 L343.7,115.6 L344.3,115.5 L344.9,114.9 L345.5,114.8 L346.1,114.9 L346.7,114.9 L347.3,114.9 L347.9,114.7 L348.5,114.7 L349.1,114.6 L349.7,114.6 L350.3,114.7 L350.9,114.7 L351.5,114.6 L352.1,114.7 L352.7,114.6 L353.3,114.8 L353.9,114.6 L354.5,115.0 L355.1,114.7 L355.7,114.8 L356.3,114.6 L356.9,114.7 L357.5,114.8 L358.1,114.8 L358.7,114.7 L359.3,114.6 L359.9,114.8 L360.5,114.9 L361.1,115.0 L361.7,115.1 L362.3,114.8 L362.9,114.5 L363.5,114.9 L364.1,114.6 L364.7,114.8 L365.3,115.3 L365.9,115.2 L366.5,115.0 L367.1,115.1 L367.7,115.2 L368.3,114.9 L368.9,115.4 L369.5,115.3 L370.1,115.8 L370.7,115.3 L371.3,115.7 L371.9,115.4 L372.5,115.8 L373.1,115.4 L373.7,115.8 L374.3,115.6 L374.9,115.6 L375.5,115.8 L376.1,116.0 L376.7,116.0 L377.3,116.3 L377.9,116.2 L378.5,115.6 L379.1,116.1 L379.7,115.9 L380.3,116.3 L380.9,116.5 L381.5,116.2 L382.1,116.3 L382.7,116.7 L383.3,116.7 L383.9,117.2 L384.5,117.1 L385.1,117.2 L385.7,117.6 L386.3,117.3 L386.9,117.5 L387.5,117.5 L388.1,117.9 L388.7,118.2 L389.3,118.4 L389.9,118.3 L390.5,118.4 L391.1,118.6 L391.7,118.7 L392.3,119.2 L392.9,119.7 L393.5,119.3 L394.1,119.6 L394.7,120.6 L395.3,120.3 L395.9,121.0 L396.5,121.0 L397.1,121.7 L397.7,122.0 L398.3,122.2 L398.9,122.7 L399.5,122.8 L400.1,123.3 L400.7,123.9 L401.3,124.1 L401.9,124.1 L402.5,124.5 L403.1,125.1 L403.7,125.7 L404.3,126.3 L404.9,126.8 L405.5,127.6 L406.1,128.1 L406.7,128.9 L407.3,129.8 L407.9,131.1 L408.5,132.1 L409.1,134.2 L409.7,135.0 L409.9,135.1 L410.3,134.8 L410.9,133.4 L411.5,131.5 L412.1,129.7 L412.7,128.1 L413.3,126.6 L413.9,125.8 L414.5,124.7 L415.1,123.8 L415.7,123.4 L416.3,121.4 L416.9,120.5 L417.5,119.4 L418.1,118.0 L418.7,116.8 L419.3,115.0 L419.9,114.0 L420.5,113.3 L421.1,112.5 L421.7,112.3 L422.3,111.4 L422.9,110.9 L423.5,110.4 L424.1,109.8 L424.7,109.5 L425.3,108.9 L425.9,108.7 L426.5,108.2 L427.1,108.0 L427.7,107.4 L428.3,107.1 L428.9,107.2 L429.5,106.9 L430.1,106.4 L430.7,106.4 L431.3,106.0 L431.9,106.4 L432.5,105.5 L433.1,106.0 L433.7,105.3 L434.3,105.4 L434.9,105.1 L435.5,105.0 L436.1,105.1 L436.7,104.9 L437.3,104.6 L437.9,104.3 L438.5,104.8 L439.1,104.6 L439.7,104.3 L440.3,104.1 L440.9,104.1 L441.5,104.0 L442.1,104.2 L442.7,103.8 L443.3,103.9 L443.9,103.8 L444.5,104.2 L445.1,104.3 L445.7,104.0 L446.3,104.1 L446.9,104.4 L447.5,104.1 L448.1,104.0 L448.7,104.4 L449.3,104.4 L449.9,104.3 L450.5,104.7 L451.1,104.5 L451.7,104.1 L452.3,104.6 L452.9,104.6 L453.5,105.0 L454.1,104.7 L454.7,104.8 L455.3,105.0 L455.9,105.0 L456.5,104.8 L457.1,105.2 L457.7,105.2 L458.3,105.6 L458.9,106.0 L459.5,105.4 L460.1,105.5 L460.7,105.7 L461.3,105.8 L461.9,106.0 L462.5,106.2 L463.1,106.6 L463.7,106.3 L464.3,106.4 L464.9,106.4 L465.5,107.2 L466.1,107.4 L466.7,106.9 L467.3,107.1 L467.9,107.6 L468.5,107.9 L469.1,108.0 L469.7,108.0 L470.3,108.2 L470.9,108.3 L471.5,108.2 L472.1,108.9 L472.7,108.6 L473.3,108.5 L473.9,108.8 L474.5,108.7 L475.1,109.2 L475.7,109.5 L476.3,109.2 L476.9,109.8 L477.5,110.1 L478.1,109.9 L478.7,109.7 L479.3,109.9 L479.9,110.1 L480.5,110.0 L481.1,110.1 L481.7,110.4 L482.3,110.5 L482.9,110.8 L483.5,110.5 L484.1,111.2 L484.7,111.1 L485.3,111.1 L485.9,110.9 L486.5,111.4 L487.1,111.1 L487.7,111.6 L488.3,111.5 L488.9,111.2 L489.5,111.3 L490.1,111.9 L490.7,111.7 L491.3,111.6 L491.9,111.7 L492.5,111.8 L493.1,111.6 L493.7,111.8 L494.3,111.7 L494.9,111.8 L495.5,112.1 L496.1,111.8 L496.7,112.2 L497.3,112.1 L497.9,112.3 L498.5,112.3 L499.1,112.5 L499.7,112.4 L500.3,112.4 L500.9,112.3 L501.5,112.5 L502.1,112.2 L502.7,112.4 L503.3,112.6 L503.9,112.5 L504.5,112.6 L505.1,112.3 L505.7,112.9 L506.3,112.5 L506.9,112.7 L507.5,112.7 L508.1,112.9 L508.7,112.7 L509.3,112.6 L509.9,112.5 L510.5,112.8 L511.1,112.7 L511.7,113.0 L512.3,113.3 L512.9,112.6 L513.5,112.8 L514.1,113.1 L514.7,113.4 L515.3,113.2 L515.9,113.2 L516.5,113.3 L517.1,113.4 L517.7,113.6 L518.3,113.4 L518.9,113.1 L519.5,113.3 L520.1,113.5 L520.7,113.3 L521.3,113.4 L521.9,113.4 L522.5,113.4 L523.1,113.7 L523.7,113.6 L524.3,113.4 L524.9,113.6 L525.5,113.7 L526.1,114.2 L526.7,113.9 L527.3,114.1 L527.9,114.0 L528.5,113.5 L529.1,114.0 L529.7,113.8 L530.3,113.7 L530.9,113.8 L531.5,114.4 L532.1,113.8 L532.7,114.0 L533.3,114.4 L533.9,114.4 L534.5,113.9 L535.1,114.3 L535.7,114.2 L536.3,114.3 L536.9,114.5 L537.5,114.3 L538.1,114.4 L538.7,114.8" fill="none" stroke="#22c4f4" stroke-width="1.4" stroke-linejoin="round" stroke-linecap="round" filter="url(#sb)"/>
<path d="M329.3,113.2 L329.9,122.0 L330.5,126.8 L331.1,126.3 L331.7,124.4 L332.3,122.3 L332.9,121.8 L333.5,121.1 L334.1,120.9 L334.7,120.6 L335.3,120.0 L335.9,119.6 L336.5,119.4 L337.1,119.1 L337.7,118.6 L338.3,118.8 L338.9,118.5 L339.5,118.4 L340.1,117.9 L340.7,118.2 L341.3,118.3 L341.9,117.9 L342.5,117.3 L343.1,117.5 L343.7,117.4 L344.3,117.4 L344.9,117.2 L345.5,117.2 L346.1,116.9 L346.7,117.0 L347.3,116.7 L347.9,116.8 L348.5,116.9 L349.1,116.5 L349.7,116.8 L350.3,116.4 L350.9,116.6 L351.5,116.6 L352.1,116.9 L352.7,116.5 L353.3,116.9 L353.9,116.4 L354.5,116.7 L355.1,116.9 L355.7,116.9 L356.3,116.6 L356.9,116.6 L357.5,117.0 L358.1,116.6 L358.7,117.0 L359.3,116.8 L359.9,116.9 L360.5,117.4 L361.1,117.3 L361.7,117.2 L362.3,116.7 L362.9,117.1 L363.5,117.1 L364.1,117.1 L364.7,117.4 L365.3,116.8 L365.9,117.3 L366.5,117.3 L367.1,117.1 L367.7,117.7 L368.3,117.1 L368.9,117.4 L369.5,117.5 L370.1,117.1 L370.7,117.3 L371.3,117.4 L371.9,117.8 L372.5,117.9 L373.1,117.9 L373.7,117.9 L374.3,117.5 L374.9,118.1 L375.5,118.0 L376.1,118.4 L376.7,118.5 L377.3,118.8 L377.9,118.6 L378.5,118.7 L379.1,118.4 L379.7,118.7 L380.3,118.6 L380.9,119.1 L381.5,118.8 L382.1,119.1 L382.7,119.1 L383.3,119.3 L383.9,119.7 L384.5,119.6 L385.1,119.9 L385.7,119.8 L386.3,120.5 L386.9,120.2 L387.5,120.7 L388.1,121.2 L388.7,120.4 L389.3,121.0 L389.9,121.4 L390.5,121.9 L391.1,121.9 L391.7,122.5 L392.3,122.7 L392.9,123.5 L393.5,123.7 L394.1,124.7 L394.7,124.5 L395.3,125.3 L395.9,126.5 L396.5,126.7 L397.1,126.9 L397.7,127.9 L398.3,128.1 L398.9,128.6 L399.5,128.8 L400.1,129.5 L400.7,130.0 L401.3,130.2 L401.9,131.5 L402.5,132.2 L403.1,133.5 L403.7,134.9 L404.3,136.2 L404.9,138.4 L405.5,141.7 L406.1,145.7 L406.4,146.4 L406.7,145.4 L407.3,141.2 L407.9,137.7 L408.5,135.2 L409.1,132.9 L409.7,130.9 L410.3,129.2 L410.9,128.4 L411.5,126.9 L412.1,125.8 L412.7,124.7 L413.3,123.4 L413.9,122.6 L414.5,121.2 L415.1,120.7 L415.7,119.7 L416.3,119.4 L416.9,118.2 L417.5,117.3 L418.1,116.6 L418.7,116.0 L419.3,115.0 L419.9,114.5 L420.5,113.9 L421.1,113.9 L421.7,112.9 L422.3,112.1 L422.9,112.2 L423.5,112.1 L424.1,110.9 L424.7,111.4 L425.3,110.3 L425.9,110.2 L426.5,109.5 L427.1,109.2 L427.7,108.7 L428.3,108.4 L428.9,107.9 L429.5,108.3 L430.1,107.6 L430.7,107.7 L431.3,107.5 L431.9,107.1 L432.5,107.1 L433.1,106.8 L433.7,106.6 L434.3,106.5 L434.9,106.4 L435.5,106.0 L436.1,105.8 L436.7,105.8 L437.3,105.9 L437.9,106.0 L438.5,105.9 L439.1,105.6 L439.7,105.6 L440.3,105.4 L440.9,105.5 L441.5,105.2 L442.1,105.3 L442.7,105.1 L443.3,105.1 L443.9,105.5 L444.5,104.8 L445.1,105.1 L445.7,105.0 L446.3,105.3 L446.9,105.5 L447.5,105.1 L448.1,104.6 L448.7,105.3 L449.3,105.3 L449.9,104.9 L450.5,105.2 L451.1,105.3 L451.7,104.8 L452.3,105.5 L452.9,105.5 L453.5,105.6 L454.1,105.4 L454.7,105.5 L455.3,105.6 L455.9,106.0 L456.5,105.8 L457.1,106.4 L457.7,106.2 L458.3,105.8 L458.9,106.7 L459.5,106.5 L460.1,106.5 L460.7,106.8 L461.3,106.5 L461.9,107.0 L462.5,106.6 L463.1,107.1 L463.7,107.7 L464.3,107.9 L464.9,107.7 L465.5,107.7 L466.1,108.3 L466.7,108.2 L467.3,108.4 L467.9,108.6 L468.5,108.4 L469.1,109.0 L469.7,108.5 L470.3,109.4 L470.9,108.9 L471.5,109.2 L472.1,109.4 L472.7,109.8 L473.3,109.9 L473.9,110.0 L474.5,110.2 L475.1,110.3 L475.7,110.3 L476.3,110.1 L476.9,110.1 L477.5,110.3 L478.1,110.9 L478.7,111.0 L479.3,111.1 L479.9,111.3 L480.5,111.3 L481.1,111.3 L481.7,111.2 L482.3,111.3 L482.9,112.0 L483.5,112.0 L484.1,111.6 L484.7,111.9 L485.3,112.2 L485.9,112.5 L486.5,112.1 L487.1,112.3 L487.7,112.6 L488.3,112.1 L488.9,112.4 L489.5,112.6 L490.1,112.5 L490.7,113.2 L491.3,113.0 L491.9,112.9 L492.5,112.7 L493.1,113.1 L493.7,113.1 L494.3,112.9 L494.9,113.0 L495.5,112.8 L496.1,113.2 L496.7,113.4 L497.3,113.5 L497.9,113.4 L498.5,113.5 L499.1,113.3 L499.7,113.3 L500.3,113.7 L500.9,113.6 L501.5,113.4 L502.1,113.7 L502.7,113.8 L503.3,113.8 L503.9,113.7 L504.5,113.6 L505.1,113.8 L505.7,114.1 L506.3,113.8 L506.9,113.7 L507.5,113.9 L508.1,113.7 L508.7,114.0 L509.3,113.9 L509.9,114.2 L510.5,114.1 L511.1,114.3 L511.7,114.6 L512.3,114.1 L512.9,114.1 L513.5,114.4 L514.1,114.3 L514.7,114.4 L515.3,114.3 L515.9,114.5 L516.5,114.5 L517.1,114.1 L517.7,114.5 L518.3,114.7 L518.9,114.9 L519.5,114.6 L520.1,114.5 L520.7,115.0 L521.3,114.7 L521.9,114.9 L522.5,115.0 L523.1,115.1 L523.7,115.0 L524.3,114.8 L524.9,115.2 L525.5,115.0 L526.1,115.0 L526.7,115.6 L527.3,115.4 L527.9,115.0 L528.5,115.2 L529.1,115.3 L529.7,115.2 L530.3,115.0 L530.9,115.6 L531.5,115.6 L532.1,115.6 L532.7,115.5 L533.3,115.7 L533.9,115.8 L534.5,115.5 L535.1,115.7 L535.7,115.7 L536.3,116.0 L536.9,115.9 L537.5,115.6 L538.1,115.8 L538.7,116.3" fill="none" stroke="#2444ff" stroke-width="1.4" stroke-linejoin="round" stroke-linecap="round" filter="url(#sb)"/>
<path d="M329.3,111.5 L329.9,119.2 L330.5,123.5 L331.1,124.5 L331.7,124.4 L332.3,124.4 L332.9,124.2 L333.5,123.9 L334.1,123.5 L334.7,122.9 L335.3,122.0 L335.9,122.3 L336.5,121.6 L337.1,121.1 L337.7,121.1 L338.3,120.8 L338.9,120.6 L339.5,120.4 L340.1,120.4 L340.7,120.2 L341.3,119.8 L341.9,120.1 L342.5,119.8 L343.1,120.1 L343.7,119.8 L344.3,119.7 L344.9,119.6 L345.5,119.7 L346.1,119.2 L346.7,119.0 L347.3,119.1 L347.9,118.4 L348.5,118.8 L349.1,118.9 L349.7,118.7 L350.3,119.1 L350.9,119.0 L351.5,118.9 L352.1,118.8 L352.7,119.1 L353.3,118.8 L353.9,118.9 L354.5,119.1 L355.1,119.1 L355.7,119.5 L356.3,119.0 L356.9,118.7 L357.5,119.3 L358.1,119.4 L358.7,119.2 L359.3,119.6 L359.9,119.7 L360.5,119.2 L361.1,119.3 L361.7,119.1 L362.3,119.6 L362.9,119.6 L363.5,119.7 L364.1,119.3 L364.7,119.5 L365.3,119.4 L365.9,119.4 L366.5,119.5 L367.1,119.5 L367.7,119.8 L368.3,120.0 L368.9,120.1 L369.5,120.0 L370.1,120.0 L370.7,120.2 L371.3,120.4 L371.9,120.3 L372.5,120.4 L373.1,120.4 L373.7,120.5 L374.3,120.7 L374.9,120.6 L375.5,121.1 L376.1,120.7 L376.7,121.2 L377.3,121.0 L377.9,121.7 L378.5,121.7 L379.1,121.5 L379.7,121.8 L380.3,121.8 L380.9,122.2 L381.5,122.4 L382.1,123.1 L382.7,122.5 L383.3,123.2 L383.9,123.1 L384.5,123.5 L385.1,123.9 L385.7,124.1 L386.3,124.3 L386.9,124.5 L387.5,124.9 L388.1,125.3 L388.7,125.8 L389.3,125.7 L389.9,126.3 L390.5,126.5 L391.1,127.0 L391.7,127.5 L392.3,128.4 L392.9,129.2 L393.5,129.6 L394.1,129.7 L394.7,130.6 L395.3,131.0 L395.9,132.1 L396.5,132.9 L397.1,133.5 L397.7,134.4 L398.3,135.1 L398.9,135.7 L399.5,136.8 L400.1,138.5 L400.7,140.2 L401.3,142.2 L401.9,143.9 L402.5,145.4 L402.7,145.6 L403.1,145.1 L403.7,142.8 L404.3,140.3 L404.9,138.7 L405.5,136.8 L406.1,135.2 L406.7,133.5 L407.3,132.5 L407.9,131.0 L408.5,129.9 L409.1,129.3 L409.7,128.4 L410.3,127.8 L410.9,127.1 L411.5,126.0 L412.1,125.6 L412.7,124.3 L413.3,123.7 L413.9,122.5 L414.5,122.0 L415.1,121.0 L415.7,120.2 L416.3,119.6 L416.9,118.3 L417.5,118.0 L418.1,117.1 L418.7,116.6 L419.3,116.0 L419.9,115.3 L420.5,114.7 L421.1,114.1 L421.7,114.0 L422.3,113.3 L422.9,113.2 L423.5,112.4 L424.1,112.6 L424.7,111.8 L425.3,111.9 L425.9,111.2 L426.5,111.1 L427.1,110.7 L427.7,110.5 L428.3,110.1 L428.9,110.1 L429.5,109.8 L430.1,109.6 L430.7,109.5 L431.3,108.9 L431.9,109.1 L432.5,108.6 L433.1,108.1 L433.7,108.3 L434.3,108.0 L434.9,108.2 L435.5,107.6 L436.1,107.6 L436.7,107.4 L437.3,106.9 L437.9,107.2 L438.5,106.8 L439.1,107.2 L439.7,107.1 L440.3,106.7 L440.9,106.3 L441.5,106.6 L442.1,106.6 L442.7,106.7 L443.3,106.5 L443.9,106.3 L444.5,106.5 L445.1,106.4 L445.7,107.0 L446.3,106.5 L446.9,106.6 L447.5,106.8 L448.1,106.6 L448.7,106.8 L449.3,106.9 L449.9,106.9 L450.5,107.0 L451.1,107.4 L451.7,107.3 L452.3,107.0 L452.9,107.3 L453.5,107.7 L454.1,107.5 L454.7,107.8 L455.3,107.9 L455.9,108.1 L456.5,108.1 L457.1,108.3 L457.7,108.3 L458.3,108.6 L458.9,108.5 L459.5,109.2 L460.1,109.0 L460.7,109.1 L461.3,109.4 L461.9,109.4 L462.5,109.6 L463.1,109.7 L463.7,109.7 L464.3,109.8 L464.9,110.1 L465.5,110.6 L466.1,110.4 L466.7,110.6 L467.3,110.7 L467.9,111.1 L468.5,111.5 L469.1,111.1 L469.7,111.5 L470.3,111.6 L470.9,111.7 L471.5,112.0 L472.1,111.8 L472.7,112.3 L473.3,112.4 L473.9,112.3 L474.5,113.0 L475.1,113.0 L475.7,113.2 L476.3,112.8 L476.9,113.2 L477.5,113.3 L478.1,113.6 L478.7,113.9 L479.3,113.4 L479.9,113.9 L480.5,114.0 L481.1,114.3 L481.7,114.2 L482.3,114.1 L482.9,114.4 L483.5,114.3 L484.1,114.5 L484.7,114.7 L485.3,114.7 L485.9,115.0 L486.5,114.7 L487.1,115.6 L487.7,115.4 L488.3,115.4 L488.9,115.1 L489.5,115.0 L490.1,115.3 L490.7,115.5 L491.3,116.1 L491.9,115.9 L492.5,115.6 L493.1,116.1 L493.7,116.1 L494.3,115.9 L494.9,116.2 L495.5,116.1 L496.1,116.0 L496.7,115.9 L497.3,116.2 L497.9,116.5 L498.5,116.0 L499.1,116.0 L499.7,116.5 L500.3,115.9 L500.9,116.9 L501.5,116.4 L502.1,116.7 L502.7,117.0 L503.3,116.4 L503.9,116.5 L504.5,117.2 L505.1,116.7 L505.7,116.8 L506.3,116.9 L506.9,117.1 L507.5,117.2 L508.1,117.0 L508.7,117.0 L509.3,117.1 L509.9,117.2 L510.5,117.5 L511.1,117.3 L511.7,117.7 L512.3,117.2 L512.9,117.5 L513.5,117.8 L514.1,117.8 L514.7,117.6 L515.3,117.4 L515.9,117.5 L516.5,117.7 L517.1,117.8 L517.7,117.8 L518.3,117.6 L518.9,117.8 L519.5,118.1 L520.1,118.2 L520.7,117.8 L521.3,118.0 L521.9,117.8 L522.5,118.1 L523.1,119.0 L523.7,118.3 L524.3,118.3 L524.9,118.3 L525.5,118.2 L526.1,118.2 L526.7,118.6 L527.3,118.6 L527.9,119.0 L528.5,118.4 L529.1,118.9 L529.7,119.1 L530.3,118.5 L530.9,119.1 L531.5,118.7 L532.1,119.2 L532.7,119.4 L533.3,119.2 L533.9,119.3 L534.5,119.1 L535.1,119.4 L535.7,119.6 L536.3,119.4 L536.9,119.5 L537.5,119.6 L538.1,119.8 L538.7,119.3" fill="none" stroke="#a21af0" stroke-width="1.4" stroke-linejoin="round" stroke-linecap="round" filter="url(#sb)"/>
<path d="M329.3,172.2 L329.9,171.9 L330.5,171.9 L331.1,171.9 L331.7,171.5 L332.3,171.6 L332.9,170.9 L333.5,170.9 L334.1,170.6 L334.7,170.7 L335.3,170.5 L335.9,170.3 L336.5,170.0 L337.1,170.1 L337.7,169.9 L338.3,170.0 L338.9,169.7 L339.5,169.8 L340.1,169.5 L340.7,169.0 L341.3,169.2 L341.9,168.8 L342.5,169.2 L343.1,169.2 L343.7,168.8 L344.3,168.7 L344.9,168.2 L345.5,168.0 L346.1,168.2 L346.7,168.2 L347.3,167.8 L347.9,168.1 L348.5,168.0 L349.1,168.1 L349.7,168.2 L350.3,168.1 L350.9,167.9 L351.5,168.0 L352.1,168.2 L352.7,168.0 L353.3,168.6 L353.9,168.6 L354.5,168.4 L355.1,168.4 L355.7,169.4 L356.3,168.8 L356.9,168.7 L357.5,168.8 L358.1,168.5 L358.7,168.3 L359.3,168.2 L359.9,167.8 L360.5,168.0 L361.1,167.4 L361.7,167.7 L362.3,167.7 L362.9,167.2 L363.5,167.9 L364.1,167.2 L364.7,167.7 L365.3,167.3 L365.9,167.5 L366.5,167.2 L367.1,167.9 L367.7,167.5 L368.3,167.7 L368.9,167.4 L369.5,167.4 L370.1,167.3 L370.7,167.2 L371.3,167.3 L371.9,167.2 L372.5,167.1 L373.1,166.9 L373.7,167.1 L374.3,167.3 L374.9,167.0 L375.5,167.2 L376.1,167.1 L376.7,166.9 L377.3,166.9 L377.9,166.9 L378.5,167.0 L379.1,167.0 L379.7,167.2 L380.3,166.8 L380.9,166.6 L381.5,167.1 L382.1,166.9 L382.7,166.9 L383.3,167.4 L383.9,167.2 L384.5,167.0 L385.1,167.1 L385.7,166.9 L386.3,167.1 L386.9,166.7 L387.5,166.7 L388.1,166.7 L388.7,167.1 L389.3,167.1 L389.9,166.7 L390.5,167.0 L391.1,166.7 L391.7,167.0 L392.3,166.7 L392.9,166.9 L393.5,166.7 L394.1,166.7 L394.7,166.7 L395.3,166.7 L395.9,166.6 L396.5,166.4 L397.1,167.0 L397.7,166.6 L398.3,166.3 L398.9,166.2 L399.5,166.1 L400.1,166.5 L400.7,166.9 L401.3,166.3 L401.9,166.6 L402.5,166.2 L403.1,166.8 L403.7,166.7 L404.3,166.7 L404.9,166.9 L405.5,166.9 L406.1,166.8 L406.7,166.5 L407.3,166.3 L407.9,166.4 L408.5,166.2 L409.1,166.9 L409.7,166.5 L410.3,166.6 L410.9,166.6 L411.5,167.0 L412.1,166.4 L412.7,166.8 L413.3,166.6 L413.9,166.5 L414.5,166.1 L415.1,166.7 L415.7,166.4 L416.3,166.4 L416.9,166.5 L417.5,166.5 L418.1,166.7 L418.7,166.3 L419.3,166.5 L419.9,166.5 L420.5,166.5 L421.1,166.6 L421.7,166.4 L422.3,166.7 L422.9,166.3 L423.5,166.2 L424.1,166.4 L424.7,166.7 L425.3,166.3 L425.9,166.3 L426.5,166.4 L427.1,166.5 L427.7,166.4 L428.3,166.5 L428.9,166.1 L429.5,166.7 L430.1,166.5 L430.7,166.2 L431.3,166.7 L431.9,166.5 L432.5,166.7 L433.1,166.1 L433.7,166.7 L434.3,166.4 L434.9,166.0 L435.5,166.5 L436.1,166.3 L436.7,166.2 L437.3,166.3 L437.9,166.0 L438.5,166.5 L439.1,166.3 L439.7,166.3 L440.3,166.6 L440.9,166.4 L441.5,166.2 L442.1,166.1 L442.7,166.3 L443.3,166.6 L443.9,166.2 L444.5,166.1 L445.1,166.5 L445.7,166.3 L446.3,166.3 L446.9,166.7 L447.5,166.1 L448.1,166.4 L448.7,165.9 L449.3,166.2 L449.9,166.4 L450.5,166.5 L451.1,166.0 L451.7,166.5 L452.3,166.5 L452.9,166.3 L453.5,166.8 L454.1,166.3 L454.7,166.1 L455.3,166.4 L455.9,165.9 L456.5,166.6 L457.1,166.5 L457.7,166.2 L458.3,166.4 L458.9,166.4 L459.5,166.7 L460.1,166.1 L460.7,166.0 L461.3,165.8 L461.9,166.2 L462.5,165.9 L463.1,166.2 L463.7,166.3 L464.3,166.1 L464.9,166.0 L465.5,166.5 L466.1,166.2 L466.7,166.3 L467.3,166.4 L467.9,166.0 L468.5,166.0 L469.1,166.7 L469.7,166.2 L470.3,166.0 L470.9,166.2 L471.5,166.1 L472.1,165.9 L472.7,166.1 L473.3,166.2 L473.9,166.2 L474.5,166.3 L475.1,165.8 L475.7,165.9 L476.3,166.3 L476.9,166.1 L477.5,166.4 L478.1,166.2 L478.7,165.9 L479.3,166.3 L479.9,165.9 L480.5,166.2 L481.1,166.4 L481.7,166.6 L482.3,166.1 L482.9,166.3 L483.5,166.2 L484.1,166.3 L484.7,165.6 L485.3,166.0 L485.9,166.2 L486.5,166.2 L487.1,166.0 L487.7,166.3 L488.3,166.3 L488.9,166.1 L489.5,166.0 L490.1,166.0 L490.7,166.1 L491.3,166.3 L491.9,166.4 L492.5,166.0 L493.1,165.9 L493.7,165.9 L494.3,166.3 L494.9,166.1 L495.5,166.1 L496.1,166.1 L496.7,166.1 L497.3,166.0 L497.9,165.8 L498.5,165.9 L499.1,166.1 L499.7,166.1 L500.3,165.9 L500.9,165.9 L501.5,166.3 L502.1,165.9 L502.7,166.0 L503.3,165.9 L503.9,165.8 L504.5,165.7 L505.1,165.9 L505.7,165.8 L506.3,166.1 L506.9,165.7 L507.5,165.9 L508.1,166.1 L508.7,165.9 L509.3,166.1 L509.9,166.1 L510.5,165.6 L511.1,165.8 L511.7,165.7 L512.3,166.2 L512.9,165.9 L513.5,166.0 L514.1,166.3 L514.7,165.8 L515.3,165.9 L515.9,166.0 L516.5,165.8 L517.1,166.1 L517.7,166.0 L518.3,166.1 L518.9,165.9 L519.5,165.8 L520.1,165.8 L520.7,165.8 L521.3,165.5 L521.9,165.9 L522.5,166.0 L523.1,165.8 L523.7,165.7 L524.3,165.8 L524.9,165.9 L525.5,165.9 L526.1,166.2 L526.7,165.6 L527.3,165.9 L527.9,165.9 L528.5,165.8 L529.1,165.7 L529.7,165.5 L530.3,165.6 L530.9,165.9 L531.5,166.0 L532.1,165.6 L532.7,165.8 L533.3,165.8 L533.9,165.9 L534.5,165.7 L535.1,165.8 L535.7,165.9 L536.3,165.4 L536.9,165.7 L537.5,165.3 L538.1,165.2 L538.7,165.5" fill="none" stroke="#ff1a8c" stroke-width="1.4" stroke-linejoin="round" stroke-linecap="round" filter="url(#sb)"/>
<path d="M329.3,176.6 L329.9,176.8 L330.5,176.7 L331.1,176.3 L331.7,176.1 L332.3,175.9 L332.9,175.7 L333.5,175.6 L334.1,175.5 L334.7,175.2 L335.3,175.0 L335.9,174.9 L336.5,175.0 L337.1,174.6 L337.7,174.9 L338.3,174.4 L338.9,174.6 L339.5,173.9 L340.1,173.9 L340.7,174.0 L341.3,173.9 L341.9,173.7 L342.5,174.0 L343.1,173.5 L343.7,173.5 L344.3,173.2 L344.9,173.5 L345.5,173.2 L346.1,173.1 L346.7,172.5 L347.3,172.9 L347.9,172.6 L348.5,172.7 L349.1,172.8 L349.7,172.5 L350.3,172.7 L350.9,172.8 L351.5,172.7 L352.1,172.7 L352.7,172.7 L353.3,172.9 L353.9,172.9 L354.5,173.4 L355.1,173.3 L355.7,173.1 L356.3,173.3 L356.9,173.0 L357.5,172.5 L358.1,173.4 L358.7,173.3 L359.3,172.6 L359.9,172.7 L360.5,172.8 L361.1,172.6 L361.7,172.4 L362.3,172.5 L362.9,172.5 L363.5,172.4 L364.1,172.6 L364.7,172.5 L365.3,172.4 L365.9,172.5 L366.5,172.1 L367.1,172.8 L367.7,172.1 L368.3,172.4 L368.9,172.5 L369.5,172.5 L370.1,172.5 L370.7,172.7 L371.3,172.2 L371.9,172.4 L372.5,172.4 L373.1,172.3 L373.7,172.2 L374.3,172.6 L374.9,172.2 L375.5,172.3 L376.1,172.3 L376.7,172.3 L377.3,172.4 L377.9,172.3 L378.5,172.4 L379.1,172.3 L379.7,172.4 L380.3,172.6 L380.9,172.1 L381.5,172.6 L382.1,172.2 L382.7,172.4 L383.3,172.3 L383.9,172.2 L384.5,171.9 L385.1,172.6 L385.7,172.1 L386.3,172.1 L386.9,172.5 L387.5,172.3 L388.1,172.6 L388.7,172.6 L389.3,172.4 L389.9,172.3 L390.5,172.4 L391.1,172.0 L391.7,172.3 L392.3,172.3 L392.9,172.1 L393.5,172.3 L394.1,171.9 L394.7,172.4 L395.3,172.5 L395.9,171.9 L396.5,172.2 L397.1,172.5 L397.7,172.3 L398.3,172.0 L398.9,172.0 L399.5,172.3 L400.1,172.5 L400.7,171.9 L401.3,172.2 L401.9,172.0 L402.5,172.1 L403.1,172.2 L403.7,172.1 L404.3,172.0 L404.9,172.5 L405.5,172.1 L406.1,172.1 L406.7,172.3 L407.3,172.1 L407.9,172.1 L408.5,172.3 L409.1,171.9 L409.7,172.2 L410.3,172.3 L410.9,172.2 L411.5,172.0 L412.1,172.1 L412.7,171.7 L413.3,172.0 L413.9,172.1 L414.5,172.2 L415.1,172.1 L415.7,171.9 L416.3,171.8 L416.9,172.0 L417.5,172.0 L418.1,172.2 L418.7,172.0 L419.3,171.9 L419.9,172.0 L420.5,171.9 L421.1,171.9 L421.7,171.5 L422.3,171.6 L422.9,171.7 L423.5,172.0 L424.1,171.9 L424.7,172.0 L425.3,172.2 L425.9,171.7 L426.5,172.2 L427.1,172.0 L427.7,171.8 L428.3,172.2 L428.9,171.6 L429.5,171.7 L430.1,171.9 L430.7,172.0 L431.3,171.9 L431.9,171.5 L432.5,171.8 L433.1,171.9 L433.7,172.4 L434.3,172.1 L434.9,171.9 L435.5,171.7 L436.1,171.9 L436.7,171.6 L437.3,171.9 L437.9,171.9 L438.5,171.8 L439.1,171.9 L439.7,171.8 L440.3,171.7 L440.9,172.1 L441.5,172.0 L442.1,171.8 L442.7,171.7 L443.3,171.9 L443.9,171.9 L444.5,172.0 L445.1,172.1 L445.7,171.9 L446.3,171.6 L446.9,172.2 L447.5,172.0 L448.1,172.0 L448.7,172.1 L449.3,171.5 L449.9,171.7 L450.5,171.7 L451.1,172.0 L451.7,171.6 L452.3,171.7 L452.9,172.1 L453.5,171.9 L454.1,171.7 L454.7,172.2 L455.3,171.5 L455.9,171.9 L456.5,171.7 L457.1,171.9 L457.7,171.7 L458.3,171.6 L458.9,171.8 L459.5,171.5 L460.1,171.9 L460.7,171.7 L461.3,171.9 L461.9,171.7 L462.5,171.6 L463.1,171.8 L463.7,172.0 L464.3,171.3 L464.9,171.8 L465.5,171.9 L466.1,171.4 L466.7,171.6 L467.3,171.8 L467.9,171.6 L468.5,171.6 L469.1,172.0 L469.7,171.5 L470.3,171.5 L470.9,171.2 L471.5,171.5 L472.1,171.4 L472.7,172.0 L473.3,171.9 L473.9,171.4 L474.5,172.1 L475.1,171.8 L475.7,171.6 L476.3,171.8 L476.9,171.7 L477.5,171.5 L478.1,171.3 L478.7,171.4 L479.3,171.6 L479.9,171.5 L480.5,171.5 L481.1,171.8 L481.7,171.4 L482.3,171.8 L482.9,171.5 L483.5,171.6 L484.1,171.3 L484.7,171.6 L485.3,171.4 L485.9,171.2 L486.5,171.5 L487.1,171.5 L487.7,171.7 L488.3,171.6 L488.9,171.3 L489.5,171.4 L490.1,171.0 L490.7,171.3 L491.3,171.7 L491.9,171.8 L492.5,171.6 L493.1,171.5 L493.7,171.6 L494.3,171.5 L494.9,171.1 L495.5,171.2 L496.1,171.6 L496.7,171.6 L497.3,171.4 L497.9,171.3 L498.5,171.3 L499.1,171.3 L499.7,171.2 L500.3,171.0 L500.9,171.4 L501.5,171.2 L502.1,171.3 L502.7,171.7 L503.3,171.4 L503.9,171.2 L504.5,171.4 L505.1,171.0 L505.7,171.5 L506.3,171.3 L506.9,171.2 L507.5,171.4 L508.1,171.5 L508.7,171.1 L509.3,171.0 L509.9,171.6 L510.5,171.2 L511.1,171.5 L511.7,171.1 L512.3,171.3 L512.9,171.0 L513.5,171.3 L514.1,171.1 L514.7,171.0 L515.3,171.4 L515.9,171.2 L516.5,170.7 L517.1,171.1 L517.7,170.9 L518.3,170.9 L518.9,171.0 L519.5,171.0 L520.1,171.1 L520.7,170.9 L521.3,170.7 L521.9,170.9 L522.5,171.2 L523.1,170.8 L523.7,171.1 L524.3,171.1 L524.9,170.9 L525.5,171.1 L526.1,170.8 L526.7,170.9 L527.3,170.8 L527.9,171.1 L528.5,171.2 L529.1,170.8 L529.7,171.2 L530.3,170.5 L530.9,170.7 L531.5,170.7 L532.1,171.2 L532.7,170.8 L533.3,171.0 L533.9,170.5 L534.5,170.9 L535.1,171.0 L535.7,170.9 L536.3,170.3 L536.9,170.9 L537.5,171.0 L538.1,171.1 L538.7,170.9" fill="none" stroke="#ff9a1a" stroke-width="1.4" stroke-linejoin="round" stroke-linecap="round" filter="url(#sb)"/>
<path d="M329.3,179.8 L329.9,179.8 L330.5,179.8 L331.1,179.3 L331.7,179.4 L332.3,179.0 L332.9,178.9 L333.5,178.9 L334.1,178.4 L334.7,178.9 L335.3,178.3 L335.9,178.1 L336.5,177.8 L337.1,177.8 L337.7,177.6 L338.3,177.2 L338.9,177.1 L339.5,177.3 L340.1,177.1 L340.7,176.5 L341.3,176.5 L341.9,176.8 L342.5,176.7 L343.1,176.7 L343.7,176.2 L344.3,176.5 L344.9,176.2 L345.5,176.1 L346.1,176.0 L346.7,176.2 L347.3,176.0 L347.9,176.0 L348.5,175.6 L349.1,175.7 L349.7,175.5 L350.3,175.6 L350.9,175.6 L351.5,175.7 L352.1,175.9 L352.7,175.9 L353.3,176.0 L353.9,175.9 L354.5,176.2 L355.1,176.0 L355.7,176.2 L356.3,176.1 L356.9,176.1 L357.5,175.8 L358.1,175.5 L358.7,175.3 L359.3,175.8 L359.9,175.3 L360.5,175.1 L361.1,174.9 L361.7,174.7 L362.3,175.4 L362.9,174.5 L363.5,174.7 L364.1,174.6 L364.7,174.4 L365.3,174.3 L365.9,174.4 L366.5,174.4 L367.1,174.4 L367.7,174.6 L368.3,174.2 L368.9,174.4 L369.5,174.6 L370.1,174.5 L370.7,174.1 L371.3,173.7 L371.9,174.4 L372.5,174.3 L373.1,174.1 L373.7,174.4 L374.3,174.1 L374.9,174.2 L375.5,173.9 L376.1,174.2 L376.7,174.0 L377.3,174.0 L377.9,174.3 L378.5,174.1 L379.1,173.7 L379.7,174.1 L380.3,174.2 L380.9,173.8 L381.5,173.9 L382.1,174.0 L382.7,173.9 L383.3,173.9 L383.9,174.0 L384.5,173.8 L385.1,174.3 L385.7,173.7 L386.3,173.7 L386.9,174.2 L387.5,174.3 L388.1,173.8 L388.7,173.7 L389.3,173.5 L389.9,174.0 L390.5,173.8 L391.1,173.6 L391.7,173.8 L392.3,174.0 L392.9,173.8 L393.5,174.1 L394.1,173.9 L394.7,173.8 L395.3,173.7 L395.9,173.8 L396.5,173.9 L397.1,173.9 L397.7,173.9 L398.3,173.7 L398.9,173.9 L399.5,173.9 L400.1,173.7 L400.7,173.4 L401.3,174.1 L401.9,173.8 L402.5,173.6 L403.1,173.8 L403.7,173.7 L404.3,173.4 L404.9,173.7 L405.5,173.4 L406.1,173.8 L406.7,173.7 L407.3,174.0 L407.9,173.7 L408.5,173.8 L409.1,173.7 L409.7,173.7 L410.3,173.5 L410.9,173.9 L411.5,173.8 L412.1,173.6 L412.7,173.8 L413.3,173.7 L413.9,173.6 L414.5,173.8 L415.1,174.0 L415.7,173.7 L416.3,173.5 L416.9,173.6 L417.5,174.1 L418.1,173.6 L418.7,174.0 L419.3,173.7 L419.9,173.9 L420.5,173.8 L421.1,173.5 L421.7,173.7 L422.3,174.2 L422.9,173.8 L423.5,173.9 L424.1,173.7 L424.7,173.8 L425.3,173.9 L425.9,173.9 L426.5,174.2 L427.1,173.8 L427.7,173.8 L428.3,173.7 L428.9,173.5 L429.5,173.5 L430.1,173.9 L430.7,173.4 L431.3,174.1 L431.9,174.0 L432.5,173.7 L433.1,173.6 L433.7,173.8 L434.3,173.8 L434.9,174.0 L435.5,173.7 L436.1,173.7 L436.7,173.8 L437.3,173.7 L437.9,173.7 L438.5,173.5 L439.1,173.5 L439.7,173.7 L440.3,173.8 L440.9,174.0 L441.5,174.3 L442.1,174.1 L442.7,173.9 L443.3,174.2 L443.9,173.8 L444.5,173.7 L445.1,174.3 L445.7,173.6 L446.3,173.7 L446.9,173.7 L447.5,174.1 L448.1,173.7 L448.7,174.0 L449.3,173.7 L449.9,173.6 L450.5,173.8 L451.1,173.8 L451.7,173.6 L452.3,173.6 L452.9,173.6 L453.5,174.0 L454.1,173.9 L454.7,173.8 L455.3,173.9 L455.9,173.7 L456.5,173.9 L457.1,173.7 L457.7,173.5 L458.3,173.7 L458.9,173.8 L459.5,173.8 L460.1,174.0 L460.7,173.5 L461.3,173.8 L461.9,173.9 L462.5,173.6 L463.1,173.9 L463.7,173.7 L464.3,173.6 L464.9,174.0 L465.5,173.5 L466.1,174.0 L466.7,173.7 L467.3,173.6 L467.9,173.6 L468.5,173.7 L469.1,173.6 L469.7,173.9 L470.3,173.4 L470.9,174.0 L471.5,174.0 L472.1,174.1 L472.7,173.6 L473.3,173.3 L473.9,173.7 L474.5,173.7 L475.1,173.8 L475.7,173.7 L476.3,173.7 L476.9,173.8 L477.5,173.4 L478.1,174.1 L478.7,173.5 L479.3,173.8 L479.9,173.9 L480.5,173.5 L481.1,173.7 L481.7,174.0 L482.3,173.6 L482.9,173.9 L483.5,173.7 L484.1,173.7 L484.7,173.8 L485.3,173.6 L485.9,173.6 L486.5,173.8 L487.1,173.6 L487.7,173.6 L488.3,173.3 L488.9,173.5 L489.5,173.7 L490.1,173.7 L490.7,173.5 L491.3,173.3 L491.9,173.3 L492.5,173.5 L493.1,173.7 L493.7,173.4 L494.3,173.6 L494.9,173.3 L495.5,173.6 L496.1,173.1 L496.7,173.3 L497.3,173.1 L497.9,173.4 L498.5,173.3 L499.1,173.0 L499.7,173.0 L500.3,173.1 L500.9,172.9 L501.5,173.0 L502.1,172.9 L502.7,173.3 L503.3,173.4 L503.9,173.0 L504.5,173.0 L505.1,173.1 L505.7,172.9 L506.3,172.9 L506.9,173.1 L507.5,173.0 L508.1,172.9 L508.7,172.8 L509.3,173.2 L509.9,172.7 L510.5,172.9 L511.1,172.6 L511.7,172.7 L512.3,172.8 L512.9,172.7 L513.5,172.9 L514.1,172.8 L514.7,172.5 L515.3,172.3 L515.9,172.9 L516.5,172.6 L517.1,173.0 L517.7,172.7 L518.3,172.5 L518.9,172.7 L519.5,172.6 L520.1,172.6 L520.7,172.4 L521.3,172.7 L521.9,172.8 L522.5,172.4 L523.1,172.9 L523.7,172.4 L524.3,172.6 L524.9,172.2 L525.5,172.1 L526.1,172.9 L526.7,172.8 L527.3,172.7 L527.9,172.1 L528.5,172.5 L529.1,172.5 L529.7,172.4 L530.3,172.5 L530.9,172.2 L531.5,172.4 L532.1,172.2 L532.7,172.3 L533.3,172.5 L533.9,172.2 L534.5,172.3 L535.1,172.3 L535.7,172.4 L536.3,172.5 L536.9,172.4 L537.5,172.4 L538.1,172.0 L538.7,172.2" fill="none" stroke="#e2e01a" stroke-width="1.4" stroke-linejoin="round" stroke-linecap="round" filter="url(#sb)"/>
<path d="M329.3,183.4 L329.9,182.8 L330.5,182.7 L331.1,182.4 L331.7,182.6 L332.3,182.1 L332.9,181.8 L333.5,181.9 L334.1,181.9 L334.7,181.6 L335.3,181.5 L335.9,181.2 L336.5,181.0 L337.1,180.8 L337.7,180.6 L338.3,180.5 L338.9,180.6 L339.5,180.3 L340.1,180.3 L340.7,180.2 L341.3,180.0 L341.9,179.6 L342.5,179.7 L343.1,179.5 L343.7,179.2 L344.3,179.5 L344.9,179.2 L345.5,179.1 L346.1,179.0 L346.7,179.3 L347.3,179.0 L347.9,179.2 L348.5,178.9 L349.1,178.8 L349.7,179.0 L350.3,179.0 L350.9,179.0 L351.5,178.8 L352.1,179.0 L352.7,178.9 L353.3,179.1 L353.9,179.3 L354.5,179.6 L355.1,179.7 L355.7,179.5 L356.3,179.6 L356.9,179.4 L357.5,179.7 L358.1,179.3 L358.7,179.3 L359.3,178.7 L359.9,178.5 L360.5,178.4 L361.1,178.1 L361.7,178.0 L362.3,177.7 L362.9,178.0 L363.5,177.8 L364.1,177.9 L364.7,177.7 L365.3,177.3 L365.9,177.8 L366.5,177.9 L367.1,177.3 L367.7,177.4 L368.3,177.5 L368.9,177.5 L369.5,177.1 L370.1,177.8 L370.7,177.6 L371.3,177.3 L371.9,177.0 L372.5,177.5 L373.1,177.8 L373.7,177.5 L374.3,177.6 L374.9,177.1 L375.5,177.4 L376.1,177.0 L376.7,177.7 L377.3,177.4 L377.9,176.8 L378.5,176.9 L379.1,177.3 L379.7,177.2 L380.3,177.1 L380.9,177.3 L381.5,177.6 L382.1,177.2 L382.7,176.8 L383.3,177.1 L383.9,176.8 L384.5,176.9 L385.1,177.1 L385.7,177.0 L386.3,176.8 L386.9,177.0 L387.5,176.9 L388.1,177.1 L388.7,177.0 L389.3,177.1 L389.9,176.9 L390.5,177.1 L391.1,176.9 L391.7,176.9 L392.3,176.8 L392.9,177.0 L393.5,176.6 L394.1,177.4 L394.7,176.8 L395.3,176.9 L395.9,176.8 L396.5,176.8 L397.1,176.9 L397.7,176.8 L398.3,176.8 L398.9,176.6 L399.5,176.6 L400.1,176.6 L400.7,177.2 L401.3,176.5 L401.9,176.6 L402.5,176.8 L403.1,177.1 L403.7,176.4 L404.3,176.5 L404.9,176.8 L405.5,176.8 L406.1,176.5 L406.7,176.4 L407.3,176.5 L407.9,176.9 L408.5,176.7 L409.1,176.9 L409.7,176.7 L410.3,176.7 L410.9,176.8 L411.5,176.6 L412.1,176.7 L412.7,176.5 L413.3,176.5 L413.9,176.7 L414.5,176.6 L415.1,176.5 L415.7,176.8 L416.3,176.7 L416.9,176.6 L417.5,176.5 L418.1,176.8 L418.7,177.1 L419.3,176.4 L419.9,176.3 L420.5,176.4 L421.1,176.4 L421.7,176.3 L422.3,176.3 L422.9,176.7 L423.5,176.7 L424.1,176.8 L424.7,176.7 L425.3,176.4 L425.9,176.7 L426.5,176.4 L427.1,176.4 L427.7,176.3 L428.3,176.8 L428.9,176.7 L429.5,176.4 L430.1,176.4 L430.7,176.5 L431.3,176.5 L431.9,176.7 L432.5,176.5 L433.1,176.6 L433.7,176.2 L434.3,176.4 L434.9,176.1 L435.5,176.8 L436.1,176.7 L436.7,176.6 L437.3,176.7 L437.9,176.8 L438.5,176.6 L439.1,176.1 L439.7,176.4 L440.3,176.0 L440.9,176.3 L441.5,176.2 L442.1,176.4 L442.7,176.5 L443.3,176.2 L443.9,176.4 L444.5,176.5 L445.1,176.4 L445.7,176.4 L446.3,175.9 L446.9,176.3 L447.5,176.6 L448.1,176.5 L448.7,176.1 L449.3,176.3 L449.9,176.4 L450.5,176.2 L451.1,176.5 L451.7,176.2 L452.3,176.3 L452.9,176.4 L453.5,176.8 L454.1,176.3 L454.7,176.3 L455.3,176.5 L455.9,176.3 L456.5,176.4 L457.1,175.9 L457.7,176.4 L458.3,176.4 L458.9,176.1 L459.5,176.6 L460.1,176.3 L460.7,176.3 L461.3,176.1 L461.9,176.0 L462.5,176.2 L463.1,176.0 L463.7,176.4 L464.3,176.5 L464.9,176.2 L465.5,176.0 L466.1,176.2 L466.7,176.1 L467.3,176.3 L467.9,176.3 L468.5,176.2 L469.1,176.3 L469.7,176.5 L470.3,176.6 L470.9,176.2 L471.5,176.4 L472.1,176.2 L472.7,176.1 L473.3,176.5 L473.9,176.3 L474.5,176.3 L475.1,176.3 L475.7,176.2 L476.3,176.0 L476.9,176.6 L477.5,176.4 L478.1,176.3 L478.7,176.4 L479.3,176.5 L479.9,176.2 L480.5,176.3 L481.1,176.1 L481.7,176.3 L482.3,176.1 L482.9,176.7 L483.5,176.1 L484.1,176.3 L484.7,176.3 L485.3,176.1 L485.9,176.3 L486.5,176.1 L487.1,176.1 L487.7,176.1 L488.3,176.0 L488.9,176.4 L489.5,176.2 L490.1,176.3 L490.7,175.8 L491.3,176.2 L491.9,175.9 L492.5,176.1 L493.1,176.3 L493.7,176.1 L494.3,176.0 L494.9,176.3 L495.5,176.3 L496.1,176.4 L496.7,175.7 L497.3,176.1 L497.9,175.9 L498.5,175.8 L499.1,176.0 L499.7,175.8 L500.3,175.5 L500.9,175.8 L501.5,175.9 L502.1,176.3 L502.7,175.8 L503.3,175.7 L503.9,175.6 L504.5,175.9 L505.1,175.9 L505.7,176.0 L506.3,175.6 L506.9,175.8 L507.5,175.5 L508.1,175.9 L508.7,175.6 L509.3,175.3 L509.9,176.1 L510.5,176.0 L511.1,175.9 L511.7,175.9 L512.3,175.6 L512.9,176.1 L513.5,175.6 L514.1,176.2 L514.7,175.9 L515.3,175.4 L515.9,176.0 L516.5,176.2 L517.1,175.7 L517.7,176.0 L518.3,175.7 L518.9,175.6 L519.5,175.2 L520.1,176.0 L520.7,175.7 L521.3,175.8 L521.9,175.5 L522.5,175.5 L523.1,175.9 L523.7,175.6 L524.3,175.6 L524.9,175.4 L525.5,175.7 L526.1,175.8 L526.7,175.6 L527.3,175.6 L527.9,175.4 L528.5,175.9 L529.1,175.5 L529.7,175.6 L530.3,176.0 L530.9,175.6 L531.5,175.3 L532.1,175.4 L532.7,175.5 L533.3,175.9 L533.9,175.6 L534.5,175.5 L535.1,175.7 L535.7,175.8 L536.3,175.4 L536.9,175.8 L537.5,175.7 L538.1,175.6 L538.7,175.0" fill="none" stroke="#5fe03a" stroke-width="1.4" stroke-linejoin="round" stroke-linecap="round" filter="url(#sb)"/>
<path d="M329.3,189.5 L329.9,189.5 L330.5,188.9 L331.1,189.2 L331.7,188.5 L332.3,188.0 L332.9,188.1 L333.5,187.8 L334.1,187.7 L334.7,187.3 L335.3,187.4 L335.9,186.8 L336.5,186.7 L337.1,186.2 L337.7,186.1 L338.3,186.1 L338.9,185.8 L339.5,185.7 L340.1,185.5 L340.7,185.5 L341.3,185.4 L341.9,185.3 L342.5,185.2 L343.1,184.9 L343.7,184.6 L344.3,184.2 L344.9,184.3 L345.5,184.1 L346.1,183.7 L346.7,184.3 L347.3,183.5 L347.9,183.8 L348.5,183.8 L349.1,183.6 L349.7,184.1 L350.3,183.6 L350.9,183.5 L351.5,184.1 L352.1,183.7 L352.7,183.6 L353.3,183.9 L353.9,184.0 L354.5,184.3 L355.1,184.4 L355.7,184.1 L356.3,184.5 L356.9,184.8 L357.5,184.0 L358.1,184.0 L358.7,184.0 L359.3,183.9 L359.9,183.3 L360.5,183.1 L361.1,182.9 L361.7,183.2 L362.3,183.2 L362.9,182.5 L363.5,182.5 L364.1,182.7 L364.7,182.6 L365.3,182.9 L365.9,182.9 L366.5,183.2 L367.1,183.0 L367.7,182.8 L368.3,183.0 L368.9,182.6 L369.5,182.5 L370.1,182.8 L370.7,182.9 L371.3,182.4 L371.9,182.9 L372.5,182.9 L373.1,182.6 L373.7,182.7 L374.3,182.6 L374.9,182.7 L375.5,182.8 L376.1,182.5 L376.7,182.9 L377.3,182.8 L377.9,182.8 L378.5,182.2 L379.1,182.2 L379.7,182.7 L380.3,182.5 L380.9,182.4 L381.5,182.4 L382.1,182.3 L382.7,182.5 L383.3,182.4 L383.9,182.4 L384.5,182.6 L385.1,182.3 L385.7,182.7 L386.3,182.0 L386.9,183.0 L387.5,182.2 L388.1,182.6 L388.7,182.6 L389.3,182.5 L389.9,182.6 L390.5,182.4 L391.1,182.1 L391.7,182.5 L392.3,182.7 L392.9,182.3 L393.5,182.1 L394.1,182.3 L394.7,182.5 L395.3,182.5 L395.9,182.6 L396.5,182.5 L397.1,182.5 L397.7,182.0 L398.3,182.8 L398.9,182.4 L399.5,182.5 L400.1,182.3 L400.7,182.3 L401.3,182.4 L401.9,182.7 L402.5,182.6 L403.1,182.5 L403.7,182.7 L404.3,182.2 L404.9,182.4 L405.5,182.2 L406.1,182.6 L406.7,182.3 L407.3,182.5 L407.9,182.7 L408.5,181.9 L409.1,182.7 L409.7,182.4 L410.3,182.2 L410.9,181.9 L411.5,182.2 L412.1,181.8 L412.7,182.3 L413.3,182.2 L413.9,182.6 L414.5,182.2 L415.1,182.5 L415.7,182.5 L416.3,182.7 L416.9,182.2 L417.5,182.4 L418.1,181.9 L418.7,182.0 L419.3,182.2 L419.9,182.2 L420.5,182.0 L421.1,182.2 L421.7,182.4 L422.3,182.1 L422.9,182.2 L423.5,182.0 L424.1,182.5 L424.7,182.6 L425.3,182.3 L425.9,182.2 L426.5,182.6 L427.1,182.3 L427.7,182.1 L428.3,181.9 L428.9,182.1 L429.5,182.7 L430.1,182.1 L430.7,182.8 L431.3,182.2 L431.9,182.1 L432.5,182.5 L433.1,182.1 L433.7,182.3 L434.3,182.0 L434.9,181.9 L435.5,182.0 L436.1,182.2 L436.7,182.0 L437.3,181.8 L437.9,182.3 L438.5,182.1 L439.1,182.1 L439.7,182.0 L440.3,181.7 L440.9,182.5 L441.5,182.0 L442.1,182.3 L442.7,182.4 L443.3,182.4 L443.9,182.2 L444.5,182.1 L445.1,182.2 L445.7,182.3 L446.3,182.2 L446.9,182.0 L447.5,182.2 L448.1,182.2 L448.7,182.3 L449.3,182.2 L449.9,182.4 L450.5,182.1 L451.1,182.3 L451.7,182.1 L452.3,182.0 L452.9,181.9 L453.5,182.1 L454.1,182.2 L454.7,182.3 L455.3,182.1 L455.9,182.0 L456.5,182.0 L457.1,182.3 L457.7,182.1 L458.3,182.0 L458.9,182.2 L459.5,181.8 L460.1,182.1 L460.7,182.0 L461.3,182.0 L461.9,181.8 L462.5,182.2 L463.1,182.4 L463.7,181.8 L464.3,182.1 L464.9,182.2 L465.5,182.5 L466.1,181.9 L466.7,181.8 L467.3,182.0 L467.9,182.4 L468.5,182.0 L469.1,182.1 L469.7,182.4 L470.3,181.6 L470.9,181.5 L471.5,182.2 L472.1,182.1 L472.7,181.7 L473.3,182.1 L473.9,182.0 L474.5,182.0 L475.1,181.8 L475.7,181.9 L476.3,181.8 L476.9,181.9 L477.5,181.9 L478.1,182.3 L478.7,182.0 L479.3,181.6 L479.9,182.0 L480.5,182.2 L481.1,181.9 L481.7,182.1 L482.3,181.9 L482.9,182.0 L483.5,181.7 L484.1,182.0 L484.7,181.6 L485.3,182.1 L485.9,181.5 L486.5,181.4 L487.1,181.9 L487.7,181.8 L488.3,181.8 L488.9,181.9 L489.5,181.8 L490.1,181.6 L490.7,181.8 L491.3,181.8 L491.9,181.8 L492.5,182.1 L493.1,181.6 L493.7,181.7 L494.3,181.8 L494.9,181.6 L495.5,181.4 L496.1,181.6 L496.7,181.9 L497.3,181.6 L497.9,181.8 L498.5,181.5 L499.1,181.7 L499.7,181.5 L500.3,181.4 L500.9,181.6 L501.5,181.6 L502.1,181.9 L502.7,181.2 L503.3,181.7 L503.9,181.9 L504.5,181.8 L505.1,181.4 L505.7,181.4 L506.3,181.4 L506.9,181.5 L507.5,181.5 L508.1,181.5 L508.7,181.6 L509.3,181.2 L509.9,181.2 L510.5,181.2 L511.1,181.1 L511.7,181.4 L512.3,181.5 L512.9,181.9 L513.5,181.5 L514.1,181.4 L514.7,181.6 L515.3,181.2 L515.9,181.4 L516.5,181.5 L517.1,181.5 L517.7,181.4 L518.3,181.2 L518.9,181.0 L519.5,181.2 L520.1,181.1 L520.7,181.4 L521.3,181.2 L521.9,181.4 L522.5,180.9 L523.1,181.4 L523.7,181.0 L524.3,180.9 L524.9,180.9 L525.5,181.1 L526.1,181.4 L526.7,181.3 L527.3,180.9 L527.9,181.2 L528.5,181.1 L529.1,180.8 L529.7,180.9 L530.3,180.7 L530.9,180.9 L531.5,180.6 L532.1,180.9 L532.7,180.9 L533.3,180.9 L533.9,180.9 L534.5,181.3 L535.1,181.0 L535.7,181.1 L536.3,181.2 L536.9,181.2 L537.5,181.2 L538.1,180.9 L538.7,180.8" fill="none" stroke="#22c4f4" stroke-width="1.4" stroke-linejoin="round" stroke-linecap="round" filter="url(#sb)"/>
<path d="M329.3,195.6 L329.9,195.5 L330.5,195.3 L331.1,195.1 L331.7,195.1 L332.3,194.7 L332.9,194.8 L333.5,194.5 L334.1,194.0 L334.7,194.1 L335.3,193.1 L335.9,193.8 L336.5,193.4 L337.1,193.3 L337.7,192.7 L338.3,193.4 L338.9,192.7 L339.5,192.5 L340.1,192.6 L340.7,192.2 L341.3,192.0 L341.9,192.2 L342.5,191.7 L343.1,191.9 L343.7,191.7 L344.3,191.7 L344.9,191.1 L345.5,191.5 L346.1,191.2 L346.7,191.4 L347.3,190.8 L347.9,191.2 L348.5,190.9 L349.1,190.9 L349.7,190.6 L350.3,190.8 L350.9,190.9 L351.5,190.7 L352.1,190.7 L352.7,190.9 L353.3,191.5 L353.9,191.3 L354.5,191.6 L355.1,191.5 L355.7,191.5 L356.3,191.5 L356.9,191.3 L357.5,191.5 L358.1,191.1 L358.7,190.9 L359.3,190.4 L359.9,190.5 L360.5,190.1 L361.1,190.0 L361.7,190.2 L362.3,189.8 L362.9,189.9 L363.5,190.1 L364.1,190.1 L364.7,189.8 L365.3,189.9 L365.9,189.9 L366.5,189.6 L367.1,189.4 L367.7,189.4 L368.3,189.9 L368.9,189.8 L369.5,189.5 L370.1,189.6 L370.7,189.6 L371.3,189.6 L371.9,189.7 L372.5,190.1 L373.1,189.5 L373.7,189.7 L374.3,189.5 L374.9,189.5 L375.5,189.5 L376.1,189.6 L376.7,189.5 L377.3,189.7 L377.9,189.7 L378.5,189.4 L379.1,190.0 L379.7,189.4 L380.3,189.7 L380.9,190.0 L381.5,189.4 L382.1,189.9 L382.7,189.9 L383.3,189.6 L383.9,189.2 L384.5,189.9 L385.1,189.6 L385.7,189.4 L386.3,189.8 L386.9,189.4 L387.5,189.8 L388.1,189.4 L388.7,189.7 L389.3,189.3 L389.9,189.5 L390.5,189.3 L391.1,189.4 L391.7,189.6 L392.3,189.5 L392.9,189.6 L393.5,189.8 L394.1,189.5 L394.7,189.1 L395.3,189.4 L395.9,189.5 L396.5,189.7 L397.1,189.7 L397.7,189.7 L398.3,189.4 L398.9,189.6 L399.5,189.2 L400.1,189.7 L400.7,189.5 L401.3,189.5 L401.9,189.3 L402.5,189.4 L403.1,189.2 L403.7,189.5 L404.3,189.1 L404.9,189.5 L405.5,189.4 L406.1,189.7 L406.7,189.3 L407.3,189.3 L407.9,189.3 L408.5,189.3 L409.1,189.2 L409.7,189.0 L410.3,189.0 L410.9,189.1 L411.5,189.1 L412.1,189.0 L412.7,188.9 L413.3,189.1 L413.9,189.3 L414.5,189.1 L415.1,189.3 L415.7,189.3 L416.3,189.3 L416.9,189.0 L417.5,189.0 L418.1,188.7 L418.7,188.9 L419.3,189.1 L419.9,188.8 L420.5,189.3 L421.1,189.3 L421.7,188.9 L422.3,189.1 L422.9,188.7 L423.5,188.7 L424.1,188.8 L424.7,188.9 L425.3,188.9 L425.9,188.7 L426.5,189.3 L427.1,188.9 L427.7,188.9 L428.3,189.0 L428.9,188.9 L429.5,188.8 L430.1,188.7 L430.7,188.5 L431.3,189.1 L431.9,188.6 L432.5,188.4 L433.1,188.6 L433.7,188.4 L434.3,189.1 L434.9,188.8 L435.5,189.0 L436.1,189.0 L436.7,188.8 L437.3,188.8 L437.9,188.5 L438.5,188.6 L439.1,188.5 L439.7,188.6 L440.3,188.5 L440.9,188.9 L441.5,188.7 L442.1,188.5 L442.7,188.2 L443.3,188.7 L443.9,188.7 L444.5,188.5 L445.1,188.3 L445.7,188.6 L446.3,188.7 L446.9,188.1 L447.5,188.6 L448.1,188.1 L448.7,188.5 L449.3,188.8 L449.9,188.4 L450.5,188.5 L451.1,188.3 L451.7,188.4 L452.3,188.9 L452.9,188.6 L453.5,188.3 L454.1,188.3 L454.7,188.3 L455.3,188.8 L455.9,188.4 L456.5,188.5 L457.1,188.2 L457.7,188.0 L458.3,188.6 L458.9,188.3 L459.5,188.1 L460.1,188.1 L460.7,188.1 L461.3,188.1 L461.9,187.9 L462.5,188.5 L463.1,188.3 L463.7,188.4 L464.3,188.2 L464.9,188.3 L465.5,188.2 L466.1,188.4 L466.7,188.4 L467.3,188.3 L467.9,188.1 L468.5,188.0 L469.1,188.0 L469.7,188.1 L470.3,188.1 L470.9,187.9 L471.5,188.5 L472.1,188.3 L472.7,187.8 L473.3,188.0 L473.9,187.9 L474.5,188.3 L475.1,188.4 L475.7,188.0 L476.3,188.3 L476.9,188.1 L477.5,188.4 L478.1,188.5 L478.7,188.3 L479.3,188.4 L479.9,188.2 L480.5,188.1 L481.1,188.0 L481.7,188.3 L482.3,188.2 L482.9,188.1 L483.5,188.2 L484.1,188.2 L484.7,188.0 L485.3,188.1 L485.9,188.5 L486.5,188.2 L487.1,188.5 L487.7,188.0 L488.3,188.0 L488.9,188.3 L489.5,188.4 L490.1,188.1 L490.7,188.4 L491.3,188.4 L491.9,188.5 L492.5,188.2 L493.1,188.2 L493.7,187.9 L494.3,188.2 L494.9,188.3 L495.5,188.5 L496.1,188.0 L496.7,188.1 L497.3,188.0 L497.9,188.4 L498.5,187.7 L499.1,188.0 L499.7,188.7 L500.3,188.4 L500.9,188.0 L501.5,188.2 L502.1,188.4 L502.7,188.4 L503.3,188.2 L503.9,188.1 L504.5,188.4 L505.1,188.3 L505.7,188.4 L506.3,188.4 L506.9,188.2 L507.5,188.6 L508.1,188.2 L508.7,188.4 L509.3,188.2 L509.9,188.2 L510.5,188.2 L511.1,188.2 L511.7,188.3 L512.3,188.6 L512.9,188.7 L513.5,188.6 L514.1,188.3 L514.7,188.6 L515.3,188.4 L515.9,188.7 L516.5,188.0 L517.1,188.6 L517.7,188.2 L518.3,188.5 L518.9,188.2 L519.5,188.5 L520.1,188.2 L520.7,187.9 L521.3,188.1 L521.9,188.3 L522.5,188.3 L523.1,187.8 L523.7,188.1 L524.3,188.2 L524.9,188.3 L525.5,188.3 L526.1,188.1 L526.7,188.0 L527.3,188.4 L527.9,188.2 L528.5,188.5 L529.1,188.2 L529.7,188.4 L530.3,188.1 L530.9,188.3 L531.5,188.3 L532.1,188.4 L532.7,188.1 L533.3,188.2 L533.9,188.1 L534.5,188.2 L535.1,188.4 L535.7,188.8 L536.3,188.2 L536.9,188.4 L537.5,188.2 L538.1,188.4 L538.7,188.3" fill="none" stroke="#2444ff" stroke-width="1.4" stroke-linejoin="round" stroke-linecap="round" filter="url(#sb)"/>
<rect x="328.8" y="16.4" width="210.7" height="196.9" fill="none" stroke="#1a1a1a" stroke-width="1.4"/>
<line x1="328.8" y1="82.05" x2="539.5" y2="82.05" stroke="#1a1a1a" stroke-width="1.4"/>
<line x1="328.8" y1="147.9" x2="539.5" y2="147.9" stroke="#1a1a1a" stroke-width="1.4"/>
<line x1="357.9" y1="82.05" x2="357.9" y2="80.55" stroke="#1a1a1a" stroke-width="1"/>
<line x1="394.2" y1="82.05" x2="394.2" y2="79.55" stroke="#1a1a1a" stroke-width="1"/>
<line x1="394.2" y1="16.4" x2="394.2" y2="18.4" stroke="#1a1a1a" stroke-width="1"/>
<line x1="430.5" y1="82.05" x2="430.5" y2="80.55" stroke="#1a1a1a" stroke-width="1"/>
<line x1="466.8" y1="82.05" x2="466.8" y2="79.55" stroke="#1a1a1a" stroke-width="1"/>
<line x1="466.8" y1="16.4" x2="466.8" y2="18.4" stroke="#1a1a1a" stroke-width="1"/>
<line x1="503.2" y1="82.05" x2="503.2" y2="80.55" stroke="#1a1a1a" stroke-width="1"/>
<line x1="357.9" y1="147.9" x2="357.9" y2="146.4" stroke="#1a1a1a" stroke-width="1"/>
<line x1="394.2" y1="147.9" x2="394.2" y2="145.4" stroke="#1a1a1a" stroke-width="1"/>
<line x1="394.2" y1="82.05" x2="394.2" y2="84.05" stroke="#1a1a1a" stroke-width="1"/>
<line x1="430.5" y1="147.9" x2="430.5" y2="146.4" stroke="#1a1a1a" stroke-width="1"/>
<line x1="466.8" y1="147.9" x2="466.8" y2="145.4" stroke="#1a1a1a" stroke-width="1"/>
<line x1="466.8" y1="82.05" x2="466.8" y2="84.05" stroke="#1a1a1a" stroke-width="1"/>
<line x1="503.2" y1="147.9" x2="503.2" y2="146.4" stroke="#1a1a1a" stroke-width="1"/>
<line x1="357.9" y1="213.3" x2="357.9" y2="211.8" stroke="#1a1a1a" stroke-width="1"/>
<line x1="394.2" y1="213.3" x2="394.2" y2="210.8" stroke="#1a1a1a" stroke-width="1"/>
<line x1="394.2" y1="147.9" x2="394.2" y2="149.9" stroke="#1a1a1a" stroke-width="1"/>
<line x1="430.5" y1="213.3" x2="430.5" y2="211.8" stroke="#1a1a1a" stroke-width="1"/>
<line x1="466.8" y1="213.3" x2="466.8" y2="210.8" stroke="#1a1a1a" stroke-width="1"/>
<line x1="466.8" y1="147.9" x2="466.8" y2="149.9" stroke="#1a1a1a" stroke-width="1"/>
<line x1="503.2" y1="213.3" x2="503.2" y2="211.8" stroke="#1a1a1a" stroke-width="1"/>
<line x1="328.8" y1="39.8" x2="331.3" y2="39.8" stroke="#1a1a1a" stroke-width="1"/>
<line x1="539.5" y1="39.8" x2="537.0" y2="39.8" stroke="#1a1a1a" stroke-width="1"/>
<line x1="328.8" y1="72.7" x2="331.3" y2="72.7" stroke="#1a1a1a" stroke-width="1"/>
<line x1="539.5" y1="72.7" x2="537.0" y2="72.7" stroke="#1a1a1a" stroke-width="1"/>
<line x1="328.8" y1="23.4" x2="330.3" y2="23.4" stroke="#1a1a1a" stroke-width="1"/>
<line x1="539.5" y1="23.4" x2="538.0" y2="23.4" stroke="#1a1a1a" stroke-width="1"/>
<line x1="328.8" y1="56.3" x2="330.3" y2="56.3" stroke="#1a1a1a" stroke-width="1"/>
<line x1="539.5" y1="56.3" x2="538.0" y2="56.3" stroke="#1a1a1a" stroke-width="1"/>
<line x1="328.8" y1="105.6" x2="331.3" y2="105.6" stroke="#1a1a1a" stroke-width="1"/>
<line x1="539.5" y1="105.6" x2="537.0" y2="105.6" stroke="#1a1a1a" stroke-width="1"/>
<line x1="328.8" y1="138.5" x2="331.3" y2="138.5" stroke="#1a1a1a" stroke-width="1"/>
<line x1="539.5" y1="138.5" x2="537.0" y2="138.5" stroke="#1a1a1a" stroke-width="1"/>
<line x1="328.8" y1="89.1" x2="330.3" y2="89.1" stroke="#1a1a1a" stroke-width="1"/>
<line x1="539.5" y1="89.1" x2="538.0" y2="89.1" stroke="#1a1a1a" stroke-width="1"/>
<line x1="328.8" y1="122.0" x2="330.3" y2="122.0" stroke="#1a1a1a" stroke-width="1"/>
<line x1="539.5" y1="122.0" x2="538.0" y2="122.0" stroke="#1a1a1a" stroke-width="1"/>
<line x1="328.8" y1="180.6" x2="331.3" y2="180.6" stroke="#1a1a1a" stroke-width="1"/>
<line x1="539.5" y1="180.6" x2="537.0" y2="180.6" stroke="#1a1a1a" stroke-width="1"/>
<line x1="328.8" y1="164.2" x2="330.3" y2="164.2" stroke="#1a1a1a" stroke-width="1"/>
<line x1="539.5" y1="164.2" x2="538.0" y2="164.2" stroke="#1a1a1a" stroke-width="1"/>
<line x1="328.8" y1="197.0" x2="330.3" y2="197.0" stroke="#1a1a1a" stroke-width="1"/>
<line x1="539.5" y1="197.0" x2="538.0" y2="197.0" stroke="#1a1a1a" stroke-width="1"/>
<g transform="translate(43.6,23.18) scale(1.05,1)"><text x="0" y="0" font-size="11.4" text-anchor="end" font-weight="normal" font-family="Liberation Sans, sans-serif" fill="#111" stroke="#111" stroke-width="0.2" >0</text></g>
<g transform="translate(43.6,55.48) scale(1.05,1)"><text x="0" y="0" font-size="11.4" text-anchor="end" font-weight="normal" font-family="Liberation Sans, sans-serif" fill="#111" stroke="#111" stroke-width="0.2" >-5</text></g>
<g transform="translate(43.6,86.98) scale(1.05,1)"><text x="0" y="0" font-size="11.4" text-anchor="end" font-weight="normal" font-family="Liberation Sans, sans-serif" fill="#111" stroke="#111" stroke-width="0.2" >0</text></g>
<g transform="translate(43.6,119.58) scale(1.05,1)"><text x="0" y="0" font-size="11.4" text-anchor="end" font-weight="normal" font-family="Liberation Sans, sans-serif" fill="#111" stroke="#111" stroke-width="0.2" >-5</text></g>
<g transform="translate(43.6,151.58) scale(1.05,1)"><text x="0" y="0" font-size="11.4" text-anchor="end" font-weight="normal" font-family="Liberation Sans, sans-serif" fill="#111" stroke="#111" stroke-width="0.2" >0</text></g>
<g transform="translate(43.6,183.78) scale(1.05,1)"><text x="0" y="0" font-size="11.4" text-anchor="end" font-weight="normal" font-family="Liberation Sans, sans-serif" fill="#111" stroke="#111" stroke-width="0.2" >-5</text></g>
<g transform="translate(43.6,215.28) scale(1.05,1)"><text x="0" y="0" font-size="11.4" text-anchor="end" font-weight="normal" font-family="Liberation Sans, sans-serif" fill="#111" stroke="#111" stroke-width="0.2" >-10</text></g>
<g transform="translate(324.4,42.28) scale(1.05,1)"><text x="0" y="0" font-size="11.4" text-anchor="end" font-weight="normal" font-family="Liberation Sans, sans-serif" fill="#111" stroke="#111" stroke-width="0.2" >-35</text></g>
<g transform="translate(324.4,75.68) scale(1.05,1)"><text x="0" y="0" font-size="11.4" text-anchor="end" font-weight="normal" font-family="Liberation Sans, sans-serif" fill="#111" stroke="#111" stroke-width="0.2" >-70</text></g>
<g transform="translate(324.4,108.78) scale(1.05,1)"><text x="0" y="0" font-size="11.4" text-anchor="end" font-weight="normal" font-family="Liberation Sans, sans-serif" fill="#111" stroke="#111" stroke-width="0.2" >-35</text></g>
<g transform="translate(324.4,141.28) scale(1.05,1)"><text x="0" y="0" font-size="11.4" text-anchor="end" font-weight="normal" font-family="Liberation Sans, sans-serif" fill="#111" stroke="#111" stroke-width="0.2" >-70</text></g>
<g transform="translate(324.4,182.78) scale(1.05,1)"><text x="0" y="0" font-size="11.4" text-anchor="end" font-weight="normal" font-family="Liberation Sans, sans-serif" fill="#111" stroke="#111" stroke-width="0.2" >-20</text></g>
<g transform="translate(324.4,216.48) scale(1.05,1)"><text x="0" y="0" font-size="11.4" text-anchor="end" font-weight="normal" font-family="Liberation Sans, sans-serif" fill="#111" stroke="#111" stroke-width="0.2" >-40</text></g>
<g transform="translate(111.96,225.08) scale(1.05,1)"><text x="0" y="0" font-size="11.4" text-anchor="middle" font-weight="normal" font-family="Liberation Sans, sans-serif" fill="#111" stroke="#111" stroke-width="0.2" >10</text></g>
<g transform="translate(393.99,226.48) scale(1.05,1)"><text x="0" y="0" font-size="11.4" text-anchor="middle" font-weight="normal" font-family="Liberation Sans, sans-serif" fill="#111" stroke="#111" stroke-width="0.2" >10</text></g>
<g transform="translate(183.13,225.08) scale(1.05,1)"><text x="0" y="0" font-size="11.4" text-anchor="middle" font-weight="normal" font-family="Liberation Sans, sans-serif" fill="#111" stroke="#111" stroke-width="0.2" >20</text></g>
<g transform="translate(466.64,226.48) scale(1.05,1)"><text x="0" y="0" font-size="11.4" text-anchor="middle" font-weight="normal" font-family="Liberation Sans, sans-serif" fill="#111" stroke="#111" stroke-width="0.2" >20</text></g>
<g transform="translate(254.30,225.08) scale(1.05,1)"><text x="0" y="0" font-size="11.4" text-anchor="middle" font-weight="normal" font-family="Liberation Sans, sans-serif" fill="#111" stroke="#111" stroke-width="0.2" >30</text></g>
<g transform="translate(539.30,226.48) scale(1.05,1)"><text x="0" y="0" font-size="11.4" text-anchor="middle" font-weight="normal" font-family="Liberation Sans, sans-serif" fill="#111" stroke="#111" stroke-width="0.2" >30</text></g>
<text x="151.2" y="246.3" font-size="13.65" text-anchor="middle" font-weight="bold" font-family="Liberation Sans, sans-serif" fill="#111" stroke="#111" stroke-width="0.1" >Frequency [GHz]</text>
<text x="433.6" y="248.0" font-size="13.9" text-anchor="middle" font-weight="bold" font-family="Liberation Sans, sans-serif" fill="#111" stroke="#111" stroke-width="0.1" >Frequency [GHz]</text>
<text x="0" y="0" font-size="13.65" text-anchor="middle" font-weight="bold" font-family="Liberation Sans, sans-serif" fill="#111" stroke="#111" stroke-width="0.1" transform="translate(27.2,108.3) rotate(-90)">S-parameter (S11) [dB]</text>
<text x="0" y="0" font-size="13.9" text-anchor="middle" font-weight="bold" font-family="Liberation Sans, sans-serif" fill="#111" stroke="#111" stroke-width="0.1" transform="translate(300.9,107.3) rotate(-90)">S-parameter (S12) [dB]</text>
<text x="4.9" y="21.4" font-size="17.3" text-anchor="start" font-weight="normal" font-family="Liberation Sans, sans-serif" fill="#111" stroke="#111" stroke-width="0.45" >(a)</text>
<text x="277.4" y="21.4" font-size="17.3" text-anchor="start" font-weight="normal" font-family="Liberation Sans, sans-serif" fill="#111" stroke="#111" stroke-width="0.45" >(b)</text>
<text x="253.3" y="77.7" font-size="9.0" text-anchor="end" font-weight="normal" font-family="Liberation Sans, sans-serif" fill="#111" stroke="#111" stroke-width="0.2" >Referece (Metal/Metal)</text>
<text x="253.2" y="142.3" font-size="9.0" text-anchor="end" font-weight="normal" font-family="Liberation Sans, sans-serif" fill="#111" stroke="#111" stroke-width="0.2" >Device 1 (Graphene/Metal)</text>
<text x="253.0" y="206.3" font-size="9.0" text-anchor="end" font-weight="normal" font-family="Liberation Sans, sans-serif" fill="#111" stroke="#111" stroke-width="0.2" >Device 2 (Metal/Graphene)</text>
<text x="536.3" y="77.0" font-size="9.2" text-anchor="end" font-weight="normal" font-family="Liberation Sans, sans-serif" fill="#111" stroke="#111" stroke-width="0.2" >Referece (Metal/Metal)</text>
<text x="535.5" y="141.6" font-size="9.2" text-anchor="end" font-weight="normal" font-family="Liberation Sans, sans-serif" fill="#111" stroke="#111" stroke-width="0.2" >Device 1 (Graphene/Metal)</text>
<text x="535.3" y="207.0" font-size="9.2" text-anchor="end" font-weight="normal" font-family="Liberation Sans, sans-serif" fill="#111" stroke="#111" stroke-width="0.2" >Device 2 (Metal/Graphene)</text>
<text x="134.2" y="110.2" font-size="9.0" text-anchor="start" font-weight="normal" font-family="Liberation Sans, sans-serif" fill="#111" stroke="#111" stroke-width="0.2" >150 µm</text>
<text x="102.8" y="131.4" font-size="9.2" text-anchor="start" font-weight="normal" font-family="Liberation Sans, sans-serif" fill="#111" stroke="#111" stroke-width="0.2" >Ant. gap</text>
<text x="108.3" y="142.9" font-size="9.2" text-anchor="start" font-weight="normal" font-family="Liberation Sans, sans-serif" fill="#111" stroke="#111" stroke-width="0.2" >= 10 µm</text>
<text x="92.8" y="160.6" font-size="9.2" text-anchor="start" font-weight="normal" font-family="Liberation Sans, sans-serif" fill="#111" stroke="#111" stroke-width="0.2" >150 µm</text>
<text x="52.0" y="199.6" font-size="9.2" text-anchor="start" font-weight="normal" font-family="Liberation Sans, sans-serif" fill="#111" stroke="#111" stroke-width="0.2" >Ant. gap = 10µm</text>
<text x="375.6" y="25.7" font-size="9.4" text-anchor="start" font-weight="normal" font-family="Liberation Sans, sans-serif" fill="#111" stroke="#111" stroke-width="0.2" >Ant. gap = 10µm</text>
<text x="361.6" y="66.0" font-size="9.2" text-anchor="start" font-weight="normal" font-family="Liberation Sans, sans-serif" fill="#111" stroke="#111" stroke-width="0.2" >150 µm</text>
<text x="356.4" y="98.2" font-size="9.5" text-anchor="start" font-weight="normal" font-family="Liberation Sans, sans-serif" fill="#111" stroke="#111" stroke-width="0.2" >Ant. gap = 10µm</text>
<text x="360.3" y="139.0" font-size="9.2" text-anchor="start" font-weight="normal" font-family="Liberation Sans, sans-serif" fill="#111" stroke="#111" stroke-width="0.2" >150 µm</text>
<text x="340.8" y="161.4" font-size="9.4" text-anchor="start" font-weight="normal" font-family="Liberation Sans, sans-serif" fill="#111" stroke="#111" stroke-width="0.2" >Ant. gap = 10µm</text>
<text x="359.5" y="206.8" font-size="10.2" text-anchor="start" font-weight="normal" font-family="Liberation Sans, sans-serif" fill="#111" stroke="#111" stroke-width="0.2" >150 µm</text>
<line x1="140.3" y1="135.4" x2="146.5" y2="123.6" stroke="#000" stroke-width="1.6"/><polygon points="148.8,119.2 148.8,124.8 144.2,122.4" fill="#000"/>
<line x1="104.3" y1="188.6" x2="104.3" y2="170.2" stroke="#000" stroke-width="1.6"/><polygon points="104.3,165.2 106.9,170.2 101.7,170.2" fill="#000"/>
<line x1="397.5" y1="29.0" x2="385.5" y2="49.5" stroke="#000" stroke-width="1.6"/><polygon points="383.0,53.8 383.3,48.2 387.8,50.8" fill="#000"/>
<line x1="395" y1="101.2" x2="381.4" y2="128.7" stroke="#000" stroke-width="1.6"/><polygon points="379.2,133.2 379.1,127.6 383.7,129.9" fill="#000"/>
<line x1="373.4" y1="164.6" x2="373.4" y2="191.6" stroke="#000" stroke-width="1.6"/><polygon points="373.4,196.6 370.8,191.6 376.0,191.6" fill="#000"/>
<rect x="64.2" y="99.9" width="36.5" height="34.5" fill="#fff" stroke="#1a1a1a" stroke-width="0.8"/>
<path d="M64.6,111.5 L65.0,112.3 L65.4,113.0 L65.8,113.7 L66.2,114.4 L66.6,115.1 L67.0,115.8 L67.4,116.5 L67.8,117.2 L68.2,117.9 L68.6,118.6 L69.0,119.3 L69.4,120.0 L69.8,120.7 L70.2,121.4 L70.6,122.0 L71.0,122.7 L71.4,123.4 L71.8,124.0 L72.2,124.6 L72.6,125.3 L73.0,125.9 L73.4,126.5 L73.8,127.1 L74.2,127.7 L74.6,128.2 L75.0,128.8 L75.4,129.3 L75.8,129.8 L76.2,130.3 L76.6,130.8 L77.0,131.2 L77.4,131.7 L77.8,132.1 L78.2,132.4 L78.6,132.7 L79.0,133.0 L79.4,133.3 L79.8,133.5 L80.2,133.7 L80.6,133.7 L81.0,133.7 L81.4,133.7 L81.8,133.7 L82.2,133.7 L82.7,133.7 L83.1,133.7 L83.5,133.5 L83.9,133.3 L84.3,133.1 L84.7,132.7 L85.1,132.4 L85.5,132.0 L85.9,131.6 L86.3,131.2 L86.7,130.7 L87.1,130.2 L87.5,129.7 L87.9,129.1 L88.3,128.6 L88.7,128.0 L89.1,127.4 L89.5,126.8 L89.9,126.1 L90.3,125.5 L90.7,124.8 L91.1,124.2 L91.5,123.5 L91.9,122.8 L92.3,122.1 L92.7,121.4 L93.1,120.7 L93.5,120.0 L93.9,119.3 L94.3,118.5 L94.7,117.8 L95.1,117.1 L95.5,116.3 L95.9,115.6 L96.3,114.8 L96.7,114.0 L97.1,113.3 L97.5,112.5 L97.9,111.8 L98.3,111.0 L98.7,110.2 L99.1,109.4 L99.5,108.6 L99.9,107.9 L100.3,107.1" fill="none" stroke="#ff9a1a" stroke-width="1.8" stroke-linejoin="round" stroke-linecap="round" filter="url(#sb)"/>
<path d="M64.6,107.3 L65.0,108.0 L65.4,108.8 L65.8,109.6 L66.2,110.3 L66.6,111.1 L67.0,111.9 L67.4,112.6 L67.8,113.4 L68.2,114.1 L68.6,114.8 L69.0,115.6 L69.4,116.3 L69.8,117.0 L70.2,117.8 L70.6,118.5 L71.0,119.2 L71.4,119.9 L71.8,120.6 L72.2,121.3 L72.6,122.0 L73.0,122.6 L73.4,123.3 L73.8,123.9 L74.2,124.6 L74.6,125.2 L75.0,125.8 L75.4,126.4 L75.8,127.0 L76.2,127.6 L76.6,128.1 L77.0,128.6 L77.4,129.1 L77.8,129.6 L78.2,130.0 L78.6,130.4 L79.0,130.8 L79.4,131.2 L79.8,131.5 L80.2,131.8 L80.6,132.0 L81.0,132.2 L81.4,132.3 L81.8,132.4 L82.2,132.5 L82.7,132.5 L83.1,132.5 L83.5,132.4 L83.9,132.2 L84.3,132.0 L84.7,131.8 L85.1,131.5 L85.5,131.1 L85.9,130.8 L86.3,130.4 L86.7,129.9 L87.1,129.4 L87.5,128.9 L87.9,128.4 L88.3,127.8 L88.7,127.2 L89.1,126.6 L89.5,126.0 L89.9,125.4 L90.3,124.7 L90.7,124.0 L91.1,123.3 L91.5,122.6 L91.9,121.9 L92.3,121.2 L92.7,120.4 L93.1,119.7 L93.5,118.9 L93.9,118.1 L94.3,117.4 L94.7,116.6 L95.1,115.8 L95.5,115.0 L95.9,114.2 L96.3,113.4 L96.7,112.6 L97.1,111.8 L97.5,111.0 L97.9,110.1 L98.3,109.3 L98.7,108.5 L99.1,107.7 L99.5,106.8 L99.9,106.0 L100.3,105.1" fill="none" stroke="#5fe03a" stroke-width="1.8" stroke-linejoin="round" stroke-linecap="round" filter="url(#sb)"/>
<path d="M64.6,103.2 L65.0,103.8 L65.4,104.3 L65.8,104.9 L66.2,105.5 L66.6,106.0 L67.0,106.6 L67.4,107.2 L67.8,107.7 L68.2,108.3 L68.6,108.9 L69.0,109.4 L69.4,110.0 L69.8,110.5 L70.2,111.1 L70.6,111.6 L71.0,112.2 L71.4,112.7 L71.8,113.2 L72.2,113.7 L72.6,114.3 L73.0,114.8 L73.4,115.3 L73.8,115.8 L74.2,116.3 L74.6,116.8 L75.0,117.3 L75.4,117.7 L75.8,118.2 L76.2,118.6 L76.6,119.1 L77.0,119.5 L77.4,119.9 L77.8,120.3 L78.2,120.7 L78.6,121.1 L79.0,121.4 L79.4,121.7 L79.8,122.1 L80.2,122.3 L80.6,122.6 L81.0,122.8 L81.4,123.0 L81.8,123.2 L82.2,123.3 L82.7,123.4 L83.1,123.5 L83.5,123.5 L83.9,123.5 L84.3,123.4 L84.7,123.3 L85.1,123.2 L85.5,123.0 L85.9,122.8 L86.3,122.5 L86.7,122.2 L87.1,121.9 L87.5,121.5 L87.9,121.1 L88.3,120.7 L88.7,120.3 L89.1,119.8 L89.5,119.3 L89.9,118.8 L90.3,118.2 L90.7,117.7 L91.1,117.1 L91.5,116.5 L91.9,115.9 L92.3,115.3 L92.7,114.7 L93.1,114.1 L93.5,113.4 L93.9,112.8 L94.3,112.1 L94.7,111.5 L95.1,110.8 L95.5,110.1 L95.9,109.4 L96.3,108.7 L96.7,108.1 L97.1,107.4 L97.5,106.7 L97.9,105.9 L98.3,105.2 L98.7,104.5 L99.1,103.8 L99.5,103.1 L99.9,102.4 L100.3,101.6" fill="none" stroke="#22c4f4" stroke-width="1.8" stroke-linejoin="round" stroke-linecap="round" filter="url(#sb)"/>
<path d="M64.6,101.9 L65.0,102.6 L65.4,103.2 L65.8,103.9 L66.2,104.5 L66.6,105.2 L67.0,105.8 L67.4,106.4 L67.8,107.1 L68.2,107.7 L68.6,108.3 L69.0,108.9 L69.4,109.6 L69.8,110.2 L70.2,110.8 L70.6,111.4 L71.0,112.0 L71.4,112.6 L71.8,113.2 L72.2,113.8 L72.6,114.4 L73.0,115.0 L73.4,115.5 L73.8,116.1 L74.2,116.6 L74.6,117.2 L75.0,117.7 L75.4,118.3 L75.8,118.8 L76.2,119.3 L76.6,119.8 L77.0,120.2 L77.4,120.7 L77.8,121.1 L78.2,121.6 L78.6,122.0 L79.0,122.4 L79.4,122.7 L79.8,123.1 L80.2,123.4 L80.6,123.6 L81.0,123.9 L81.4,124.1 L81.8,124.3 L82.2,124.4 L82.7,124.5 L83.1,124.6 L83.5,124.6 L83.9,124.6 L84.3,124.5 L84.7,124.4 L85.1,124.2 L85.5,124.0 L85.9,123.8 L86.3,123.5 L86.7,123.2 L87.1,122.8 L87.5,122.5 L87.9,122.0 L88.3,121.6 L88.7,121.1 L89.1,120.6 L89.5,120.1 L89.9,119.6 L90.3,119.0 L90.7,118.4 L91.1,117.8 L91.5,117.2 L91.9,116.6 L92.3,115.9 L92.7,115.3 L93.1,114.6 L93.5,114.0 L93.9,113.3 L94.3,112.6 L94.7,111.9 L95.1,111.2 L95.5,110.5 L95.9,109.8 L96.3,109.1 L96.7,108.4 L97.1,107.6 L97.5,106.9 L97.9,106.2 L98.3,105.4 L98.7,104.7 L99.1,103.9 L99.5,103.2 L99.9,102.4 L100.3,101.7" fill="none" stroke="#2444ff" stroke-width="1.8" stroke-linejoin="round" stroke-linecap="round" filter="url(#sb)"/>
<path d="M64.6,101.3 L65.0,102.0 L65.4,102.8 L65.8,103.5 L66.2,104.2 L66.6,104.9 L67.0,105.6 L67.4,106.3 L67.8,107.0 L68.2,107.8 L68.6,108.5 L69.0,109.2 L69.4,109.8 L69.8,110.5 L70.2,111.2 L70.6,111.9 L71.0,112.6 L71.4,113.2 L71.8,113.9 L72.2,114.6 L72.6,115.2 L73.0,115.9 L73.4,116.5 L73.8,117.1 L74.2,117.8 L74.6,118.4 L75.0,119.0 L75.4,119.5 L75.8,120.1 L76.2,120.7 L76.6,121.2 L77.0,121.8 L77.4,122.3 L77.8,122.8 L78.2,123.2 L78.6,123.7 L79.0,124.1 L79.4,124.5 L79.8,124.9 L80.2,125.2 L80.6,125.5 L81.0,125.8 L81.4,126.0 L81.8,126.2 L82.2,126.3 L82.7,126.4 L83.1,126.5 L83.5,126.5 L83.9,126.5 L84.3,126.4 L84.7,126.3 L85.1,126.1 L85.5,125.9 L85.9,125.6 L86.3,125.3 L86.7,125.0 L87.1,124.6 L87.5,124.2 L87.9,123.8 L88.3,123.3 L88.7,122.8 L89.1,122.3 L89.5,121.7 L89.9,121.2 L90.3,120.6 L90.7,120.0 L91.1,119.4 L91.5,118.7 L91.9,118.1 L92.3,117.4 L92.7,116.7 L93.1,116.1 L93.5,115.4 L93.9,114.7 L94.3,114.0 L94.7,113.3 L95.1,112.5 L95.5,111.8 L95.9,111.1 L96.3,110.3 L96.7,109.6 L97.1,108.8 L97.5,108.1 L97.9,107.3 L98.3,106.6 L98.7,105.8 L99.1,105.0 L99.5,104.2 L99.9,103.5 L100.3,102.7" fill="none" stroke="#a21af0" stroke-width="1.8" stroke-linejoin="round" stroke-linecap="round" filter="url(#sb)"/>
<text x="62.6" y="102.4" font-size="5.0" text-anchor="end" font-weight="normal" font-family="Liberation Sans, sans-serif" fill="#111" stroke="#111" stroke-width="0.2" >-5</text>
<text x="62.6" y="116.2" font-size="5.0" text-anchor="end" font-weight="normal" font-family="Liberation Sans, sans-serif" fill="#111" stroke="#111" stroke-width="0.2" >-6</text>
<text x="62.6" y="130.0" font-size="5.0" text-anchor="end" font-weight="normal" font-family="Liberation Sans, sans-serif" fill="#111" stroke="#111" stroke-width="0.2" >-7</text>
<text x="71.0" y="140.1" font-size="4.2" text-anchor="middle" font-weight="normal" font-family="Liberation Sans, sans-serif" fill="#111" stroke="#111" stroke-width="0.2" >14</text>
<text x="82.2" y="140.1" font-size="4.2" text-anchor="middle" font-weight="normal" font-family="Liberation Sans, sans-serif" fill="#111" stroke="#111" stroke-width="0.2" >15</text>
<text x="94.5" y="140.1" font-size="4.2" text-anchor="middle" font-weight="normal" font-family="Liberation Sans, sans-serif" fill="#111" stroke="#111" stroke-width="0.2" >16</text>
<text x="82.0" y="145.0" font-size="4.7" text-anchor="middle" font-weight="bold" font-family="Liberation Sans, sans-serif" fill="#111" stroke="#111" stroke-width="0.1" >Frequency [GHz]</text>
<text x="0" y="0" font-size="4.6" text-anchor="middle" font-weight="normal" font-family="Liberation Sans, sans-serif" fill="#111" stroke="#111" stroke-width="0.2" transform="translate(57.2,120.5) rotate(-90)">S-parameter [S11] [dB]</text>
</svg>
</body></html>
